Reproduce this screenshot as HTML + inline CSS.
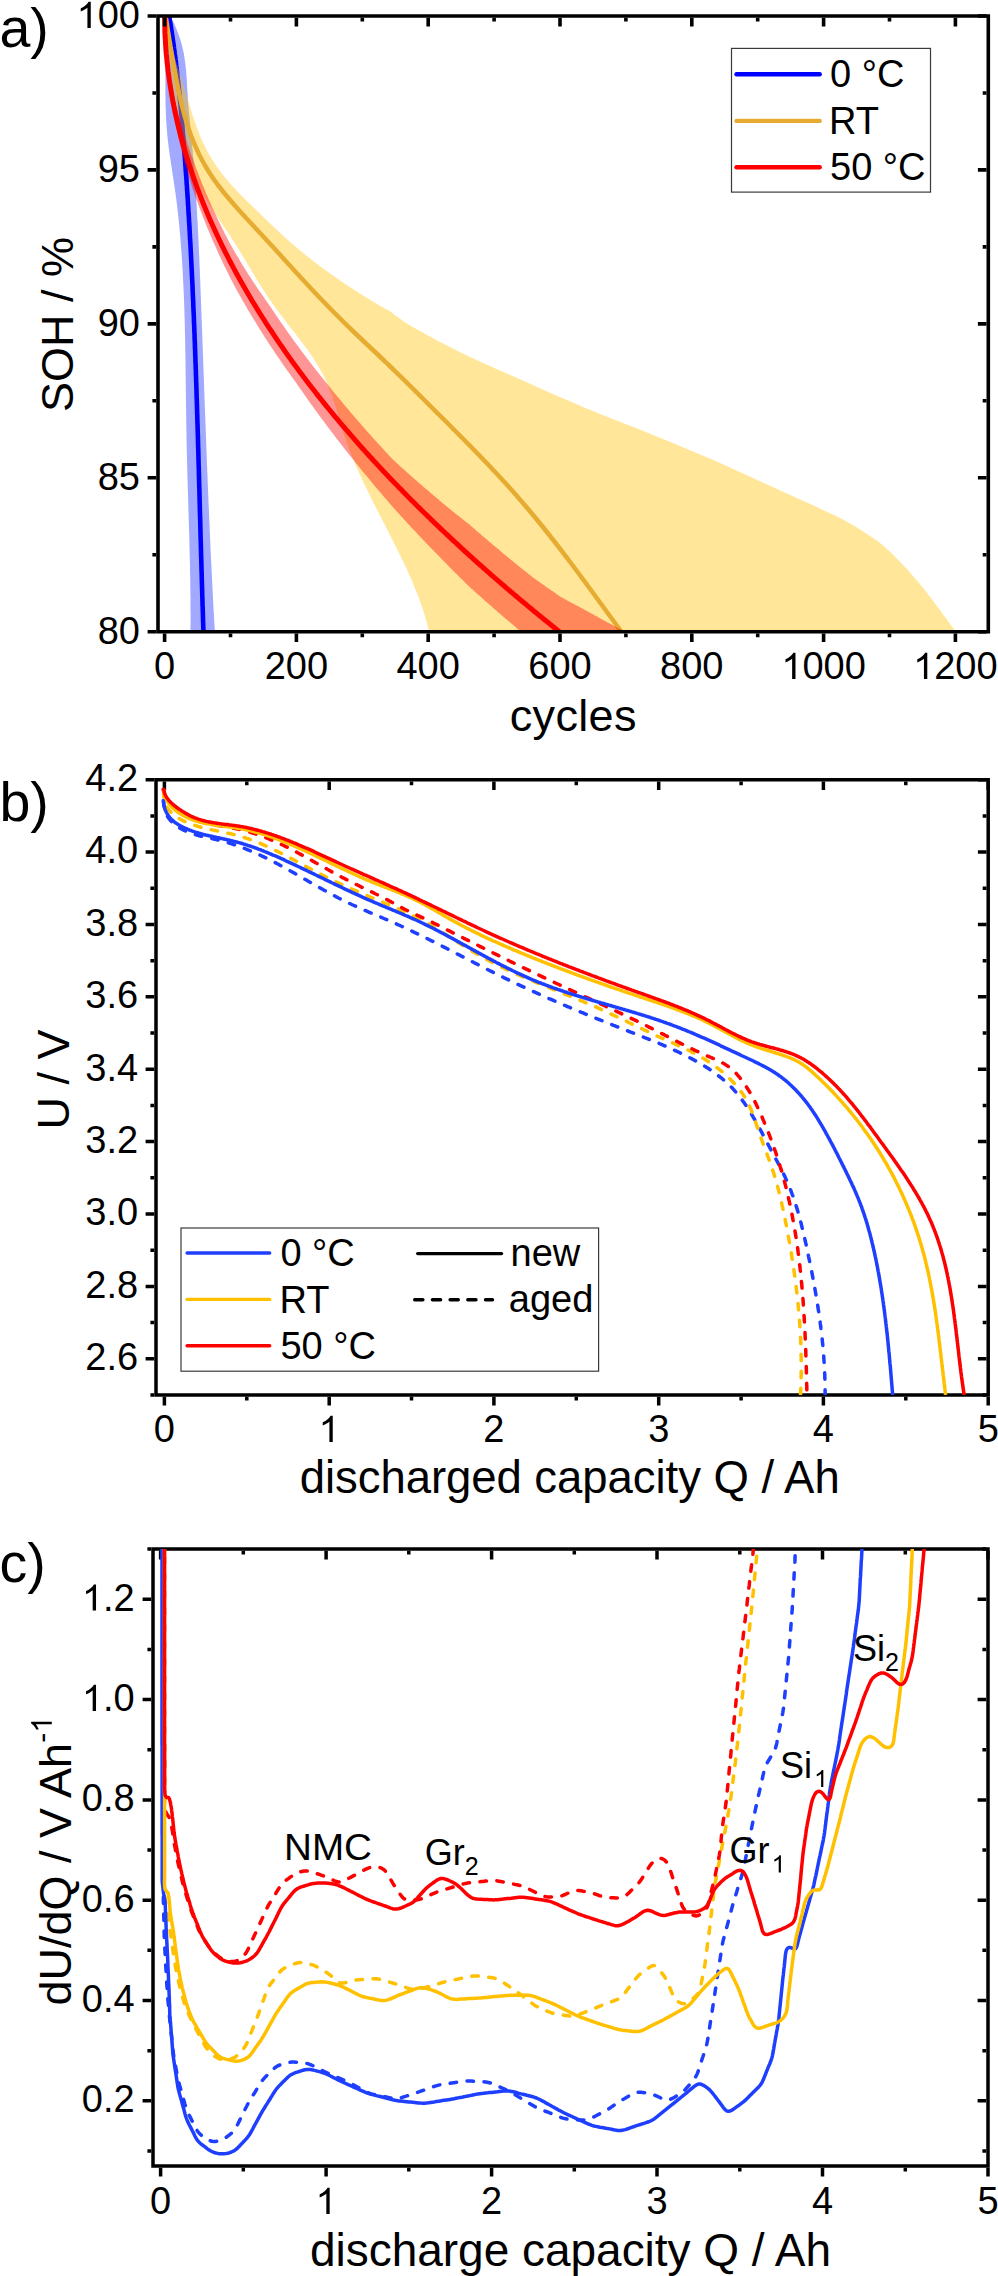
<!DOCTYPE html>
<html><head><meta charset="utf-8"><style>
html,body{margin:0;padding:0;background:#fff;}
svg{display:block;}
text{font-family:"Liberation Sans",sans-serif;fill:#000;}
</style></head><body>
<svg width="998" height="2276" viewBox="0 0 998 2276">
<rect width="998" height="2276" fill="#fff"/>
<defs><clipPath id="ca"><rect x="158.0" y="16.0" width="830.3" height="615.7"/></clipPath><clipPath id="cb"><rect x="156" y="779.7" width="832.2" height="615.3"/></clipPath><clipPath id="cc"><rect x="153" y="1549" width="835" height="617"/></clipPath></defs>
<g clip-path="url(#ca)">
<path d="M163.8,14 L163.9,16 L164.1,18 L164.2,20 L164.3,22 L164.5,24 L164.6,26 L164.7,28 L164.8,30 L164.9,32 L164.9,34 L165,36 L165.1,38 L165.1,40 L165.2,42 L165.2,44 L165.2,46 L165.3,48 L165.3,50 L165.3,52 L165.3,54 L165.3,56 L165.4,58 L165.4,60 L165.4,62 L165.4,64 L165.4,66 L165.4,68 L165.4,70 L165.4,72 L165.4,74 L165.4,76 L165.4,78 L165.4,80 L165.4,82 L165.4,84 L165.4,86 L165.4,88 L165.4,90 L165.4,92 L165.4,94 L165.4,96 L165.5,98 L165.5,100 L165.5,102 L165.6,104 L165.6,106 L165.7,108 L165.8,110 L165.8,112 L165.9,114 L166,116 L166.1,118 L166.2,120 L166.3,122 L166.4,124 L166.6,126 L166.7,128 L166.9,130 L167,132 L167.2,134 L167.4,136 L167.6,138 L167.8,140 L168.1,142 L168.3,144 L168.5,146 L168.8,148 L169.1,150 L169.3,152 L169.6,154 L169.9,156 L170.2,158 L170.5,160 L170.8,162 L171.1,164 L171.4,166 L171.7,168 L172,170 L172.3,172 L172.6,174 L172.9,176 L173.2,178 L173.5,180 L173.8,182 L174.1,184 L174.4,186 L174.7,188 L175,190 L175.3,192 L175.6,194 L175.8,196 L176.1,198 L176.4,200 L176.6,202 L176.9,204 L177.1,206 L177.3,208 L177.6,210 L177.8,212 L178,214 L178.2,216 L178.5,218 L178.7,220 L178.9,222 L179.1,224 L179.3,226 L179.5,228 L179.6,230 L179.8,232 L180,234 L180.2,236 L180.4,238 L180.5,240 L180.7,242 L180.8,244 L181,246 L181.2,248 L181.3,250 L181.4,252 L181.6,254 L181.7,256 L181.9,258 L182,260 L182.1,262 L182.2,264 L182.4,266 L182.5,268 L182.6,270 L182.7,272 L182.8,274 L182.9,276 L183,278 L183.1,280 L183.2,282 L183.3,284 L183.4,286 L183.5,288 L183.6,290 L183.7,292 L183.8,294 L183.9,296 L183.9,298 L184,300 L184.1,302 L184.2,304 L184.2,306 L184.3,308 L184.4,310 L184.4,312 L184.5,314 L184.5,316 L184.6,318 L184.7,320 L184.7,322 L184.8,324 L184.8,326 L184.9,328 L184.9,330 L184.9,332 L185,334 L185,336 L185.1,338 L185.1,340 L185.2,342 L185.2,344 L185.2,346 L185.3,348 L185.3,350 L185.3,352 L185.4,354 L185.4,356 L185.4,358 L185.5,360 L185.5,362 L185.5,364 L185.5,366 L185.6,368 L185.6,370 L185.6,372 L185.6,374 L185.7,376 L185.7,378 L185.7,380 L185.7,382 L185.8,384 L185.8,386 L185.8,388 L185.8,390 L185.9,392 L185.9,394 L185.9,396 L185.9,398 L186,400 L186,402 L186,404 L186,406 L186.1,408 L186.1,410 L186.1,412 L186.1,414 L186.2,416 L186.2,418 L186.2,420 L186.3,422 L186.3,424 L186.3,426 L186.4,428 L186.4,430 L186.4,432 L186.5,434 L186.5,436 L186.5,438 L186.6,440 L186.6,442 L186.6,444 L186.7,446 L186.7,448 L186.8,450 L186.8,452 L186.9,454 L186.9,456 L187,458 L187,460 L187.1,462 L187.1,464 L187.2,466 L187.2,468 L187.3,470 L187.3,472 L187.4,474 L187.4,476 L187.5,478 L187.6,480 L187.6,482 L187.7,484 L187.7,486 L187.8,488 L187.8,490 L187.9,492 L188,494 L188,496 L188.1,498 L188.1,500 L188.2,502 L188.3,504 L188.3,506 L188.4,508 L188.4,510 L188.5,512 L188.6,514 L188.6,516 L188.7,518 L188.7,520 L188.8,522 L188.9,524 L188.9,526 L189,528 L189,530 L189.1,532 L189.2,534 L189.2,536 L189.3,538 L189.3,540 L189.4,542 L189.4,544 L189.5,546 L189.5,548 L189.6,550 L189.6,552 L189.7,554 L189.7,556 L189.8,558 L189.8,560 L189.9,562 L189.9,564 L190,566 L190,568 L190,570 L190.1,572 L190.1,574 L190.2,576 L190.2,578 L190.2,580 L190.3,582 L190.3,584 L190.3,586 L190.3,588 L190.4,590 L190.4,592 L190.4,594 L190.4,596 L190.5,598 L190.5,600 L190.5,602 L190.5,604 L190.5,606 L190.5,608 L190.5,610 L190.5,612 L190.6,614 L190.6,616 L190.6,618 L190.6,620 L190.6,622 L190.5,624 L190.5,626 L190.5,628 L190.5,630 L190.5,632 L190.5,634 L190.5,636 L215.1,636 L215,634 L214.9,632 L214.8,630 L214.6,628 L214.5,626 L214.4,624 L214.3,622 L214.2,620 L214.1,618 L214,616 L213.9,614 L213.7,612 L213.6,610 L213.5,608 L213.4,606 L213.3,604 L213.2,602 L213.1,600 L213,598 L212.9,596 L212.8,594 L212.7,592 L212.6,590 L212.5,588 L212.4,586 L212.3,584 L212.2,582 L212.1,580 L212,578 L211.9,576 L211.8,574 L211.7,572 L211.6,570 L211.5,568 L211.4,566 L211.3,564 L211.2,562 L211.1,560 L211,558 L210.9,556 L210.8,554 L210.7,552 L210.6,550 L210.5,548 L210.4,546 L210.4,544 L210.3,542 L210.2,540 L210.1,538 L210,536 L209.9,534 L209.8,532 L209.7,530 L209.6,528 L209.6,526 L209.5,524 L209.4,522 L209.3,520 L209.2,518 L209.1,516 L209,514 L209,512 L208.9,510 L208.8,508 L208.7,506 L208.6,504 L208.5,502 L208.4,500 L208.4,498 L208.3,496 L208.2,494 L208.1,492 L208,490 L208,488 L207.9,486 L207.8,484 L207.7,482 L207.6,480 L207.6,478 L207.5,476 L207.4,474 L207.3,472 L207.2,470 L207.2,468 L207.1,466 L207,464 L206.9,462 L206.8,460 L206.8,458 L206.7,456 L206.6,454 L206.5,452 L206.5,450 L206.4,448 L206.3,446 L206.2,444 L206.2,442 L206.1,440 L206,438 L205.9,436 L205.9,434 L205.8,432 L205.7,430 L205.6,428 L205.6,426 L205.5,424 L205.4,422 L205.3,420 L205.3,418 L205.2,416 L205.1,414 L205,412 L205,410 L204.9,408 L204.8,406 L204.8,404 L204.7,402 L204.6,400 L204.5,398 L204.5,396 L204.4,394 L204.3,392 L204.2,390 L204.2,388 L204.1,386 L204,384 L204,382 L203.9,380 L203.8,378 L203.7,376 L203.7,374 L203.6,372 L203.5,370 L203.4,368 L203.4,366 L203.3,364 L203.2,362 L203.2,360 L203.1,358 L203,356 L202.9,354 L202.9,352 L202.8,350 L202.7,348 L202.6,346 L202.6,344 L202.5,342 L202.4,340 L202.4,338 L202.3,336 L202.2,334 L202.1,332 L202.1,330 L202,328 L201.9,326 L201.8,324 L201.8,322 L201.7,320 L201.6,318 L201.5,316 L201.5,314 L201.4,312 L201.3,310 L201.2,308 L201.2,306 L201.1,304 L201,302 L200.9,300 L200.9,298 L200.8,296 L200.7,294 L200.6,292 L200.6,290 L200.5,288 L200.4,286 L200.3,284 L200.3,282 L200.2,280 L200.1,278 L200,276 L199.9,274 L199.9,272 L199.8,270 L199.7,268 L199.6,266 L199.5,264 L199.4,262 L199.4,260 L199.3,258 L199.2,256 L199.1,254 L199,252 L198.9,250 L198.8,248 L198.7,246 L198.6,244 L198.6,242 L198.5,240 L198.4,238 L198.3,236 L198.2,234 L198.1,232 L198,230 L197.9,228 L197.8,226 L197.7,224 L197.6,222 L197.4,220 L197.3,218 L197.2,216 L197.1,214 L197,212 L196.9,210 L196.8,208 L196.7,206 L196.5,204 L196.4,202 L196.3,200 L196.2,198 L196,196 L195.9,194 L195.8,192 L195.7,190 L195.5,188 L195.4,186 L195.2,184 L195.1,182 L195,180 L194.8,178 L194.7,176 L194.5,174 L194.4,172 L194.2,170 L194.1,168 L193.9,166 L193.8,164 L193.6,162 L193.4,160 L193.3,158 L193.1,156 L192.9,154 L192.8,152 L192.6,150 L192.4,148 L192.2,146 L192,144 L191.8,142 L191.7,140 L191.5,138 L191.3,136 L191.1,134 L190.9,132 L190.7,130 L190.5,128 L190.3,126 L190.1,124 L189.9,122 L189.7,120 L189.5,118 L189.3,116 L189.1,114 L188.9,112 L188.7,110 L188.6,108 L188.4,106 L188.2,104 L188.1,102 L187.9,100 L187.8,98 L187.7,96 L187.6,94 L187.5,92 L187.3,90 L187.2,88 L187.1,86 L187,84 L186.9,82 L186.8,80 L186.6,78 L186.5,76 L186.4,74 L186.2,72 L186,70 L185.8,68 L185.6,66 L185.4,64 L185.1,62 L184.8,60 L184.5,58 L184.2,56 L183.9,54 L183.5,52 L183,50 L182.6,48 L182.1,46 L181.6,44 L181,42 L180.4,40 L179.8,38 L179.1,36 L178.4,34 L177.6,32 L176.9,30 L176,28 L175.2,26 L174.3,24 L173.3,22 L172.3,20 L171.3,18 L170.2,16 L169.1,14 Z" fill="#0019FF" fill-opacity="0.37"/>
<path d="M168.8,14 L169.1,16 L169.5,18 L169.8,20 L170.1,22 L170.5,24 L170.8,26 L171.1,28 L171.4,30 L171.7,32 L172,34 L172.3,36 L172.6,38 L172.9,40 L173.2,42 L173.5,44 L173.8,46 L174,48 L174.3,50 L174.6,52 L174.8,54 L175.1,56 L175.4,58 L175.6,60 L175.9,62 L176.1,64 L176.3,66 L176.6,68 L176.8,70 L177.1,72 L177.3,74 L177.5,76 L177.7,78 L177.9,80 L178.2,82 L178.4,84 L178.6,86 L178.8,88 L179,90 L179.2,92 L179.4,94 L179.6,96 L179.8,98 L180,100 L180.2,102 L180.4,104 L180.6,106 L180.8,108 L180.9,110 L181.1,112 L181.3,114 L181.5,116 L181.6,118 L181.8,120 L182,122 L182.2,124 L182.3,126 L182.5,128 L182.7,130 L182.8,132 L183,134 L183.2,136 L183.3,138 L183.5,140 L183.6,142 L183.8,144 L184,146 L184.1,148 L184.3,150 L184.4,152 L184.6,154 L184.7,156 L184.9,158 L185,160 L185.2,162 L185.3,164 L185.5,166 L185.6,168 L185.7,170 L185.9,172 L186,174 L186.2,176 L186.3,178 L186.5,180 L186.6,182 L186.7,184 L186.9,186 L187,188 L187.1,190 L187.3,192 L187.4,194 L187.5,196 L187.7,198 L187.8,200 L187.9,202 L188,204 L188.2,206 L188.3,208 L188.4,210 L188.5,212 L188.6,214 L188.8,216 L188.9,218 L189,220 L189.1,222 L189.2,224 L189.4,226 L189.5,228 L189.6,230 L189.7,232 L189.8,234 L189.9,236 L190,238 L190.1,240 L190.3,242 L190.4,244 L190.5,246 L190.6,248 L190.7,250 L190.8,252 L190.9,254 L191,256 L191.1,258 L191.2,260 L191.3,262 L191.4,264 L191.5,266 L191.6,268 L191.7,270 L191.8,272 L191.9,274 L192,276 L192.1,278 L192.2,280 L192.3,282 L192.4,284 L192.5,286 L192.6,288 L192.6,290 L192.7,292 L192.8,294 L192.9,296 L193,298 L193.1,300 L193.2,302 L193.3,304 L193.3,306 L193.4,308 L193.5,310 L193.6,312 L193.7,314 L193.8,316 L193.9,318 L193.9,320 L194,322 L194.1,324 L194.2,326 L194.3,328 L194.3,330 L194.4,332 L194.5,334 L194.6,336 L194.6,338 L194.7,340 L194.8,342 L194.9,344 L194.9,346 L195,348 L195.1,350 L195.2,352 L195.2,354 L195.3,356 L195.4,358 L195.4,360 L195.5,362 L195.6,364 L195.7,366 L195.7,368 L195.8,370 L195.9,372 L195.9,374 L196,376 L196.1,378 L196.1,380 L196.2,382 L196.3,384 L196.3,386 L196.4,388 L196.5,390 L196.5,392 L196.6,394 L196.6,396 L196.7,398 L196.8,400 L196.8,402 L196.9,404 L197,406 L197,408 L197.1,410 L197.1,412 L197.2,414 L197.3,416 L197.3,418 L197.4,420 L197.4,422 L197.5,424 L197.6,426 L197.6,428 L197.7,430 L197.7,432 L197.8,434 L197.9,436 L197.9,438 L198,440 L198,442 L198.1,444 L198.1,446 L198.2,448 L198.3,450 L198.3,452 L198.4,454 L198.4,456 L198.5,458 L198.5,460 L198.6,462 L198.6,464 L198.7,466 L198.8,468 L198.8,470 L198.9,472 L198.9,474 L199,476 L199,478 L199.1,480 L199.1,482 L199.2,484 L199.2,486 L199.3,488 L199.4,490 L199.4,492 L199.5,494 L199.5,496 L199.6,498 L199.6,500 L199.7,502 L199.7,504 L199.8,506 L199.8,508 L199.9,510 L199.9,512 L200,514 L200.1,516 L200.1,518 L200.2,520 L200.2,522 L200.3,524 L200.3,526 L200.4,528 L200.4,530 L200.5,532 L200.5,534 L200.6,536 L200.6,538 L200.7,540 L200.8,542 L200.8,544 L200.9,546 L200.9,548 L201,550 L201,552 L201.1,554 L201.1,556 L201.2,558 L201.3,560 L201.3,562 L201.4,564 L201.4,566 L201.5,568 L201.5,570 L201.6,572 L201.7,574 L201.7,576 L201.8,578 L201.8,580 L201.9,582 L201.9,584 L202,586 L202.1,588 L202.1,590 L202.2,592 L202.2,594 L202.3,596 L202.4,598 L202.4,600 L202.5,602 L202.5,604 L202.6,606 L202.7,608 L202.7,610 L202.8,612 L202.9,614 L202.9,616 L203,618 L203,620 L203.1,622 L203.2,624 L203.2,626 L203.3,628 L203.4,630 L203.4,632 L203.5,634 L203.6,636" fill="none" stroke="#0000FF" stroke-width="4.6"/>
<path d="M165.7,14 L165.8,16 L166.1,18 L166.3,20 L166.6,22 L166.8,24 L167.2,26 L167.5,28 L167.9,30 L168.2,32 L168.7,34 L169.1,36 L169.5,38 L170,40 L170.5,42 L171,44 L171.5,46 L172,48 L172.6,50 L173.1,52 L173.7,54 L174.3,56 L174.9,58 L175.5,60 L176.1,62 L176.7,64 L177.3,66 L177.9,68 L178.5,70 L179.2,72 L179.8,74 L180.5,76 L181.1,78 L181.7,80 L182.4,82 L183,84 L183.6,86 L184.3,88 L184.9,90 L185.5,92 L186.1,94 L186.7,96 L187.4,98 L188,100 L188.6,102 L189.2,104 L189.8,106 L190.4,108 L191,110 L191.6,112 L192.2,114 L192.9,116 L193.5,118 L194.2,120 L194.9,122 L195.6,124 L196.3,126 L197,128 L197.7,130 L198.5,132 L199.3,134 L200.1,136 L201,138 L201.8,140 L202.7,142 L203.7,144 L204.6,146 L205.6,148 L206.7,150 L207.7,152 L208.8,154 L210,156 L211.2,158 L212.4,160 L213.7,162 L215,164 L216.3,166 L217.7,168 L219.2,170 L220.7,172 L222.2,174 L223.8,176 L225.4,178 L227.1,180 L228.8,182 L230.5,184 L232.3,186 L234.1,188 L236,190 L237.9,192 L239.8,194 L241.8,196 L243.8,198 L245.8,200 L247.9,202 L249.9,204 L252,206 L254.1,208 L256.1,210 L258.2,212 L260.3,214 L262.3,216 L264.4,218 L266.5,220 L268.5,222 L270.6,224 L272.7,226 L274.8,228 L277,230 L279.1,232 L281.3,234 L283.5,236 L285.7,238 L287.9,240 L290.2,242 L292.5,244 L294.8,246 L297.2,248 L299.5,250 L302,252 L304.4,254 L306.9,256 L309.4,258 L312,260 L314.6,262 L317.2,264 L319.8,266 L322.5,268 L325.2,270 L328,272 L330.8,274 L333.6,276 L336.5,278 L339.4,280 L342.3,282 L345.3,284 L348.3,286 L351.3,288 L354.4,290 L357.5,292 L360.7,294 L363.9,296 L367.2,298 L370.4,300 L373.8,302 L377.1,304 L380.5,306 L384,308 L387.4,310 L391,312 L392.6,313.2 L394.9,315 L397.6,317 L400.5,319.1 L403.4,321.2 L406,323 L408.3,324.5 L410.5,325.8 L412.7,327 L414.9,328.2 L417.3,329.5 L420,331 L422.9,332.6 L426,334.4 L429.2,336.2 L432.7,338.1 L436.2,340 L440,342 L444,344.1 L448.3,346.3 L452.8,348.5 L457.3,350.7 L461.7,352.9 L466,355 L469.9,356.9 L473.5,358.6 L477.1,360.2 L480.8,361.9 L485.1,363.8 L490,366 L496,368.7 L502.9,371.7 L510.2,375 L517.6,378.2 L524.5,381.3 L530.6,384 L535.5,386.2 L539.6,388.1 L543.3,389.7 L547,391.4 L551.1,393.3 L556.3,395.5 L562.6,398.2 L569.8,401.3 L577.5,404.6 L585.3,407.9 L592.9,411.1 L600,414 L606.4,416.6 L612.4,418.9 L618.3,421.1 L624.1,423.4 L630.1,425.7 L636.5,428.2 L643.4,431 L650.6,433.9 L658,436.9 L665.5,440 L672.9,443 L680,446 L686.9,448.9 L693.6,451.7 L700.2,454.5 L706.8,457.3 L713.4,460.1 L720,463 L726.6,465.9 L733.2,468.9 L739.8,471.9 L746.4,475 L752.9,478 L759.5,481 L766.1,484 L772.6,487 L779.2,490 L785.8,493 L792.4,496 L799,499 L805.8,502.1 L812.9,505.3 L820,508.6 L826.8,511.7 L833.3,514.8 L839,517.6 L843.9,520.1 L848.2,522.4 L852,524.6 L855.6,526.8 L859.2,529 L863,531.5 L866.9,534 L870.7,536.5 L874.5,539 L878.4,541.8 L882.5,545.1 L887,549 L891.8,553.5 L896.8,558.5 L902.1,563.9 L907.6,569.8 L913.2,576.2 L919,583 L925.5,591.1 L932.8,600.6 L940.2,610.6 L947.3,620.1 L953.2,628.3 L957.5,634 L430,636 L429.6,634 L429.1,632 L428.7,630 L428.2,628 L427.7,626 L427.2,624 L426.7,622 L426.1,620 L425.5,618 L424.9,616 L424.3,614 L423.7,612 L423.1,610 L422.4,608 L421.7,606 L421,604 L420.3,602 L419.6,600 L418.8,598 L418.1,596 L417.3,594 L416.5,592 L415.7,590 L414.9,588 L414.1,586 L413.3,584 L412.4,582 L411.6,580 L410.7,578 L409.8,576 L408.9,574 L408,572 L407.1,570 L406.2,568 L405.2,566 L404.3,564 L403.4,562 L402.4,560 L401.4,558 L400.5,556 L399.5,554 L398.5,552 L397.5,550 L396.5,548 L395.5,546 L394.5,544 L393.5,542 L392.5,540 L391.5,538 L390.5,536 L389.5,534 L388.5,532 L387.4,530 L386.4,528 L385.4,526 L384.4,524 L383.3,522 L382.3,520 L381.3,518 L380.3,516 L379.2,514 L378.2,512 L377.2,510 L376.2,508 L375.2,506 L374.1,504 L373.1,502 L372.1,500 L371.1,498 L370.1,496 L369.1,494 L368.2,492 L367.2,490 L366.2,488 L365.3,486 L364.3,484 L363.3,482 L362.4,480 L361.5,478 L360.5,476 L359.6,474 L358.7,472 L357.8,470 L356.9,468 L356.1,466 L355.2,464 L354.3,462 L353.5,460 L352.7,458 L351.8,456 L351,454 L350.2,452 L349.5,450 L348.7,448 L347.9,446 L347.2,444 L346.5,442 L345.8,440 L345.1,438 L344.4,436 L343.8,434 L343.1,432 L342.5,430 L341.9,428 L341.3,426 L340.7,424 L340.1,422 L339.5,420 L338.9,418 L338.3,416 L337.7,414 L337.1,412 L336.5,410 L335.9,408 L335.3,406 L334.7,404 L334.1,402 L333.4,400 L332.7,398 L332,396 L331.3,394 L330.6,392 L329.8,390 L329.1,388 L328.2,386 L327.4,384 L326.5,382 L325.6,380 L324.7,378 L323.7,376 L322.7,374 L321.6,372 L320.5,370 L319.4,368 L318.2,366 L317,364 L315.7,362 L314.4,360 L313.1,358 L311.8,356 L310.4,354 L309,352 L307.6,350 L306.1,348 L304.6,346 L303.2,344 L301.7,342 L300.1,340 L298.6,338 L297.1,336 L295.5,334 L294,332 L292.4,330 L290.9,328 L289.3,326 L287.8,324 L286.2,322 L284.7,320 L283.2,318 L281.6,316 L280.1,314 L278.6,312 L277.1,310 L275.7,308 L274.2,306 L272.8,304 L271.4,302 L270,300 L268.6,298 L267.3,296 L266,294 L264.7,292 L263.4,290 L262.1,288 L260.8,286 L259.6,284 L258.3,282 L257.1,280 L255.9,278 L254.7,276 L253.5,274 L252.3,272 L251.1,270 L249.9,268 L248.7,266 L247.5,264 L246.3,262 L245.1,260 L243.9,258 L242.7,256 L241.5,254 L240.3,252 L239.1,250 L237.8,248 L236.6,246 L235.3,244 L234.1,242 L232.8,240 L231.5,238 L230.2,236 L228.9,234 L227.5,232 L226.2,230 L224.8,228 L223.5,226 L222.1,224 L220.8,222 L219.4,220 L218.1,218 L216.8,216 L215.4,214 L214.1,212 L212.8,210 L211.5,208 L210.2,206 L209,204 L207.7,202 L206.5,200 L205.3,198 L204.1,196 L203,194 L201.9,192 L200.8,190 L199.7,188 L198.7,186 L197.7,184 L196.7,182 L195.7,180 L194.8,178 L193.9,176 L193,174 L192.1,172 L191.3,170 L190.5,168 L189.7,166 L189,164 L188.2,162 L187.5,160 L186.8,158 L186.1,156 L185.5,154 L184.8,152 L184.2,150 L183.6,148 L183,146 L182.5,144 L181.9,142 L181.4,140 L180.9,138 L180.4,136 L179.9,134 L179.5,132 L179,130 L178.6,128 L178.2,126 L177.8,124 L177.4,122 L177,120 L176.7,118 L176.3,116 L176,114 L175.7,112 L175.3,110 L175,108 L174.7,106 L174.4,104 L174.2,102 L173.9,100 L173.6,98 L173.4,96 L173.1,94 L172.9,92 L172.7,90 L172.4,88 L172.2,86 L172,84 L171.8,82 L171.6,80 L171.4,78 L171.2,76 L171,74 L170.8,72 L170.6,70 L170.4,68 L170.2,66 L170,64 L169.8,62 L169.6,60 L169.4,58 L169.2,56 L169,54 L168.8,52 L168.6,50 L168.4,48 L168.2,46 L168,44 L167.8,42 L167.6,40 L167.4,38 L167.1,36 L166.9,34 L166.7,32 L166.4,30 L166.2,28 L165.9,26 L165.6,24 L165.3,22 L165,20 L164.7,18 L164.4,16 L164.1,14 Z" fill="#FFC000" fill-opacity="0.4"/>
<path d="M165.4,14 L165.7,16 L166,18 L166.3,20 L166.6,22 L166.9,24 L167.2,26 L167.5,28 L167.8,30 L168.1,32 L168.4,34 L168.8,36 L169.1,38 L169.4,40 L169.7,42 L170.1,44 L170.4,46 L170.7,48 L171.1,50 L171.4,52 L171.8,54 L172.1,56 L172.5,58 L172.8,60 L173.1,62 L173.5,64 L173.8,66 L174.2,68 L174.6,70 L174.9,72 L175.3,74 L175.6,76 L176,78 L176.4,80 L176.8,82 L177.2,84 L177.6,86 L178,88 L178.4,90 L178.8,92 L179.2,94 L179.7,96 L180.1,98 L180.6,100 L181.1,102 L181.5,104 L182,106 L182.5,108 L183.1,110 L183.6,112 L184.1,114 L184.7,116 L185.3,118 L185.9,120 L186.5,122 L187.1,124 L187.8,126 L188.4,128 L189.1,130 L189.8,132 L190.5,134 L191.2,136 L192,138 L192.8,140 L193.6,142 L194.4,144 L195.3,146 L196.2,148 L197.1,150 L198,152 L198.9,154 L199.9,156 L201,158 L202,160 L203.1,162 L204.2,164 L205.3,166 L206.5,168 L207.7,170 L209,172 L210.2,174 L211.6,176 L212.9,178 L214.3,180 L215.8,182 L217.2,184 L218.7,186 L220.3,188 L221.8,190 L223.4,192 L225,194 L226.7,196 L228.4,198 L230.1,200 L231.8,202 L233.5,204 L235.3,206 L237,208 L238.8,210 L240.6,212 L242.4,214 L244.3,216 L246.1,218 L248,220 L249.8,222 L251.7,224 L253.5,226 L255.4,228 L257.2,230 L259.1,232 L261,234 L262.8,236 L264.7,238 L266.5,240 L268.4,242 L270.2,244 L272.1,246 L273.9,248 L275.7,250 L277.5,252 L279.4,254 L281.2,256 L283,258 L284.8,260 L286.6,262 L288.4,264 L290.3,266 L292.1,268 L293.9,270 L295.7,272 L297.6,274 L299.4,276 L301.2,278 L303.1,280 L305,282 L306.8,284 L308.7,286 L310.5,288 L312.4,290 L314.3,292 L316.2,294 L318.1,296 L320,298 L321.9,300 L323.9,302 L325.8,304 L327.7,306 L329.7,308 L331.6,310 L333.6,312 L335.6,314 L337.6,316 L339.6,318 L341.6,320 L343.6,322 L345.6,324 L347.7,326 L349.7,328 L351.8,330 L353.9,332 L356,334 L358.1,336 L360.2,338 L362.3,340 L364.4,342 L366.5,344 L368.7,346 L370.8,348 L372.9,350 L375.1,352 L377.2,354 L379.3,356 L381.4,358 L383.5,360 L385.6,362 L387.6,364 L389.7,366 L391.8,368 L393.9,370 L395.9,372 L398,374 L400,376 L402.1,378 L404.1,380 L406.1,382 L408.2,384 L410.2,386 L412.2,388 L414.2,390 L416.3,392 L418.3,394 L420.3,396 L422.3,398 L424.3,400 L426.3,402 L428.3,404 L430.3,406 L432.3,408 L434.3,410 L436.3,412 L438.3,414 L440.3,416 L442.4,418 L444.4,420 L446.4,422 L448.4,424 L450.4,426 L452.3,428 L454.3,430 L456.3,432 L458.3,434 L460.3,436 L462.3,438 L464.3,440 L466.2,442 L468.2,444 L470.2,446 L472.1,448 L474.1,450 L476,452 L478,454 L479.9,456 L481.8,458 L483.7,460 L485.7,462 L487.6,464 L489.5,466 L491.4,468 L493.2,470 L495.1,472 L497,474 L498.8,476 L500.7,478 L502.5,480 L504.4,482 L506.2,484 L508,486 L509.8,488 L511.6,490 L513.4,492 L515.1,494 L516.9,496 L518.6,498 L520.4,500 L522.1,502 L523.8,504 L525.5,506 L527.2,508 L528.9,510 L530.6,512 L532.2,514 L533.9,516 L535.6,518 L537.2,520 L538.8,522 L540.5,524 L542.1,526 L543.7,528 L545.3,530 L546.9,532 L548.5,534 L550.1,536 L551.6,538 L553.2,540 L554.8,542 L556.3,544 L557.9,546 L559.4,548 L561,550 L562.5,552 L564,554 L565.5,556 L567.1,558 L568.6,560 L570.1,562 L571.6,564 L573.1,566 L574.6,568 L576.1,570 L577.6,572 L579.1,574 L580.5,576 L582,578 L583.5,580 L585,582 L586.5,584 L587.9,586 L589.4,588 L590.9,590 L592.3,592 L593.8,594 L595.3,596 L596.7,598 L598.2,600 L599.6,602 L601.1,604 L602.6,606 L604,608 L605.5,610 L606.9,612 L608.4,614 L609.9,616 L611.3,618 L612.8,620 L614.3,622 L615.7,624 L617.2,626 L618.7,628 L620.1,630 L621.6,632 L623.1,634" fill="none" stroke="#E6AC32" stroke-width="4.5"/>
<path d="M164.6,14.5 L164.9,30.4 L165.3,37 L165.6,42 L165.9,46.2 L166.2,49.8 L166.6,53.1 L166.9,56.1 L167.2,58.8 L167.6,61.4 L167.9,63.8 L168.2,66 L168.6,68.2 L168.9,70.3 L169.2,72.2 L169.5,74.1 L169.9,75.9 L170.2,77.7 L170.5,79.3 L170.9,81 L171.2,82.6 L171.5,84.3 L171.8,86 L172.2,87.6 L172.5,89.2 L172.8,90.8 L173.2,92.3 L173.5,93.8 L173.8,95.3 L174.2,96.8 L174.5,98.2 L174.8,99.6 L175.1,101 L175.5,102.3 L175.8,103.6 L176.1,104.9 L176.5,106.2 L176.8,107.5 L177.1,108.7 L177.5,109.9 L177.8,111.1 L178.1,112.4 L179.3,117.1 L180.6,121.6 L181.8,125.8 L183,130 L184.2,134 L185.4,137.8 L186.7,141.6 L187.9,145.2 L189.1,148.8 L190.3,152.2 L191.5,155.6 L192.8,158.8 L194,162 L195.2,165.4 L196.4,168.7 L197.7,172 L198.9,175.2 L200.1,178.4 L201.3,181.5 L202.5,184.5 L203.8,187.5 L205,190.5 L206.2,193.4 L207.4,196.3 L208.6,199.1 L209.9,201.9 L211.1,204.6 L212.3,207.4 L213.5,210 L214.8,212.7 L216,215.3 L217.2,217.9 L218.4,220.5 L219.6,223 L220.9,225.5 L222.1,228 L223.3,230.5 L224.5,232.9 L225.7,235.3 L227,237.7 L228.2,240 L229.4,242.4 L230.6,244.7 L231.9,246.8 L233.1,249 L234.3,251.1 L235.5,253.2 L236.7,255.3 L238,257.3 L239.2,259.4 L240.4,261.4 L241.6,263.4 L242.8,265.4 L244.1,267.4 L245.3,269.4 L246.5,271.3 L247.7,273.2 L248.9,275.2 L250.2,277.1 L251.4,278.9 L252.6,280.8 L253.8,282.7 L255.1,284.5 L256.3,286.4 L257.5,288.2 L258.7,290 L259.9,291.8 L261.2,293.6 L262.4,295.3 L263.6,297.1 L264.8,298.8 L266,300.6 L267.3,302.3 L268.5,304 L269.7,305.7 L270.9,307.5 L272.2,309.4 L273.4,311.2 L274.6,313 L275.8,314.8 L277,316.6 L278.3,318.4 L279.5,320.2 L280.7,322 L281.9,323.8 L283.1,325.5 L284.4,327.3 L285.6,329 L286.8,330.8 L288,332.5 L289.3,334.2 L290.5,335.9 L291.7,337.6 L292.9,339.3 L294.1,341 L295.4,342.7 L296.6,344.3 L297.8,346 L299,347.6 L300.2,349.3 L301.5,350.9 L302.7,352.5 L303.9,354.2 L305.1,355.8 L306.4,357.4 L307.6,359 L308.8,360.6 L310,362.2 L311.2,363.8 L312.5,365.4 L313.7,366.9 L314.9,368.5 L316.1,370.1 L317.3,371.6 L318.6,373.2 L319.8,374.7 L321,376.2 L322.2,377.8 L323.5,379.3 L324.7,380.8 L325.9,382.3 L327.1,383.8 L328.3,385.3 L329.6,386.8 L330.8,388.3 L332,389.9 L333.2,391.4 L334.4,392.9 L335.7,394.4 L336.9,395.9 L338.1,397.3 L339.3,398.8 L340.6,400.3 L341.8,401.8 L343,403.3 L344.2,404.7 L345.4,406.2 L346.7,407.6 L347.9,409.1 L349.1,410.5 L350.3,412 L351.5,413.4 L352.8,414.8 L354,416.3 L355.2,417.7 L356.4,419.1 L357.7,420.5 L358.9,421.9 L360.1,423.3 L361.3,424.7 L362.5,426.1 L363.8,427.5 L365,428.9 L366.2,430.3 L367.4,431.7 L368.6,433.1 L369.9,434.4 L371.1,435.8 L372.3,437.2 L373.5,438.5 L374.8,439.9 L376,441.2 L377.2,442.6 L378.4,443.9 L379.6,445.3 L380.9,446.6 L382.1,448 L383.3,449.3 L384.5,450.6 L385.7,452 L387,453.3 L388.2,454.6 L389.4,455.9 L390.6,457.2 L391.9,458.5 L393.1,459.7 L394.3,460.8 L395.5,461.9 L396.7,463 L398,464.2 L399.2,465.3 L400.4,466.4 L401.6,467.5 L402.8,468.6 L404.1,469.7 L405.3,470.8 L406.5,471.9 L407.7,473 L409,474.1 L410.2,475.2 L411.4,476.2 L412.6,477.3 L413.8,478.4 L415.1,479.5 L416.3,480.5 L417.5,481.6 L418.7,482.7 L419.9,483.7 L421.2,484.8 L422.4,485.8 L423.6,486.9 L424.8,488 L426,489 L427.3,490 L428.5,491.1 L429.7,492.1 L430.9,493.2 L432.2,494.2 L433.4,495.2 L434.6,496.3 L435.8,497.3 L437,498.3 L438.3,499.3 L439.5,500.4 L440.7,501.4 L441.9,502.4 L443.1,503.4 L444.4,504.4 L445.6,505.4 L446.8,506.4 L448,507.4 L449.3,508.4 L450.5,509.4 L451.7,510.4 L452.9,511.4 L454.1,512.4 L455.4,513.4 L456.6,514.4 L457.8,515.4 L459,516.3 L460.2,517.3 L461.5,518.3 L462.7,519.3 L463.9,520.2 L465.1,521.2 L466.4,522.2 L467.6,523.1 L468.8,524.1 L470,525.1 L471.2,526.2 L472.5,527.2 L473.7,528.3 L474.9,529.3 L476.1,530.4 L477.3,531.5 L478.6,532.5 L479.8,533.6 L481,534.6 L482.2,535.7 L483.5,536.7 L484.7,537.8 L485.9,538.8 L487.1,539.8 L488.3,540.9 L489.6,541.9 L490.8,542.9 L492,544 L493.2,545 L494.4,546 L495.7,547.1 L496.9,548.1 L498.1,549.1 L499.3,550.1 L500.6,551.2 L501.8,552.2 L503,553.2 L504.2,554.2 L505.4,555.2 L506.7,556.2 L507.9,557.2 L509.1,558.2 L510.3,559.2 L511.5,560.2 L512.8,561.2 L514,562.2 L515.2,563.2 L516.4,564.2 L517.7,565.2 L518.9,566.2 L520.1,567.2 L521.3,568.2 L522.5,569.2 L523.8,570.2 L525,571.1 L526.2,572.1 L527.4,573.1 L528.6,574.1 L529.9,575.1 L531.1,576 L532.3,576.9 L533.5,577.8 L534.8,578.7 L536,579.5 L537.2,580.4 L538.4,581.3 L539.6,582.2 L540.9,583 L542.1,583.9 L543.3,584.8 L544.5,585.6 L545.7,586.5 L547,587.4 L548.2,588.2 L549.4,589.1 L550.6,589.9 L551.9,590.8 L553.1,591.6 L554.3,592.5 L555.5,593.3 L556.7,594.2 L558,595 L559.2,595.9 L560.4,596.7 L561.6,597.3 L562.8,598 L564.1,598.7 L565.3,599.4 L566.5,600 L567.7,600.7 L569,601.4 L570.2,602 L571.4,602.7 L572.6,603.3 L573.8,604 L575.1,604.7 L576.3,605.3 L577.5,606 L578.7,606.6 L579.9,607.3 L581.2,607.9 L582.4,608.6 L583.6,609.2 L584.8,609.9 L586.1,610.5 L587.3,611.2 L588.5,611.9 L589.7,612.6 L590.9,613.2 L592.2,613.9 L593.4,614.6 L594.6,615.3 L595.8,616 L597,616.6 L598.3,617.3 L599.5,618 L600.7,618.7 L601.9,619.3 L603.1,620 L604.4,620.7 L605.6,621.3 L606.8,622 L608,622.7 L609.3,623.3 L610.5,624 L611.7,624.6 L612.9,625.3 L614.1,626 L615.4,626.6 L616.6,627.3 L617.8,627.9 L619,628.6 L620.2,629.2 L621.5,629.8 L622.7,630.5 L623.9,631.1 L625.1,631.7 L626.4,632.3 L627.6,632.9 L628.8,633.5 L630,634.1 L631.2,634.7 L632.5,635.3 L633.7,636 L634.9,636.6 L636.1,637.2 L637.3,637.8 L638.6,638.4 L639.8,639 L641,639.6 L529.9,639.1 L528.6,638.1 L527.4,637 L526.2,636 L525,635 L523.8,634 L522.5,633 L521.3,631.9 L520.1,630.9 L518.9,629.9 L517.7,628.9 L516.4,627.8 L515.2,626.8 L514,625.8 L512.8,624.7 L511.5,623.7 L510.3,622.6 L509.1,621.6 L507.9,620.6 L506.7,619.5 L505.4,618.5 L504.2,617.4 L503,616.4 L501.8,615.3 L500.6,614.3 L499.3,613.2 L498.1,612.2 L496.9,611.1 L495.7,610 L494.4,609 L493.2,607.9 L492,606.8 L490.8,605.8 L489.6,604.7 L488.3,603.6 L487.1,602.5 L485.9,601.5 L484.7,600.4 L483.5,599.3 L482.2,598.2 L481,597.1 L479.8,596.1 L478.6,595 L477.3,593.9 L476.1,592.8 L474.9,591.7 L473.7,590.6 L472.5,589.5 L471.2,588.4 L470,587.3 L468.8,586.1 L467.6,584.9 L466.4,583.7 L465.1,582.5 L463.9,581.3 L462.7,580.1 L461.5,578.9 L460.2,577.7 L459,576.5 L457.8,575.3 L456.6,574.1 L455.4,572.9 L454.1,571.6 L452.9,570.4 L451.7,569.2 L450.5,568 L449.3,566.7 L448,565.5 L446.8,564.3 L445.6,563 L444.4,561.8 L443.1,560.6 L441.9,559.3 L440.7,558.1 L439.5,556.8 L438.3,555.6 L437,554.3 L435.8,553.1 L434.6,551.8 L433.4,550.5 L432.2,549.3 L430.9,548 L429.7,546.8 L428.5,545.5 L427.3,544.2 L426,542.9 L424.8,541.6 L423.6,540.4 L422.4,539.1 L421.2,537.8 L419.9,536.5 L418.7,535.2 L417.5,533.9 L416.3,532.6 L415.1,531.3 L413.8,530 L412.6,528.7 L411.4,527.4 L410.2,526.1 L409,524.8 L407.7,523.4 L406.5,522.1 L405.3,520.8 L404.1,519.5 L402.8,518.1 L401.6,516.8 L400.4,515.5 L399.2,514.1 L398,512.8 L396.7,511.4 L395.5,510.1 L394.3,508.7 L393.1,507.3 L391.9,505.9 L390.6,504.5 L389.4,503.1 L388.2,501.7 L387,500.3 L385.7,498.8 L384.5,497.4 L383.3,496 L382.1,494.6 L380.9,493.1 L379.6,491.7 L378.4,490.2 L377.2,488.8 L376,487.4 L374.8,485.9 L373.5,484.4 L372.3,483 L371.1,481.5 L369.9,480.1 L368.6,478.6 L367.4,477.1 L366.2,475.6 L365,474.2 L363.8,472.7 L362.5,471.2 L361.3,469.7 L360.1,468.2 L358.9,466.7 L357.7,465.2 L356.4,463.7 L355.2,462.2 L354,460.6 L352.8,459.1 L351.5,457.6 L350.3,456 L349.1,454.5 L347.9,453 L346.7,451.4 L345.4,449.9 L344.2,448.3 L343,446.7 L341.8,445.2 L340.6,443.6 L339.3,442 L338.1,440.5 L336.9,438.9 L335.7,437.3 L334.4,435.7 L333.2,434.1 L332,432.5 L330.8,430.9 L329.6,429.3 L328.3,427.6 L327.1,426 L325.9,424.4 L324.7,422.8 L323.5,421.1 L322.2,419.5 L321,417.8 L319.8,416.2 L318.6,414.5 L317.3,412.8 L316.1,411.1 L314.9,409.5 L313.7,407.8 L312.5,406.1 L311.2,404.4 L310,402.7 L308.8,401 L307.6,399.2 L306.4,397.5 L305.1,395.8 L303.9,394 L302.7,392.3 L301.5,390.5 L300.2,388.8 L299,387 L297.8,385.2 L296.6,383.4 L295.4,381.7 L294.1,380.1 L292.9,378.4 L291.7,376.7 L290.5,375 L289.3,373.3 L288,371.6 L286.8,369.9 L285.6,368.1 L284.4,366.4 L283.1,364.6 L281.9,362.9 L280.7,361.1 L279.5,359.3 L278.3,357.5 L277,355.7 L275.8,353.9 L274.6,352.1 L273.4,350.3 L272.2,348.5 L270.9,346.6 L269.7,344.8 L268.5,342.9 L267.3,341 L266,339.1 L264.8,337.2 L263.6,335.3 L262.4,333.4 L261.2,331.5 L259.9,329.5 L258.7,327.6 L257.5,325.6 L256.3,323.6 L255.1,321.6 L253.8,319.6 L252.6,317.6 L251.4,315.6 L250.2,313.5 L248.9,311.5 L247.7,309.4 L246.5,307.3 L245.3,305.2 L244.1,303.1 L242.8,300.9 L241.6,298.8 L240.4,296.6 L239.2,294.4 L238,292.2 L236.7,290 L235.5,287.7 L234.3,285.4 L233.1,283.2 L231.9,280.9 L230.6,278.5 L229.4,276.1 L228.2,273.7 L227,271.2 L225.7,268.7 L224.5,266.2 L223.3,263.7 L222.1,261.1 L220.9,258.5 L219.6,255.9 L218.4,253.2 L217.2,250.6 L216,247.8 L214.8,245.1 L213.5,242.3 L212.3,239.5 L211.1,236.7 L209.9,233.8 L208.6,230.9 L207.4,228 L206.2,225 L205,222 L203.8,218.9 L202.5,215.8 L201.3,212.6 L200.1,209.4 L198.9,206.1 L197.7,202.8 L196.4,199.4 L195.2,196 L194,192.5 L192.8,188.9 L191.5,185.2 L190.3,181.5 L189.1,177.7 L187.9,173.8 L186.7,169.7 L185.4,165.6 L184.2,161.3 L183,156.7 L181.8,151.9 L180.6,147 L179.3,141.9 L178.1,136.6 L177.8,135.2 L177.5,133.7 L177.1,132.2 L176.8,130.6 L176.5,129.1 L176.1,127.6 L175.8,126 L175.5,124.4 L175.1,122.7 L174.8,121.1 L174.5,119.4 L174.2,117.7 L173.8,116 L173.5,114.3 L173.2,112.5 L172.8,110.7 L172.5,108.8 L172.2,106.9 L171.8,105 L171.5,103 L171.2,101 L170.9,98.7 L170.5,96.3 L170.2,93.8 L169.9,91.3 L169.5,88.7 L169.2,86.1 L168.9,83.3 L168.6,80.5 L168.2,77.6 L167.9,74.5 L167.6,71.4 L167.2,68 L166.9,64.5 L166.6,60.8 L166.2,56.7 L165.9,52.3 L165.6,47.4 L165.3,41.6 L164.9,34.3 L164.6,17.5 Z" fill="#FF0000" fill-opacity="0.41"/>
<path d="M164.6,16 L164.9,32.4 L165.3,39.3 L165.6,44.7 L165.9,49.3 L166.2,53.3 L166.6,56.9 L166.9,60.3 L167.2,63.4 L167.6,66.4 L167.9,69.2 L168.2,71.8 L168.6,74.4 L168.9,76.8 L169.2,79.1 L169.5,81.4 L169.9,83.6 L170.2,85.7 L170.5,87.8 L170.9,89.8 L171.2,91.8 L171.5,93.7 L171.8,95.6 L172.2,97.4 L172.5,99.2 L172.8,101 L173.2,102.7 L173.5,104.4 L173.8,106 L174.2,107.7 L174.5,109.3 L174.8,110.9 L175.1,112.4 L175.5,113.9 L175.8,115.4 L176.1,116.9 L176.5,118.4 L176.8,119.8 L177.1,121.3 L177.5,122.7 L177.8,124.1 L178.1,125.4 L179.4,130.7 L180.7,135.8 L182,140.6 L183.3,145.3 L184.6,149.8 L185.9,154.2 L187.2,158.4 L188.5,162.6 L189.8,166.6 L191.1,170.5 L192.4,174.3 L193.7,178.1 L195,181.8 L196.3,185.3 L197.6,188.9 L198.9,192.3 L200.2,195.7 L201.5,199 L202.8,202.3 L204.1,205.5 L205.4,208.7 L206.7,211.8 L208,214.9 L209.3,217.9 L210.6,220.9 L211.9,223.8 L213.2,226.7 L214.5,229.6 L215.8,232.4 L217.1,235.2 L218.4,238 L219.7,240.7 L221,243.4 L222.3,246.1 L223.6,248.7 L224.9,251.3 L226.2,253.9 L227.5,256.4 L228.8,259 L230.1,261.5 L231.4,264 L232.7,266.4 L234,268.9 L235.3,271.3 L236.6,273.7 L237.9,276 L239.2,278.4 L240.5,280.7 L241.8,283 L243.1,285.3 L244.4,287.6 L245.7,289.8 L247,292.1 L248.3,294.3 L249.6,296.5 L250.9,298.7 L252.2,300.9 L253.5,303 L254.8,305.1 L256.1,307.3 L257.4,309.4 L258.7,311.5 L260,313.6 L261.3,315.6 L262.6,317.7 L263.9,319.7 L265.2,321.8 L266.5,323.8 L267.8,325.8 L269.1,327.8 L270.4,329.7 L271.7,331.7 L273,333.7 L274.3,335.6 L275.6,337.5 L276.9,339.5 L278.2,341.4 L279.5,343.3 L280.8,345.2 L282.1,347 L283.4,348.9 L284.6,350.8 L285.9,352.6 L287.2,354.5 L288.5,356.3 L289.8,358.1 L291.1,359.9 L292.4,361.7 L293.7,363.5 L295,365.3 L296.3,367.1 L297.6,368.8 L298.9,370.6 L300.2,372.4 L301.5,374.1 L302.8,375.8 L304.1,377.6 L305.4,379.3 L306.7,381 L308,382.7 L309.3,384.4 L310.6,386.1 L311.9,387.8 L313.2,389.4 L314.5,391.1 L315.8,392.8 L317.1,394.4 L318.4,396.1 L319.7,397.7 L321,399.3 L322.3,401 L323.6,402.6 L324.9,404.2 L326.2,405.8 L327.5,407.4 L328.8,409 L330.1,410.6 L331.4,412.2 L332.7,413.7 L334,415.3 L335.3,416.9 L336.6,418.4 L337.9,420 L339.2,421.5 L340.5,423.1 L341.8,424.6 L343.1,426.1 L344.4,427.7 L345.7,429.2 L347,430.7 L348.3,432.2 L349.6,433.7 L350.9,435.2 L352.2,436.7 L353.5,438.2 L354.8,439.7 L356.1,441.2 L357.4,442.6 L358.7,444.1 L360,445.6 L361.3,447 L362.6,448.5 L363.9,449.9 L365.2,451.4 L366.5,452.8 L367.8,454.3 L369.1,455.7 L370.4,457.1 L371.7,458.5 L373,460 L374.3,461.4 L375.6,462.8 L376.9,464.2 L378.2,465.6 L379.5,467 L380.8,468.4 L382.1,469.8 L383.4,471.2 L384.7,472.5 L386,473.9 L387.3,475.3 L388.6,476.7 L389.9,478 L391.2,479.4 L392.5,480.7 L393.8,482.1 L395.1,483.4 L396.4,484.8 L397.7,486.1 L399,487.5 L400.3,488.8 L401.6,490.1 L402.9,491.5 L404.2,492.8 L405.5,494.1 L406.8,495.4 L408.1,496.8 L409.4,498.1 L410.7,499.4 L412,500.7 L413.3,502 L414.6,503.3 L415.9,504.6 L417.2,505.9 L418.5,507.2 L419.8,508.4 L421.1,509.7 L422.4,511 L423.7,512.3 L425,513.5 L426.3,514.8 L427.6,516.1 L428.9,517.3 L430.2,518.6 L431.5,519.9 L432.8,521.1 L434.1,522.4 L435.4,523.6 L436.7,524.9 L438,526.1 L439.3,527.3 L440.6,528.6 L441.9,529.8 L443.2,531 L444.5,532.3 L445.8,533.5 L447.1,534.7 L448.4,535.9 L449.7,537.2 L451,538.4 L452.3,539.6 L453.6,540.8 L454.9,542 L456.2,543.2 L457.5,544.4 L458.8,545.6 L460.1,546.8 L461.3,548 L462.6,549.2 L463.9,550.4 L465.2,551.6 L466.5,552.7 L467.8,553.9 L469.1,555.1 L470.4,556.3 L471.7,557.4 L473,558.6 L474.3,559.8 L475.6,560.9 L476.9,562.1 L478.2,563.3 L479.5,564.4 L480.8,565.6 L482.1,566.7 L483.4,567.9 L484.7,569 L486,570.2 L487.3,571.3 L488.6,572.5 L489.9,573.6 L491.2,574.8 L492.5,575.9 L493.8,577 L495.1,578.2 L496.4,579.3 L497.7,580.4 L499,581.5 L500.3,582.7 L501.6,583.8 L502.9,584.9 L504.2,586 L505.5,587.1 L506.8,588.3 L508.1,589.4 L509.4,590.5 L510.7,591.6 L512,592.7 L513.3,593.8 L514.6,594.9 L515.9,596 L517.2,597.1 L518.5,598.2 L519.8,599.3 L521.1,600.4 L522.4,601.5 L523.7,602.5 L525,603.6 L526.3,604.7 L527.6,605.8 L528.9,606.9 L530.2,607.9 L531.5,609 L532.8,610.1 L534.1,611.2 L535.4,612.2 L536.7,613.3 L538,614.4 L539.3,615.4 L540.6,616.5 L541.9,617.6 L543.2,618.6 L544.5,619.7 L545.8,620.7 L547.1,621.8 L548.4,622.8 L549.7,623.9 L551,624.9 L552.3,626 L553.6,627 L554.9,628.1 L556.2,629.1 L557.5,630.2 L558.8,631.2 L560.1,632.2 L561.4,633.3 L562.7,634.3 L564,635.3 L565.3,636.4 L566.6,637.4" fill="none" stroke="#FF0000" stroke-width="5"/>
</g>
<path d="M158,16 H988.3 V631.7 H158 Z" fill="none" stroke="#000" stroke-width="3.6" stroke-linejoin="miter" stroke-linecap="square"/>
<path d="M164.6,633.5 v8.6 M164.6,17.8 v8.6 M296.4,633.5 v8.6 M296.4,17.8 v8.6 M428.2,633.5 v8.6 M428.2,17.8 v8.6 M560,633.5 v8.6 M560,17.8 v8.6 M691.8,633.5 v8.6 M691.8,17.8 v8.6 M823.6,633.5 v8.6 M823.6,17.8 v8.6 M955.4,633.5 v8.6 M955.4,17.8 v8.6 M230.5,633.5 v3.8 M230.5,17.8 v3.8 M362.3,633.5 v3.8 M362.3,17.8 v3.8 M494.1,633.5 v3.8 M494.1,17.8 v3.8 M625.9,633.5 v3.8 M625.9,17.8 v3.8 M757.7,633.5 v3.8 M757.7,17.8 v3.8 M889.5,633.5 v3.8 M889.5,17.8 v3.8 M156.2,631.7 h-8.6 M986.5,631.7 h-8.6 M156.2,477.8 h-8.6 M986.5,477.8 h-8.6 M156.2,323.9 h-8.6 M986.5,323.9 h-8.6 M156.2,169.9 h-8.6 M986.5,169.9 h-8.6 M156.2,16 h-8.6 M986.5,16 h-8.6 M156.2,554.7 h-3.8 M986.5,554.7 h-3.8 M156.2,400.8 h-3.8 M986.5,400.8 h-3.8 M156.2,246.9 h-3.8 M986.5,246.9 h-3.8 M156.2,93 h-3.8 M986.5,93 h-3.8" fill="none" stroke="#000" stroke-width="3.6" stroke-linecap="butt"/>
<text x="164.6" y="679" font-size="38" text-anchor="middle" >0</text>
<text x="296.4" y="679" font-size="38" text-anchor="middle" >200</text>
<text x="428.2" y="679" font-size="38" text-anchor="middle" >400</text>
<text x="560" y="679" font-size="38" text-anchor="middle" >600</text>
<text x="691.8" y="679" font-size="38" text-anchor="middle" >800</text>
<text x="781.3" y="679" font-size="38" > 000</text>
<path d="M763,0 L583,0 L583,1098 C540,1059 483,1019 413,980 C343,941 280,911 224,891 L224,1058 C325,1103 413,1158 488,1222 C563,1286 616,1349 647,1409 L763,1409 Z" transform="translate(781.33,679.00) scale(0.01855,-0.01855)" fill="#000"/>
<text x="913.1" y="679" font-size="38" > 200</text>
<path d="M763,0 L583,0 L583,1098 C540,1059 483,1019 413,980 C343,941 280,911 224,891 L224,1058 C325,1103 413,1158 488,1222 C563,1286 616,1349 647,1409 L763,1409 Z" transform="translate(913.13,679.00) scale(0.01855,-0.01855)" fill="#000"/>
<text x="140" y="643.7" font-size="38" text-anchor="end" >80</text>
<text x="140" y="489.8" font-size="38" text-anchor="end" >85</text>
<text x="140" y="335.9" font-size="38" text-anchor="end" >90</text>
<text x="140" y="181.9" font-size="38" text-anchor="end" >95</text>
<text x="76.6" y="28" font-size="38" > 00</text>
<path d="M763,0 L583,0 L583,1098 C540,1059 483,1019 413,980 C343,941 280,911 224,891 L224,1058 C325,1103 413,1158 488,1222 C563,1286 616,1349 647,1409 L763,1409 Z" transform="translate(76.60,28.00) scale(0.01855,-0.01855)" fill="#000"/>
<text x="573.1" y="730.9" font-size="45" text-anchor="middle" textLength="126.8" lengthAdjust="spacing">cycles</text>
<text transform="translate(72.7,324.4) rotate(-90)" x="0" y="0" font-size="45" text-anchor="middle">SOH / %</text>
<text x="-0.5" y="46.5" font-size="55.5" text-anchor="start" >a)</text>
<rect x="731.5" y="48.4" width="199" height="143.7" fill="#fff" stroke="#3a3a3a" stroke-width="1.2"/>
<path d="M736.5,74.2 H819.7" stroke="#0000FF" stroke-width="4.4" stroke-linecap="round"/>
<path d="M736.5,120.9 H819.7" stroke="#E6AC32" stroke-width="4.4" stroke-linecap="round"/>
<path d="M736.5,167.2 H819.7" stroke="#FF0000" stroke-width="4.4" stroke-linecap="round"/>
<text x="830" y="86.7" font-size="38" text-anchor="start" >0 °C</text>
<text x="829" y="133.7" font-size="38" text-anchor="start" >RT</text>
<text x="830" y="180" font-size="38" text-anchor="start" >50 °C</text>
<path d="M156,779.7 H988.2 V1395 H156 Z" fill="none" stroke="#000" stroke-width="3.5" stroke-linejoin="miter" stroke-linecap="square"/>
<path d="M164.4,1396.8 v8.6 M164.4,781.5 v8.6 M329.2,1396.8 v8.6 M329.2,781.5 v8.6 M493.9,1396.8 v8.6 M493.9,781.5 v8.6 M658.7,1396.8 v8.6 M658.7,781.5 v8.6 M823.4,1396.8 v8.6 M823.4,781.5 v8.6 M988.2,1396.8 v8.6 M988.2,781.5 v8.6 M246.8,1396.8 v3.8 M246.8,781.5 v3.8 M411.5,1396.8 v3.8 M411.5,781.5 v3.8 M576.3,1396.8 v3.8 M576.3,781.5 v3.8 M741.1,1396.8 v3.8 M741.1,781.5 v3.8 M905.8,1396.8 v3.8 M905.8,781.5 v3.8 M154.2,1358.7 h-8.6 M986.5,1358.7 h-8.6 M154.2,1286.4 h-8.6 M986.5,1286.4 h-8.6 M154.2,1214 h-8.6 M986.5,1214 h-8.6 M154.2,1141.6 h-8.6 M986.5,1141.6 h-8.6 M154.2,1069.2 h-8.6 M986.5,1069.2 h-8.6 M154.2,996.8 h-8.6 M986.5,996.8 h-8.6 M154.2,924.5 h-8.6 M986.5,924.5 h-8.6 M154.2,852.1 h-8.6 M986.5,852.1 h-8.6 M154.2,779.7 h-8.6 M986.5,779.7 h-8.6 M154.2,1394.9 h-3.8 M986.5,1394.9 h-3.8 M154.2,1322.5 h-3.8 M986.5,1322.5 h-3.8 M154.2,1250.2 h-3.8 M986.5,1250.2 h-3.8 M154.2,1177.8 h-3.8 M986.5,1177.8 h-3.8 M154.2,1105.4 h-3.8 M986.5,1105.4 h-3.8 M154.2,1033 h-3.8 M986.5,1033 h-3.8 M154.2,960.7 h-3.8 M986.5,960.7 h-3.8 M154.2,888.3 h-3.8 M986.5,888.3 h-3.8 M154.2,815.9 h-3.8 M986.5,815.9 h-3.8" fill="none" stroke="#000" stroke-width="3.5" stroke-linecap="butt"/>
<g clip-path="url(#cb)" fill="none" stroke-width="3.5" stroke-linejoin="round">
<path d="M163.9,800.1 L163.8,801.6 L163.8,803 L163.9,804.3 L164,805.6 L164.2,806.9 L164.4,808.2 L164.7,809.4 L165,810.6 L165.4,811.8 L165.8,812.9 L166.2,814 L166.8,815.1 L167.3,816.1 L167.9,817.1 L168.6,818 L169.3,819 L170,819.9 L170.7,820.8 L171.5,821.6 L172.3,822.4 L173.2,823.2 L174.1,824 L175,824.8 L175.9,825.5 L176.9,826.2 L177.9,826.8 L178.9,827.5 L179.9,828.1 L181,828.7 L182,829.3 L183.1,829.8 L184.2,830.4 L185.3,830.9 L186.4,831.4 L187.6,831.9 L188.7,832.3 L189.9,832.8 L191,833.2 L192.2,833.6 L193.3,834 L194.5,834.3 L195.6,834.7 L196.8,835 L197.9,835.4 L199.1,835.7 L200.2,836 L201.4,836.3 L202.5,836.5 L203.6,836.8 L204.8,837.1 L205.9,837.3 L207.1,837.6 L208.2,837.8 L209.3,838.1 L210.5,838.3 L211.6,838.6 L212.7,838.8 L213.9,839.1 L215,839.4 L216.1,839.6 L217.2,839.9 L218.4,840.1 L219.5,840.4 L220.6,840.7 L221.7,841 L222.9,841.3 L224,841.6 L225.1,841.9 L226.2,842.2 L227.3,842.6 L228.5,842.9 L229.6,843.2 L230.7,843.6 L231.8,843.9 L232.9,844.3 L234,844.7 L235.1,845 L236.2,845.4 L237.4,845.8 L238.5,846.2 L239.6,846.6 L240.7,847 L241.8,847.4 L242.9,847.8 L244,848.3 L245.1,848.7 L246.2,849.1 L247.3,849.6 L248.4,850 L249.5,850.5 L250.6,850.9 L251.7,851.4 L252.8,851.8 L253.9,852.3 L255,852.8 L256.1,853.3 L257.2,853.8 L258.3,854.3 L259.4,854.8 L260.5,855.3 L261.5,855.8 L262.6,856.3 L263.7,856.8 L264.8,857.4 L265.9,857.9 L267,858.4 L268.1,859 L269.2,859.5 L270.3,860.1 L271.3,860.6 L272.4,861.2 L273.5,861.8 L274.6,862.3 L275.7,862.9 L276.8,863.5 L277.9,864 L278.9,864.6 L280,865.2 L281.1,865.8 L282.2,866.4 L283.3,867 L284.4,867.6 L285.4,868.2 L286.5,868.8 L287.6,869.4 L288.7,870 L289.7,870.6 L290.8,871.2 L291.9,871.8 L293,872.4 L294.1,873 L295.1,873.6 L296.2,874.2 L297.3,874.9 L298.4,875.5 L299.4,876.1 L300.5,876.7 L301.6,877.3 L302.7,877.9 L303.7,878.6 L304.8,879.2 L305.9,879.8 L307,880.4 L308,881 L309.1,881.7 L310.2,882.3 L311.2,882.9 L312.3,883.5 L313.4,884.1 L314.5,884.7 L315.5,885.3 L316.6,886 L317.7,886.6 L318.7,887.2 L319.8,887.8 L320.9,888.4 L322,889 L323,889.6 L324.1,890.2 L325.2,890.8 L326.2,891.4 L327.3,892 L328.4,892.5 L329.4,893.1 L330.5,893.7 L331.6,894.3 L332.6,894.9 L333.7,895.4 L334.8,896 L335.8,896.6 L336.9,897.1 L338,897.7 L339,898.2 L340.1,898.8 L341.2,899.3 L342.2,899.9 L343.3,900.4 L344.4,900.9 L345.4,901.4 L346.5,902 L347.6,902.5 L348.6,903 L349.7,903.5 L350.8,904 L351.8,904.5 L352.9,905 L354,905.5 L355,906 L356.1,906.4 L357.2,906.9 L358.2,907.4 L359.3,907.9 L360.4,908.4 L361.4,908.8 L362.5,909.3 L363.6,909.8 L364.6,910.2 L365.7,910.7 L366.8,911.2 L367.8,911.6 L368.9,912.1 L370,912.5 L371,913 L372.1,913.4 L373.2,913.9 L374.2,914.4 L375.3,914.8 L376.4,915.3 L377.4,915.7 L378.5,916.2 L379.6,916.6 L380.6,917.1 L381.7,917.5 L382.8,918 L383.9,918.5 L384.9,918.9 L386,919.4 L387.1,919.8 L388.1,920.3 L389.2,920.8 L390.3,921.2 L391.3,921.7 L392.4,922.2 L393.5,922.6 L394.6,923.1 L395.6,923.6 L396.7,924.1 L397.8,924.6 L398.8,925 L399.9,925.5 L401,926 L402.1,926.5 L403.1,927 L404.2,927.5 L405.3,928 L406.3,928.5 L407.4,929 L408.5,929.5 L409.6,930 L410.6,930.5 L411.7,931 L412.8,931.6 L413.9,932.1 L414.9,932.6 L416,933.1 L417.1,933.6 L418.2,934.2 L419.2,934.7 L420.3,935.2 L421.4,935.7 L422.5,936.3 L423.6,936.8 L424.6,937.3 L425.7,937.9 L426.8,938.4 L427.9,938.9 L428.9,939.5 L430,940 L431.1,940.6 L432.2,941.1 L433.3,941.6 L434.3,942.2 L435.4,942.7 L436.5,943.3 L437.6,943.8 L438.7,944.4 L439.7,944.9 L440.8,945.5 L441.9,946 L443,946.6 L444.1,947.1 L445.1,947.7 L446.2,948.2 L447.3,948.8 L448.4,949.4 L449.5,949.9 L450.5,950.5 L451.6,951 L452.7,951.6 L453.8,952.1 L454.9,952.7 L456,953.3 L457,953.8 L458.1,954.4 L459.2,954.9 L460.3,955.5 L461.4,956.1 L462.5,956.6 L463.5,957.2 L464.6,957.7 L465.7,958.3 L466.8,958.9 L467.9,959.4 L469,960 L470,960.5 L471.1,961.1 L472.2,961.7 L473.3,962.2 L474.4,962.8 L475.5,963.3 L476.6,963.9 L477.6,964.4 L478.7,965 L479.8,965.6 L480.9,966.1 L482,966.7 L483.1,967.2 L484.2,967.8 L485.2,968.3 L486.3,968.9 L487.4,969.4 L488.5,970 L489.6,970.5 L490.7,971.1 L491.8,971.6 L492.8,972.2 L493.9,972.7 L495,973.3 L496.1,973.8 L497.2,974.3 L498.3,974.9 L499.4,975.4 L500.5,976 L501.5,976.5 L502.6,977 L503.7,977.6 L504.8,978.1 L505.9,978.6 L507,979.2 L508.1,979.7 L509.2,980.2 L510.2,980.7 L511.3,981.3 L512.4,981.8 L513.5,982.3 L514.6,982.8 L515.7,983.3 L516.8,983.9 L517.9,984.4 L519,984.9 L520,985.4 L521.1,985.9 L522.2,986.4 L523.3,986.9 L524.4,987.4 L525.5,987.9 L526.6,988.4 L527.7,988.9 L528.8,989.4 L529.9,989.9 L530.9,990.4 L532,990.9 L533.1,991.4 L534.2,991.9 L535.3,992.4 L536.4,992.9 L537.5,993.4 L538.6,993.9 L539.7,994.4 L540.8,994.9 L541.9,995.4 L543,995.9 L544,996.3 L545.1,996.8 L546.2,997.3 L547.3,997.8 L548.4,998.3 L549.5,998.8 L550.6,999.2 L551.7,999.7 L552.8,1000.2 L553.9,1000.7 L555,1001.1 L556.1,1001.6 L557.2,1002.1 L558.3,1002.6 L559.4,1003 L560.5,1003.5 L561.6,1004 L562.7,1004.4 L563.7,1004.9 L564.8,1005.4 L565.9,1005.8 L567,1006.3 L568.1,1006.8 L569.2,1007.2 L570.3,1007.7 L571.4,1008.2 L572.5,1008.6 L573.6,1009.1 L574.7,1009.5 L575.8,1010 L576.9,1010.5 L578,1010.9 L579.1,1011.4 L580.2,1011.8 L581.3,1012.3 L582.4,1012.7 L583.5,1013.2 L584.6,1013.7 L585.7,1014.1 L586.8,1014.6 L587.9,1015 L589,1015.5 L590.1,1015.9 L591.2,1016.4 L592.4,1016.8 L593.5,1017.3 L594.6,1017.7 L595.7,1018.2 L596.8,1018.6 L597.9,1019.1 L599,1019.5 L600.1,1019.9 L601.2,1020.4 L602.3,1020.8 L603.4,1021.3 L604.5,1021.7 L605.6,1022.2 L606.7,1022.6 L607.8,1023.1 L609,1023.5 L610.1,1023.9 L611.2,1024.4 L612.3,1024.8 L613.4,1025.3 L614.5,1025.7 L615.6,1026.2 L616.7,1026.6 L617.8,1027 L619,1027.5 L620.1,1027.9 L621.2,1028.4 L622.3,1028.8 L623.4,1029.2 L624.5,1029.7 L625.6,1030.1 L626.8,1030.6 L627.9,1031 L629,1031.4 L630.1,1031.9 L631.2,1032.3 L632.3,1032.7 L633.5,1033.2 L634.6,1033.6 L635.7,1034.1 L636.8,1034.5 L637.9,1034.9 L639.1,1035.4 L640.2,1035.8 L641.3,1036.3 L642.4,1036.7 L643.5,1037.1 L644.7,1037.6 L645.8,1038 L646.9,1038.5 L648,1038.9 L649.1,1039.4 L650.2,1039.8 L651.4,1040.3 L652.5,1040.7 L653.6,1041.2 L654.7,1041.7 L655.8,1042.1 L656.9,1042.6 L658.1,1043 L659.2,1043.5 L660.3,1044 L661.4,1044.4 L662.5,1044.9 L663.6,1045.4 L664.7,1045.9 L665.8,1046.3 L666.9,1046.8 L668.1,1047.3 L669.2,1047.8 L670.3,1048.3 L671.4,1048.8 L672.5,1049.3 L673.6,1049.8 L674.7,1050.3 L675.8,1050.8 L676.9,1051.3 L678,1051.8 L679,1052.3 L680.1,1052.9 L681.2,1053.4 L682.3,1053.9 L683.4,1054.5 L684.5,1055 L685.6,1055.5 L686.7,1056.1 L687.7,1056.6 L688.8,1057.2 L689.9,1057.8 L691,1058.3 L692,1058.9 L693.1,1059.5 L694.2,1060.1 L695.2,1060.7 L696.3,1061.2 L697.4,1061.8 L698.4,1062.4 L699.5,1063.1 L700.5,1063.7 L701.6,1064.3 L702.6,1064.9 L703.6,1065.5 L704.7,1066.2 L705.7,1066.8 L706.7,1067.5 L707.7,1068.1 L708.8,1068.8 L709.8,1069.5 L710.8,1070.1 L711.8,1070.8 L712.8,1071.5 L713.7,1072.2 L714.7,1072.9 L715.7,1073.6 L716.7,1074.3 L717.6,1075.1 L718.6,1075.8 L719.5,1076.5 L720.5,1077.3 L721.4,1078 L722.3,1078.8 L723.2,1079.6 L724.1,1080.3 L725,1081.1 L725.9,1081.9 L726.8,1082.7 L727.7,1083.5 L728.5,1084.3 L729.4,1085.2 L730.2,1086 L731,1086.8 L731.9,1087.7 L732.7,1088.6 L733.5,1089.4 L734.3,1090.3 L735,1091.2 L735.8,1092.1 L736.6,1093 L737.3,1093.9 L738.1,1094.8 L738.8,1095.7 L739.6,1096.6 L740.3,1097.6 L741,1098.5 L741.7,1099.4 L742.4,1100.4 L743.1,1101.4 L743.8,1102.3 L744.5,1103.3 L745.2,1104.3 L745.8,1105.3 L746.5,1106.2 L747.1,1107.2 L747.8,1108.2 L748.4,1109.2 L749.1,1110.2 L749.7,1111.2 L750.3,1112.3 L751,1113.3 L751.6,1114.3 L752.2,1115.3 L752.8,1116.4 L753.4,1117.4 L754,1118.4 L754.6,1119.5 L755.2,1120.5 L755.8,1121.6 L756.4,1122.6 L757,1123.7 L757.6,1124.7 L758.2,1125.8 L758.7,1126.8 L759.3,1127.9 L759.9,1128.9 L760.5,1130 L761,1131.1 L761.6,1132.1 L762.2,1133.2 L762.7,1134.3 L763.3,1135.3 L763.9,1136.4 L764.4,1137.5 L765,1138.6 L765.5,1139.6 L766.1,1140.7 L766.7,1141.8 L767.2,1142.8 L767.8,1143.9 L768.4,1145 L768.9,1146 L769.5,1147.1 L770.1,1148.2 L770.6,1149.2 L771.2,1150.3 L771.8,1151.4 L772.4,1152.4 L772.9,1153.5 L773.5,1154.6 L774.1,1155.6 L774.6,1156.7 L775.2,1157.7 L775.8,1158.8 L776.3,1159.9 L776.9,1160.9 L777.5,1162 L778,1163 L778.6,1164.1 L779.2,1165.2 L779.7,1166.2 L780.3,1167.3 L780.8,1168.4 L781.4,1169.4 L781.9,1170.5 L782.4,1171.6 L783,1172.6 L783.5,1173.7 L784,1174.8 L784.5,1175.9 L785,1176.9 L785.6,1178 L786,1179.1 L786.5,1180.2 L787,1181.3 L787.5,1182.4 L788,1183.5 L788.4,1184.6 L788.9,1185.7 L789.4,1186.8 L789.8,1187.9 L790.2,1189 L790.7,1190.1 L791.1,1191.2 L791.5,1192.4 L791.9,1193.5 L792.3,1194.6 L792.8,1195.7 L793.2,1196.9 L793.5,1198 L793.9,1199.1 L794.3,1200.3 L794.7,1201.4 L795.1,1202.5 L795.4,1203.7 L795.8,1204.8 L796.2,1206 L796.5,1207.1 L796.9,1208.3 L797.2,1209.4 L797.6,1210.6 L797.9,1211.7 L798.2,1212.9 L798.6,1214 L798.9,1215.2 L799.2,1216.4 L799.5,1217.5 L799.8,1218.7 L800.1,1219.8 L800.5,1221 L800.8,1222.2 L801.1,1223.3 L801.4,1224.5 L801.6,1225.7 L801.9,1226.9 L802.2,1228 L802.5,1229.2 L802.8,1230.4 L803.1,1231.5 L803.4,1232.7 L803.6,1233.9 L803.9,1235.1 L804.2,1236.2 L804.4,1237.4 L804.7,1238.6 L805,1239.8 L805.2,1241 L805.5,1242.1 L805.8,1243.3 L806,1244.5 L806.3,1245.7 L806.5,1246.9 L806.8,1248 L807,1249.2 L807.3,1250.4 L807.6,1251.6 L807.8,1252.8 L808.1,1253.9 L808.3,1255.1 L808.5,1256.3 L808.8,1257.5 L809,1258.7 L809.3,1259.8 L809.5,1261 L809.8,1262.2 L810,1263.4 L810.3,1264.6 L810.5,1265.7 L810.7,1266.9 L811,1268.1 L811.2,1269.3 L811.4,1270.5 L811.7,1271.6 L811.9,1272.8 L812.1,1274 L812.4,1275.2 L812.6,1276.4 L812.8,1277.5 L813,1278.7 L813.3,1279.9 L813.5,1281.1 L813.7,1282.3 L813.9,1283.4 L814.1,1284.6 L814.3,1285.8 L814.6,1287 L814.8,1288.2 L815,1289.4 L815.2,1290.5 L815.4,1291.7 L815.6,1292.9 L815.8,1294.1 L816,1295.3 L816.2,1296.5 L816.4,1297.6 L816.6,1298.8 L816.8,1300 L817,1301.2 L817.2,1302.4 L817.4,1303.6 L817.6,1304.7 L817.8,1305.9 L817.9,1307.1 L818.1,1308.3 L818.3,1309.5 L818.5,1310.7 L818.7,1311.8 L818.8,1313 L819,1314.2 L819.2,1315.4 L819.4,1316.6 L819.5,1317.8 L819.7,1319 L819.8,1320.1 L820,1321.3 L820.2,1322.5 L820.3,1323.7 L820.5,1324.9 L820.6,1326.1 L820.8,1327.3 L820.9,1328.5 L821.1,1329.6 L821.2,1330.8 L821.4,1332 L821.5,1333.2 L821.6,1334.4 L821.8,1335.6 L821.9,1336.8 L822,1338 L822.2,1339.2 L822.3,1340.4 L822.4,1341.6 L822.5,1342.7 L822.6,1343.9 L822.8,1345.1 L822.9,1346.3 L823,1347.5 L823.1,1348.7 L823.2,1349.9 L823.3,1351.1 L823.4,1352.3 L823.5,1353.5 L823.6,1354.7 L823.7,1355.9 L823.8,1357.1 L823.8,1358.3 L823.9,1359.5 L824,1360.7 L824.1,1361.9 L824.2,1363.1 L824.2,1364.3 L824.3,1365.5 L824.4,1366.7 L824.4,1367.9 L824.5,1369.1 L824.6,1370.3 L824.6,1371.5 L824.7,1372.7 L824.7,1373.9 L824.8,1375.1 L824.8,1376.3 L824.8,1377.5 L824.9,1378.7 L824.9,1379.9 L824.9,1381.1 L825,1382.3 L825,1383.5 L825,1384.7 L825,1385.9 L825,1387.1 L825.1,1388.3 L825.1,1389.6 L825.1,1390.8 L825.1,1392 L825.1,1393.2 L825.1,1394.4 L825.1,1395.6 L825.1,1396.8 L825,1398" stroke="#1F3FFF" stroke-dasharray="6.5 10.5" stroke-linecap="round"/>
<path d="M164.1,790.7 L163.9,792.2 L163.8,793.5 L163.8,794.9 L163.8,796.2 L163.9,797.5 L164,798.7 L164.2,800 L164.5,801.1 L164.8,802.3 L165.2,803.4 L165.6,804.5 L166.1,805.5 L166.6,806.5 L167.2,807.5 L167.8,808.5 L168.5,809.4 L169.2,810.3 L169.9,811.2 L170.7,812 L171.5,812.8 L172.4,813.6 L173.2,814.4 L174.2,815.1 L175.1,815.9 L176.1,816.5 L177,817.2 L178.1,817.9 L179.1,818.5 L180.1,819.1 L181.2,819.7 L182.3,820.3 L183.4,820.8 L184.5,821.3 L185.6,821.8 L186.7,822.3 L187.8,822.8 L189,823.3 L190.1,823.7 L191.2,824.1 L192.4,824.5 L193.5,824.9 L194.7,825.3 L195.8,825.7 L197,826 L198.1,826.4 L199.3,826.7 L200.4,827.1 L201.6,827.4 L202.7,827.7 L203.9,828 L205.1,828.3 L206.2,828.6 L207.4,828.8 L208.6,829.1 L209.7,829.4 L210.9,829.6 L212.1,829.9 L213.2,830.1 L214.4,830.4 L215.6,830.6 L216.8,830.9 L217.9,831.1 L219.1,831.3 L220.3,831.6 L221.4,831.8 L222.6,832.1 L223.8,832.3 L224.9,832.6 L226.1,832.8 L227.3,833.1 L228.4,833.3 L229.6,833.6 L230.8,833.8 L231.9,834.1 L233.1,834.4 L234.3,834.7 L235.4,835 L236.6,835.3 L237.7,835.6 L238.9,835.9 L240,836.2 L241.2,836.5 L242.3,836.9 L243.4,837.2 L244.6,837.6 L245.7,838 L246.8,838.4 L248,838.7 L249.1,839.1 L250.2,839.5 L251.4,839.9 L252.5,840.4 L253.6,840.8 L254.7,841.2 L255.8,841.7 L257,842.1 L258.1,842.6 L259.2,843 L260.3,843.5 L261.4,843.9 L262.5,844.4 L263.6,844.9 L264.7,845.4 L265.8,845.9 L266.9,846.4 L268,846.9 L269.1,847.4 L270.2,847.9 L271.3,848.4 L272.4,849 L273.5,849.5 L274.6,850 L275.7,850.5 L276.8,851.1 L277.9,851.6 L278.9,852.2 L280,852.7 L281.1,853.3 L282.2,853.8 L283.3,854.4 L284.4,854.9 L285.4,855.5 L286.5,856.1 L287.6,856.6 L288.7,857.2 L289.8,857.8 L290.8,858.3 L291.9,858.9 L293,859.5 L294,860 L295.1,860.6 L296.2,861.2 L297.3,861.8 L298.3,862.3 L299.4,862.9 L300.5,863.5 L301.5,864.1 L302.6,864.6 L303.7,865.2 L304.7,865.8 L305.8,866.4 L306.9,866.9 L307.9,867.5 L309,868.1 L310.1,868.6 L311.1,869.2 L312.2,869.8 L313.3,870.3 L314.3,870.9 L315.4,871.5 L316.5,872 L317.5,872.6 L318.6,873.1 L319.7,873.7 L320.7,874.2 L321.8,874.7 L322.9,875.3 L323.9,875.8 L325,876.4 L326,876.9 L327.1,877.4 L328.2,877.9 L329.2,878.5 L330.3,879 L331.4,879.5 L332.4,880 L333.5,880.5 L334.6,881 L335.7,881.6 L336.7,882.1 L337.8,882.6 L338.9,883.1 L339.9,883.6 L341,884.1 L342.1,884.6 L343.2,885.1 L344.2,885.6 L345.3,886.1 L346.4,886.6 L347.5,887.1 L348.5,887.5 L349.6,888 L350.7,888.5 L351.8,889 L352.8,889.5 L353.9,890 L355,890.4 L356.1,890.9 L357.2,891.4 L358.3,891.9 L359.4,892.3 L360.4,892.8 L361.5,893.3 L362.6,893.8 L363.7,894.2 L364.8,894.7 L365.9,895.2 L367,895.6 L368.1,896.1 L369.2,896.6 L370.3,897 L371.4,897.5 L372.5,898 L373.6,898.4 L374.7,898.9 L375.8,899.3 L376.9,899.8 L378.1,900.3 L379.2,900.7 L380.3,901.2 L381.4,901.7 L382.5,902.1 L383.6,902.6 L384.7,903 L385.8,903.5 L386.9,904 L388,904.5 L389.2,904.9 L390.3,905.4 L391.4,905.9 L392.5,906.3 L393.6,906.8 L394.7,907.3 L395.8,907.8 L396.9,908.3 L398,908.8 L399.1,909.3 L400.2,909.7 L401.3,910.2 L402.4,910.7 L403.5,911.2 L404.6,911.7 L405.7,912.3 L406.8,912.8 L407.9,913.3 L409,913.8 L410.1,914.3 L411.2,914.9 L412.3,915.4 L413.4,915.9 L414.4,916.5 L415.5,917 L416.6,917.6 L417.7,918.1 L418.7,918.7 L419.8,919.2 L420.9,919.8 L421.9,920.4 L423,921 L424,921.5 L425.1,922.1 L426.2,922.7 L427.2,923.3 L428.3,923.9 L429.3,924.5 L430.3,925.1 L431.4,925.7 L432.4,926.4 L433.5,927 L434.5,927.6 L435.5,928.2 L436.6,928.9 L437.6,929.5 L438.6,930.1 L439.7,930.8 L440.7,931.4 L441.7,932 L442.7,932.7 L443.8,933.3 L444.8,934 L445.8,934.6 L446.8,935.2 L447.8,935.9 L448.9,936.5 L449.9,937.2 L450.9,937.8 L451.9,938.5 L452.9,939.1 L454,939.8 L455,940.4 L456,941.1 L457,941.7 L458,942.4 L459,943 L460.1,943.7 L461.1,944.3 L462.1,944.9 L463.1,945.6 L464.1,946.2 L465.2,946.9 L466.2,947.5 L467.2,948.1 L468.2,948.8 L469.2,949.4 L470.3,950 L471.3,950.6 L472.3,951.2 L473.3,951.9 L474.4,952.5 L475.4,953.1 L476.4,953.7 L477.5,954.3 L478.5,954.9 L479.5,955.5 L480.6,956.1 L481.6,956.7 L482.7,957.2 L483.7,957.8 L484.8,958.4 L485.8,959 L486.9,959.5 L487.9,960.1 L489,960.7 L490,961.2 L491.1,961.8 L492.1,962.3 L493.2,962.9 L494.2,963.4 L495.3,963.9 L496.4,964.5 L497.4,965 L498.5,965.5 L499.6,966.1 L500.6,966.6 L501.7,967.1 L502.8,967.6 L503.8,968.1 L504.9,968.6 L506,969.2 L507.1,969.7 L508.1,970.2 L509.2,970.7 L510.3,971.2 L511.4,971.7 L512.5,972.2 L513.5,972.6 L514.6,973.1 L515.7,973.6 L516.8,974.1 L517.9,974.6 L519,975.1 L520.1,975.6 L521.2,976 L522.3,976.5 L523.3,977 L524.4,977.5 L525.5,977.9 L526.6,978.4 L527.7,978.9 L528.8,979.3 L529.9,979.8 L531,980.3 L532.1,980.7 L533.2,981.2 L534.3,981.6 L535.4,982.1 L536.5,982.6 L537.6,983 L538.7,983.5 L539.8,983.9 L540.9,984.4 L542.1,984.8 L543.2,985.3 L544.3,985.7 L545.4,986.2 L546.5,986.6 L547.6,987.1 L548.7,987.5 L549.8,988 L550.9,988.4 L552,988.9 L553.1,989.3 L554.3,989.8 L555.4,990.2 L556.5,990.7 L557.6,991.1 L558.7,991.6 L559.8,992 L560.9,992.5 L562.1,992.9 L563.2,993.4 L564.3,993.9 L565.4,994.3 L566.5,994.8 L567.6,995.2 L568.8,995.7 L569.9,996.1 L571,996.6 L572.1,997 L573.2,997.5 L574.3,998 L575.5,998.4 L576.6,998.9 L577.7,999.3 L578.8,999.8 L579.9,1000.3 L581,1000.7 L582.2,1001.2 L583.3,1001.7 L584.4,1002.1 L585.5,1002.6 L586.6,1003.1 L587.7,1003.6 L588.9,1004 L590,1004.5 L591.1,1005 L592.2,1005.5 L593.3,1006 L594.4,1006.5 L595.6,1006.9 L596.7,1007.4 L597.8,1007.9 L598.9,1008.4 L600,1008.9 L601.1,1009.4 L602.2,1009.9 L603.4,1010.4 L604.5,1011 L605.6,1011.5 L606.7,1012 L607.8,1012.5 L608.9,1013 L610,1013.5 L611.1,1014 L612.2,1014.6 L613.3,1015.1 L614.5,1015.6 L615.6,1016.1 L616.7,1016.7 L617.8,1017.2 L618.9,1017.7 L620,1018.2 L621.1,1018.8 L622.2,1019.3 L623.3,1019.8 L624.4,1020.4 L625.5,1020.9 L626.6,1021.4 L627.7,1021.9 L628.8,1022.5 L629.9,1023 L631,1023.5 L632.1,1024.1 L633.2,1024.6 L634.3,1025.1 L635.4,1025.7 L636.5,1026.2 L637.6,1026.7 L638.7,1027.2 L639.8,1027.8 L640.9,1028.3 L642,1028.8 L643,1029.3 L644.1,1029.9 L645.2,1030.4 L646.3,1030.9 L647.4,1031.4 L648.5,1031.9 L649.6,1032.4 L650.7,1032.9 L651.7,1033.5 L652.8,1034 L653.9,1034.5 L655,1035 L656.1,1035.5 L657.1,1036 L658.2,1036.5 L659.3,1037 L660.4,1037.4 L661.4,1037.9 L662.5,1038.4 L663.6,1038.9 L664.7,1039.4 L665.7,1039.9 L666.8,1040.3 L667.9,1040.8 L668.9,1041.3 L670,1041.8 L671.1,1042.2 L672.1,1042.7 L673.2,1043.2 L674.2,1043.6 L675.3,1044.1 L676.4,1044.6 L677.4,1045.1 L678.5,1045.6 L679.5,1046 L680.6,1046.5 L681.6,1047 L682.7,1047.5 L683.7,1048 L684.8,1048.5 L685.8,1049 L686.9,1049.5 L687.9,1050 L688.9,1050.5 L690,1051 L691,1051.6 L692.1,1052.1 L693.1,1052.6 L694.1,1053.2 L695.2,1053.7 L696.2,1054.3 L697.2,1054.8 L698.3,1055.4 L699.3,1056 L700.3,1056.6 L701.3,1057.2 L702.3,1057.8 L703.4,1058.4 L704.4,1059 L705.4,1059.6 L706.4,1060.3 L707.4,1060.9 L708.4,1061.6 L709.5,1062.2 L710.5,1062.9 L711.5,1063.6 L712.5,1064.3 L713.5,1065 L714.5,1065.7 L715.5,1066.5 L716.5,1067.2 L717.4,1068 L718.4,1068.7 L719.4,1069.5 L720.4,1070.3 L721.3,1071.1 L722.3,1071.9 L723.3,1072.7 L724.2,1073.5 L725.1,1074.4 L726.1,1075.2 L727,1076 L727.9,1076.9 L728.8,1077.8 L729.7,1078.6 L730.6,1079.5 L731.5,1080.4 L732.3,1081.3 L733.2,1082.2 L734,1083.1 L734.9,1084 L735.7,1085 L736.5,1085.9 L737.3,1086.8 L738,1087.8 L738.8,1088.7 L739.6,1089.7 L740.3,1090.7 L741,1091.6 L741.7,1092.6 L742.4,1093.6 L743.1,1094.6 L743.8,1095.6 L744.4,1096.6 L745,1097.6 L745.6,1098.6 L746.2,1099.7 L746.8,1100.7 L747.4,1101.7 L747.9,1102.7 L748.4,1103.8 L748.9,1104.8 L749.4,1105.9 L749.9,1106.9 L750.4,1108 L750.8,1109.1 L751.3,1110.1 L751.7,1111.2 L752.1,1112.3 L752.6,1113.4 L753,1114.5 L753.4,1115.5 L753.8,1116.6 L754.1,1117.7 L754.5,1118.8 L754.9,1119.9 L755.3,1121 L755.7,1122.1 L756,1123.2 L756.4,1124.4 L756.8,1125.5 L757.1,1126.6 L757.5,1127.7 L757.9,1128.8 L758.2,1129.9 L758.6,1131.1 L759,1132.2 L759.4,1133.3 L759.8,1134.4 L760.1,1135.6 L760.5,1136.7 L760.9,1137.8 L761.4,1139 L761.8,1140.1 L762.2,1141.2 L762.6,1142.4 L763,1143.5 L763.4,1144.6 L763.9,1145.8 L764.3,1146.9 L764.7,1148.1 L765.1,1149.2 L765.6,1150.3 L766,1151.5 L766.4,1152.6 L766.9,1153.8 L767.3,1154.9 L767.7,1156.1 L768.1,1157.2 L768.6,1158.4 L769,1159.5 L769.4,1160.7 L769.8,1161.8 L770.2,1163 L770.6,1164.1 L771,1165.3 L771.4,1166.4 L771.8,1167.6 L772.2,1168.7 L772.6,1169.9 L773,1171.1 L773.4,1172.2 L773.7,1173.4 L774.1,1174.5 L774.5,1175.7 L774.8,1176.9 L775.2,1178 L775.5,1179.2 L775.9,1180.4 L776.2,1181.5 L776.5,1182.7 L776.8,1183.9 L777.2,1185 L777.5,1186.2 L777.8,1187.4 L778.1,1188.5 L778.4,1189.7 L778.7,1190.9 L779,1192 L779.3,1193.2 L779.6,1194.4 L779.9,1195.5 L780.1,1196.7 L780.4,1197.9 L780.7,1199.1 L781,1200.2 L781.2,1201.4 L781.5,1202.6 L781.8,1203.7 L782,1204.9 L782.3,1206.1 L782.6,1207.3 L782.8,1208.4 L783.1,1209.6 L783.3,1210.8 L783.6,1212 L783.8,1213.2 L784,1214.3 L784.3,1215.5 L784.5,1216.7 L784.8,1217.9 L785,1219 L785.2,1220.2 L785.5,1221.4 L785.7,1222.6 L785.9,1223.7 L786.2,1224.9 L786.4,1226.1 L786.6,1227.3 L786.9,1228.5 L787.1,1229.6 L787.3,1230.8 L787.5,1232 L787.7,1233.2 L788,1234.4 L788.2,1235.5 L788.4,1236.7 L788.6,1237.9 L788.8,1239.1 L789,1240.3 L789.3,1241.4 L789.5,1242.6 L789.7,1243.8 L789.9,1245 L790.1,1246.2 L790.3,1247.3 L790.5,1248.5 L790.7,1249.7 L790.9,1250.9 L791.1,1252.1 L791.3,1253.2 L791.5,1254.4 L791.7,1255.6 L791.9,1256.8 L792,1258 L792.2,1259.2 L792.4,1260.3 L792.6,1261.5 L792.8,1262.7 L793,1263.9 L793.1,1265.1 L793.3,1266.3 L793.5,1267.4 L793.7,1268.6 L793.9,1269.8 L794,1271 L794.2,1272.2 L794.4,1273.4 L794.5,1274.6 L794.7,1275.7 L794.9,1276.9 L795,1278.1 L795.2,1279.3 L795.3,1280.5 L795.5,1281.7 L795.6,1282.9 L795.8,1284.1 L795.9,1285.2 L796.1,1286.4 L796.2,1287.6 L796.4,1288.8 L796.5,1290 L796.7,1291.2 L796.8,1292.4 L796.9,1293.6 L797.1,1294.7 L797.2,1295.9 L797.3,1297.1 L797.5,1298.3 L797.6,1299.5 L797.7,1300.7 L797.8,1301.9 L798,1303.1 L798.1,1304.3 L798.2,1305.5 L798.3,1306.7 L798.4,1307.8 L798.5,1309 L798.6,1310.2 L798.7,1311.4 L798.8,1312.6 L798.9,1313.8 L799,1315 L799.1,1316.2 L799.2,1317.4 L799.3,1318.6 L799.4,1319.8 L799.5,1321 L799.6,1322.2 L799.7,1323.4 L799.8,1324.6 L799.9,1325.8 L799.9,1327 L800,1328.2 L800.1,1329.3 L800.2,1330.5 L800.2,1331.7 L800.3,1332.9 L800.4,1334.1 L800.4,1335.3 L800.5,1336.5 L800.5,1337.7 L800.6,1338.9 L800.7,1340.1 L800.7,1341.3 L800.8,1342.5 L800.8,1343.7 L800.8,1344.9 L800.9,1346.1 L800.9,1347.3 L801,1348.5 L801,1349.7 L801,1350.9 L801.1,1352.1 L801.1,1353.3 L801.1,1354.5 L801.1,1355.7 L801.2,1357 L801.2,1358.2 L801.2,1359.4 L801.2,1360.6 L801.2,1361.8 L801.2,1363 L801.2,1364.2 L801.2,1365.4 L801.2,1366.6 L801.2,1367.8 L801.2,1369 L801.2,1370.2 L801.2,1371.4 L801.2,1372.6 L801.2,1373.8 L801.2,1375 L801.1,1376.2 L801.1,1377.5 L801.1,1378.7 L801.1,1379.9 L801,1381.1 L801,1382.3 L801,1383.5 L800.9,1384.7 L800.9,1385.9 L800.8,1387.1 L800.8,1388.3 L800.7,1389.6 L800.7,1390.8 L800.6,1392 L800.6,1393.2 L800.5,1394.4 L800.5,1395.6 L800.4,1396.8 L800.3,1398" stroke="#FFC000" stroke-dasharray="6.5 10.5" stroke-linecap="round"/>
<path d="M163.1,789.4 L163.4,790.5 L163.7,791.6 L164.1,792.6 L164.5,793.7 L165,794.7 L165.4,795.7 L166,796.7 L166.5,797.7 L167.1,798.7 L167.7,799.6 L168.3,800.6 L169,801.5 L169.7,802.4 L170.5,803.3 L171.2,804.2 L172,805 L172.8,805.9 L173.7,806.7 L174.5,807.5 L175.4,808.3 L176.3,809.1 L177.3,809.9 L178.2,810.6 L179.2,811.4 L180.2,812.1 L181.2,812.8 L182.2,813.4 L183.2,814.1 L184.2,814.7 L185.3,815.3 L186.3,815.9 L187.4,816.5 L188.5,817 L189.6,817.6 L190.7,818.1 L191.8,818.5 L192.9,819 L194,819.5 L195.1,819.9 L196.3,820.3 L197.4,820.7 L198.5,821.1 L199.7,821.4 L200.8,821.8 L202,822.1 L203.1,822.4 L204.3,822.7 L205.5,823 L206.6,823.3 L207.8,823.6 L209,823.8 L210.2,824.1 L211.3,824.3 L212.5,824.5 L213.7,824.8 L214.9,825 L216.1,825.2 L217.3,825.4 L218.5,825.6 L219.7,825.8 L220.9,826 L222.1,826.2 L223.2,826.4 L224.4,826.6 L225.6,826.8 L226.8,827 L228,827.2 L229.2,827.4 L230.4,827.6 L231.6,827.9 L232.8,828.1 L234,828.3 L235.1,828.5 L236.3,828.8 L237.5,829 L238.7,829.3 L239.9,829.5 L241,829.8 L242.2,830.1 L243.4,830.4 L244.5,830.7 L245.7,831 L246.8,831.3 L248,831.6 L249.1,831.9 L250.3,832.3 L251.4,832.6 L252.6,833 L253.7,833.3 L254.8,833.7 L256,834.1 L257.1,834.5 L258.2,834.8 L259.4,835.2 L260.5,835.6 L261.6,836.1 L262.7,836.5 L263.9,836.9 L265,837.3 L266.1,837.8 L267.2,838.2 L268.3,838.7 L269.4,839.1 L270.5,839.6 L271.6,840.1 L272.7,840.5 L273.8,841 L274.9,841.5 L276,842 L277.1,842.5 L278.2,843 L279.3,843.5 L280.4,844 L281.5,844.5 L282.6,845 L283.7,845.5 L284.7,846.1 L285.8,846.6 L286.9,847.1 L288,847.7 L289.1,848.2 L290.1,848.8 L291.2,849.3 L292.3,849.9 L293.3,850.4 L294.4,851 L295.5,851.6 L296.6,852.1 L297.6,852.7 L298.7,853.3 L299.8,853.9 L300.8,854.4 L301.9,855 L302.9,855.6 L304,856.2 L305.1,856.8 L306.1,857.4 L307.2,858 L308.2,858.5 L309.3,859.1 L310.4,859.7 L311.4,860.3 L312.5,860.9 L313.5,861.5 L314.6,862.1 L315.6,862.7 L316.7,863.3 L317.7,863.9 L318.8,864.5 L319.8,865.1 L320.9,865.7 L321.9,866.3 L323,866.9 L324.1,867.5 L325.1,868.1 L326.2,868.6 L327.2,869.2 L328.3,869.8 L329.3,870.4 L330.4,871 L331.4,871.6 L332.5,872.2 L333.5,872.7 L334.6,873.3 L335.6,873.9 L336.7,874.4 L337.7,875 L338.8,875.6 L339.8,876.1 L340.9,876.7 L341.9,877.3 L343,877.8 L344,878.3 L345.1,878.9 L346.1,879.4 L347.2,880 L348.2,880.5 L349.3,881 L350.4,881.6 L351.4,882.1 L352.5,882.6 L353.5,883.1 L354.6,883.7 L355.6,884.2 L356.7,884.7 L357.8,885.2 L358.8,885.7 L359.9,886.2 L360.9,886.8 L362,887.3 L363.1,887.8 L364.1,888.3 L365.2,888.8 L366.2,889.3 L367.3,889.8 L368.4,890.3 L369.4,890.9 L370.5,891.4 L371.6,891.9 L372.6,892.4 L373.7,892.9 L374.8,893.5 L375.8,894 L376.9,894.5 L377.9,895 L379,895.6 L380.1,896.1 L381.1,896.6 L382.2,897.2 L383.3,897.7 L384.3,898.3 L385.4,898.8 L386.5,899.4 L387.5,899.9 L388.6,900.5 L389.7,901.1 L390.8,901.6 L391.8,902.2 L392.9,902.8 L394,903.4 L395,904 L396.1,904.6 L397.2,905.2 L398.2,905.8 L399.3,906.3 L400.4,906.9 L401.4,907.5 L402.5,908.1 L403.6,908.6 L404.7,909.2 L405.7,909.7 L406.8,910.3 L407.9,910.8 L409,911.3 L410,911.8 L411.1,912.4 L412.2,912.9 L413.2,913.4 L414.3,913.9 L415.4,914.4 L416.5,914.9 L417.5,915.4 L418.6,915.9 L419.7,916.4 L420.8,916.9 L421.8,917.4 L422.9,917.9 L424,918.4 L425.1,918.9 L426.1,919.4 L427.2,919.9 L428.3,920.4 L429.4,921 L430.4,921.5 L431.5,922 L432.6,922.5 L433.7,923.1 L434.7,923.6 L435.8,924.1 L436.9,924.7 L438,925.2 L439,925.7 L440.1,926.3 L441.2,926.8 L442.3,927.4 L443.3,927.9 L444.4,928.5 L445.5,929 L446.6,929.5 L447.6,930.1 L448.7,930.6 L449.8,931.2 L450.9,931.7 L451.9,932.3 L453,932.8 L454.1,933.4 L455.2,933.9 L456.2,934.5 L457.3,935 L458.4,935.6 L459.5,936.1 L460.5,936.6 L461.6,937.2 L462.7,937.7 L463.8,938.3 L464.9,938.8 L465.9,939.4 L467,939.9 L468.1,940.4 L469.2,941 L470.2,941.5 L471.3,942.1 L472.4,942.6 L473.5,943.1 L474.5,943.7 L475.6,944.2 L476.7,944.8 L477.8,945.3 L478.8,945.8 L479.9,946.4 L481,946.9 L482.1,947.4 L483.2,948 L484.2,948.5 L485.3,949.1 L486.4,949.6 L487.5,950.1 L488.5,950.7 L489.6,951.2 L490.7,951.7 L491.8,952.3 L492.9,952.8 L493.9,953.3 L495,953.8 L496.1,954.4 L497.2,954.9 L498.2,955.4 L499.3,956 L500.4,956.5 L501.5,957 L502.6,957.6 L503.6,958.1 L504.7,958.6 L505.8,959.1 L506.9,959.7 L508,960.2 L509,960.7 L510.1,961.3 L511.2,961.8 L512.3,962.3 L513.3,962.8 L514.4,963.4 L515.5,963.9 L516.6,964.4 L517.7,964.9 L518.7,965.4 L519.8,966 L520.9,966.5 L522,967 L523.1,967.5 L524.1,968.1 L525.2,968.6 L526.3,969.1 L527.4,969.6 L528.5,970.1 L529.6,970.7 L530.6,971.2 L531.7,971.7 L532.8,972.2 L533.9,972.7 L535,973.2 L536,973.8 L537.1,974.3 L538.2,974.8 L539.3,975.3 L540.4,975.8 L541.5,976.3 L542.5,976.9 L543.6,977.4 L544.7,977.9 L545.8,978.4 L546.9,978.9 L548,979.4 L549,979.9 L550.1,980.5 L551.2,981 L552.3,981.5 L553.4,982 L554.5,982.5 L555.5,983 L556.6,983.5 L557.7,984 L558.8,984.5 L559.9,985 L561,985.6 L562.1,986.1 L563.1,986.6 L564.2,987.1 L565.3,987.6 L566.4,988.1 L567.5,988.6 L568.6,989.1 L569.7,989.6 L570.8,990.1 L571.8,990.6 L572.9,991.1 L574,991.6 L575.1,992.1 L576.2,992.6 L577.3,993.1 L578.4,993.7 L579.5,994.2 L580.6,994.7 L581.6,995.2 L582.7,995.7 L583.8,996.2 L584.9,996.7 L586,997.2 L587.1,997.7 L588.2,998.2 L589.3,998.7 L590.4,999.2 L591.5,999.7 L592.5,1000.2 L593.6,1000.7 L594.7,1001.2 L595.8,1001.7 L596.9,1002.2 L598,1002.7 L599.1,1003.2 L600.2,1003.7 L601.3,1004.2 L602.3,1004.7 L603.4,1005.2 L604.5,1005.7 L605.6,1006.2 L606.7,1006.8 L607.8,1007.3 L608.9,1007.8 L610,1008.3 L611.1,1008.8 L612.1,1009.3 L613.2,1009.8 L614.3,1010.3 L615.4,1010.8 L616.5,1011.3 L617.6,1011.9 L618.7,1012.4 L619.8,1012.9 L620.9,1013.4 L621.9,1013.9 L623,1014.4 L624.1,1014.9 L625.2,1015.5 L626.3,1016 L627.4,1016.5 L628.5,1017 L629.5,1017.5 L630.6,1018 L631.7,1018.6 L632.8,1019.1 L633.9,1019.6 L635,1020.1 L636,1020.7 L637.1,1021.2 L638.2,1021.7 L639.3,1022.2 L640.4,1022.8 L641.5,1023.3 L642.5,1023.8 L643.6,1024.4 L644.7,1024.9 L645.8,1025.4 L646.9,1026 L647.9,1026.5 L649,1027.1 L650.1,1027.6 L651.2,1028.1 L652.2,1028.7 L653.3,1029.2 L654.4,1029.8 L655.5,1030.3 L656.6,1030.9 L657.6,1031.4 L658.7,1032 L659.8,1032.5 L660.9,1033.1 L661.9,1033.6 L663,1034.2 L664.1,1034.7 L665.1,1035.3 L666.2,1035.8 L667.3,1036.4 L668.4,1037 L669.4,1037.5 L670.5,1038.1 L671.6,1038.6 L672.7,1039.2 L673.8,1039.7 L674.8,1040.3 L675.9,1040.9 L677,1041.4 L678.1,1042 L679.2,1042.5 L680.3,1043.1 L681.3,1043.6 L682.4,1044.2 L683.5,1044.7 L684.6,1045.3 L685.7,1045.8 L686.8,1046.3 L687.9,1046.9 L689,1047.4 L690.1,1047.9 L691.2,1048.5 L692.3,1049 L693.4,1049.5 L694.5,1050.1 L695.6,1050.6 L696.8,1051.1 L697.9,1051.6 L699,1052.1 L700.1,1052.6 L701.2,1053.1 L702.3,1053.6 L703.4,1054.1 L704.5,1054.6 L705.6,1055.1 L706.6,1055.6 L707.7,1056.1 L708.8,1056.5 L709.9,1057 L710.9,1057.5 L712,1057.9 L713,1058.4 L714.1,1058.9 L715.1,1059.3 L716.2,1059.8 L717.2,1060.2 L718.2,1060.7 L719.2,1061.2 L720.2,1061.7 L721.2,1062.2 L722.2,1062.7 L723.2,1063.3 L724.2,1063.8 L725.1,1064.4 L726.1,1065 L727,1065.6 L728,1066.3 L728.9,1066.9 L729.8,1067.6 L730.7,1068.3 L731.6,1069.1 L732.5,1069.9 L733.4,1070.7 L734.3,1071.5 L735.1,1072.4 L736,1073.3 L736.8,1074.2 L737.6,1075.1 L738.5,1076.1 L739.3,1077 L740.1,1078 L740.8,1079 L741.6,1080 L742.4,1081 L743.1,1082 L743.8,1083 L744.6,1084.1 L745.3,1085.1 L746,1086.1 L746.6,1087.2 L747.3,1088.2 L748,1089.3 L748.6,1090.3 L749.3,1091.4 L749.9,1092.5 L750.5,1093.5 L751.1,1094.6 L751.7,1095.7 L752.3,1096.7 L752.9,1097.8 L753.4,1098.9 L754,1100 L754.5,1101 L755.1,1102.1 L755.6,1103.2 L756.2,1104.3 L756.7,1105.4 L757.2,1106.5 L757.7,1107.6 L758.2,1108.7 L758.7,1109.7 L759.2,1110.8 L759.7,1111.9 L760.2,1113 L760.7,1114.1 L761.2,1115.2 L761.7,1116.3 L762.2,1117.4 L762.7,1118.6 L763.1,1119.7 L763.6,1120.8 L764.1,1121.9 L764.5,1123 L765,1124.1 L765.5,1125.2 L765.9,1126.3 L766.4,1127.4 L766.8,1128.5 L767.3,1129.7 L767.7,1130.8 L768.2,1131.9 L768.6,1133 L769,1134.1 L769.5,1135.2 L769.9,1136.4 L770.3,1137.5 L770.7,1138.6 L771.2,1139.7 L771.6,1140.9 L772,1142 L772.4,1143.1 L772.8,1144.2 L773.2,1145.4 L773.6,1146.5 L774,1147.6 L774.4,1148.8 L774.8,1149.9 L775.2,1151 L775.6,1152.2 L776,1153.3 L776.3,1154.4 L776.7,1155.6 L777.1,1156.7 L777.5,1157.8 L777.8,1159 L778.2,1160.1 L778.6,1161.3 L778.9,1162.4 L779.3,1163.5 L779.6,1164.7 L780,1165.8 L780.3,1167 L780.7,1168.1 L781,1169.3 L781.4,1170.4 L781.7,1171.6 L782,1172.7 L782.3,1173.9 L782.7,1175 L783,1176.2 L783.3,1177.3 L783.6,1178.5 L783.9,1179.6 L784.3,1180.8 L784.6,1182 L784.9,1183.1 L785.2,1184.3 L785.5,1185.4 L785.8,1186.6 L786.1,1187.8 L786.3,1188.9 L786.6,1190.1 L786.9,1191.3 L787.2,1192.4 L787.5,1193.6 L787.8,1194.8 L788,1195.9 L788.3,1197.1 L788.6,1198.3 L788.8,1199.4 L789.1,1200.6 L789.4,1201.8 L789.6,1202.9 L789.9,1204.1 L790.1,1205.3 L790.4,1206.5 L790.6,1207.6 L790.9,1208.8 L791.1,1210 L791.3,1211.2 L791.6,1212.3 L791.8,1213.5 L792,1214.7 L792.3,1215.9 L792.5,1217 L792.7,1218.2 L792.9,1219.4 L793.2,1220.6 L793.4,1221.8 L793.6,1223 L793.8,1224.1 L794,1225.3 L794.2,1226.5 L794.4,1227.7 L794.6,1228.9 L794.8,1230.1 L795,1231.2 L795.2,1232.4 L795.4,1233.6 L795.6,1234.8 L795.8,1236 L796,1237.2 L796.2,1238.4 L796.4,1239.6 L796.5,1240.8 L796.7,1242 L796.9,1243.1 L797.1,1244.3 L797.2,1245.5 L797.4,1246.7 L797.6,1247.9 L797.7,1249.1 L797.9,1250.3 L798.1,1251.5 L798.2,1252.7 L798.4,1253.9 L798.5,1255.1 L798.7,1256.3 L798.8,1257.5 L799,1258.7 L799.1,1259.9 L799.3,1261.1 L799.4,1262.3 L799.5,1263.5 L799.7,1264.7 L799.8,1265.9 L800,1267.1 L800.1,1268.3 L800.2,1269.5 L800.4,1270.7 L800.5,1271.9 L800.6,1273.1 L800.7,1274.3 L800.9,1275.5 L801,1276.7 L801.1,1277.9 L801.2,1279.1 L801.3,1280.3 L801.4,1281.5 L801.6,1282.7 L801.7,1283.9 L801.8,1285.1 L801.9,1286.3 L802,1287.5 L802.1,1288.7 L802.2,1289.9 L802.3,1291.1 L802.4,1292.3 L802.5,1293.5 L802.6,1294.7 L802.7,1295.9 L802.8,1297.1 L802.9,1298.3 L803,1299.5 L803.1,1300.7 L803.2,1301.9 L803.2,1303.1 L803.3,1304.3 L803.4,1305.5 L803.5,1306.7 L803.6,1307.9 L803.7,1309.1 L803.7,1310.4 L803.8,1311.6 L803.9,1312.8 L804,1314 L804,1315.2 L804.1,1316.4 L804.2,1317.6 L804.3,1318.8 L804.3,1320 L804.4,1321.2 L804.5,1322.4 L804.5,1323.6 L804.6,1324.8 L804.6,1326 L804.7,1327.2 L804.8,1328.4 L804.8,1329.6 L804.9,1330.8 L805,1332 L805,1333.2 L805.1,1334.5 L805.1,1335.7 L805.2,1336.9 L805.2,1338.1 L805.3,1339.3 L805.3,1340.5 L805.4,1341.7 L805.4,1342.9 L805.5,1344.1 L805.5,1345.3 L805.6,1346.5 L805.6,1347.7 L805.7,1348.9 L805.7,1350.1 L805.8,1351.3 L805.8,1352.5 L805.8,1353.7 L805.9,1354.9 L805.9,1356.1 L806,1357.3 L806,1358.5 L806,1359.7 L806.1,1360.9 L806.1,1362.1 L806.2,1363.3 L806.2,1364.5 L806.2,1365.7 L806.3,1366.9 L806.3,1368.1 L806.3,1369.3 L806.4,1370.5 L806.4,1371.7 L806.4,1372.9 L806.5,1374.1 L806.5,1375.3 L806.5,1376.5 L806.6,1377.7 L806.6,1378.9 L806.6,1380.1 L806.6,1381.3 L806.7,1382.4 L806.7,1383.6 L806.7,1384.8 L806.8,1386 L806.8,1387.2 L806.8,1388.4 L806.8,1389.6 L806.9,1390.8 L806.9,1392 L806.9,1393.2 L806.9,1394.4 L807,1395.6 L807,1396.7 L807,1397.9" stroke="#FF0000" stroke-dasharray="6.5 10.5" stroke-linecap="round"/>
<path d="M163.3,799.4 L163.3,800.8 L163.4,802.2 L163.6,803.5 L163.8,804.8 L164.1,806 L164.4,807.3 L164.7,808.4 L165.1,809.6 L165.6,810.7 L166.1,811.8 L166.6,812.8 L167.2,813.8 L167.8,814.8 L168.5,815.8 L169.2,816.7 L169.9,817.6 L170.6,818.4 L171.4,819.2 L172.3,820 L173.1,820.8 L174,821.6 L174.9,822.3 L175.8,823 L176.8,823.6 L177.8,824.3 L178.8,824.9 L179.8,825.5 L180.8,826.1 L181.9,826.7 L183,827.2 L184,827.7 L185.1,828.2 L186.3,828.7 L187.4,829.2 L188.5,829.6 L189.6,830.1 L190.8,830.5 L191.9,830.9 L193.1,831.3 L194.2,831.7 L195.4,832.1 L196.5,832.4 L197.7,832.8 L198.8,833.1 L200,833.4 L201.1,833.8 L202.2,834.1 L203.4,834.4 L204.5,834.7 L205.7,835 L206.8,835.2 L208,835.5 L209.1,835.8 L210.3,836 L211.4,836.3 L212.5,836.6 L213.7,836.8 L214.8,837.1 L216,837.3 L217.1,837.6 L218.2,837.8 L219.4,838 L220.5,838.3 L221.7,838.5 L222.8,838.8 L223.9,839 L225.1,839.3 L226.2,839.5 L227.4,839.8 L228.5,840 L229.6,840.3 L230.8,840.6 L231.9,840.8 L233,841.1 L234.2,841.4 L235.3,841.7 L236.4,842 L237.6,842.3 L238.7,842.6 L239.8,842.9 L241,843.2 L242.1,843.5 L243.2,843.9 L244.4,844.2 L245.5,844.6 L246.6,844.9 L247.8,845.3 L248.9,845.7 L250,846 L251.1,846.4 L252.3,846.8 L253.4,847.2 L254.5,847.6 L255.6,848 L256.8,848.4 L257.9,848.9 L259,849.3 L260.2,849.7 L261.3,850.2 L262.4,850.6 L263.5,851 L264.6,851.5 L265.8,852 L266.9,852.4 L268,852.9 L269.1,853.3 L270.3,853.8 L271.4,854.3 L272.5,854.8 L273.6,855.3 L274.7,855.7 L275.9,856.2 L277,856.7 L278.1,857.2 L279.2,857.7 L280.3,858.2 L281.5,858.7 L282.6,859.2 L283.7,859.7 L284.8,860.2 L285.9,860.8 L287,861.3 L288.2,861.8 L289.3,862.3 L290.4,862.8 L291.5,863.3 L292.6,863.9 L293.7,864.4 L294.8,864.9 L295.9,865.4 L297.1,866 L298.2,866.5 L299.3,867 L300.4,867.5 L301.5,868.1 L302.6,868.6 L303.7,869.1 L304.8,869.7 L305.9,870.2 L307,870.7 L308.2,871.3 L309.3,871.8 L310.4,872.3 L311.5,872.9 L312.6,873.4 L313.7,873.9 L314.8,874.5 L315.9,875 L317,875.5 L318.1,876.1 L319.2,876.6 L320.3,877.1 L321.4,877.7 L322.5,878.2 L323.6,878.7 L324.7,879.3 L325.8,879.8 L326.9,880.3 L328,880.9 L329.1,881.4 L330.2,881.9 L331.3,882.5 L332.4,883 L333.5,883.5 L334.6,884.1 L335.7,884.6 L336.8,885.1 L337.9,885.6 L339,886.2 L340.1,886.7 L341.2,887.2 L342.3,887.7 L343.4,888.3 L344.5,888.8 L345.6,889.3 L346.7,889.8 L347.8,890.3 L348.9,890.8 L350,891.3 L351.1,891.9 L352.1,892.4 L353.2,892.9 L354.3,893.4 L355.4,893.9 L356.5,894.4 L357.6,894.9 L358.7,895.4 L359.8,895.9 L360.9,896.4 L362,896.9 L363,897.3 L364.1,897.8 L365.2,898.3 L366.3,898.8 L367.4,899.3 L368.5,899.8 L369.6,900.2 L370.6,900.7 L371.7,901.2 L372.8,901.6 L373.9,902.1 L375,902.6 L376.1,903 L377.2,903.5 L378.2,903.9 L379.3,904.4 L380.4,904.9 L381.5,905.3 L382.6,905.8 L383.6,906.2 L384.7,906.7 L385.8,907.1 L386.9,907.6 L388,908 L389,908.5 L390.1,908.9 L391.2,909.4 L392.3,909.8 L393.4,910.3 L394.4,910.7 L395.5,911.2 L396.6,911.6 L397.7,912.1 L398.7,912.5 L399.8,913 L400.9,913.4 L402,913.9 L403,914.4 L404.1,914.8 L405.2,915.3 L406.3,915.7 L407.3,916.2 L408.4,916.7 L409.5,917.2 L410.5,917.6 L411.6,918.1 L412.7,918.6 L413.8,919.1 L414.8,919.5 L415.9,920 L417,920.5 L418,921 L419.1,921.5 L420.2,922 L421.2,922.5 L422.3,923 L423.4,923.5 L424.4,924.1 L425.5,924.6 L426.6,925.1 L427.6,925.6 L428.7,926.1 L429.8,926.7 L430.8,927.2 L431.9,927.7 L433,928.3 L434,928.8 L435.1,929.4 L436.2,929.9 L437.2,930.5 L438.3,931 L439.4,931.6 L440.4,932.1 L441.5,932.7 L442.5,933.2 L443.6,933.8 L444.7,934.4 L445.7,934.9 L446.8,935.5 L447.9,936.1 L448.9,936.6 L450,937.2 L451,937.8 L452.1,938.4 L453.2,938.9 L454.2,939.5 L455.3,940.1 L456.4,940.7 L457.4,941.3 L458.5,941.8 L459.6,942.4 L460.6,943 L461.7,943.6 L462.8,944.2 L463.8,944.8 L464.9,945.3 L466,945.9 L467,946.5 L468.1,947.1 L469.2,947.7 L470.2,948.3 L471.3,948.9 L472.4,949.5 L473.4,950 L474.5,950.6 L475.6,951.2 L476.6,951.8 L477.7,952.4 L478.8,953 L479.8,953.6 L480.9,954.1 L482,954.7 L483,955.3 L484.1,955.9 L485.2,956.5 L486.3,957 L487.3,957.6 L488.4,958.2 L489.5,958.8 L490.6,959.4 L491.6,959.9 L492.7,960.5 L493.8,961.1 L494.9,961.6 L495.9,962.2 L497,962.8 L498.1,963.3 L499.2,963.9 L500.3,964.5 L501.3,965 L502.4,965.6 L503.5,966.1 L504.6,966.7 L505.7,967.2 L506.8,967.8 L507.9,968.3 L508.9,968.9 L510,969.4 L511.1,969.9 L512.2,970.5 L513.3,971 L514.4,971.5 L515.5,972.1 L516.6,972.6 L517.7,973.1 L518.8,973.6 L519.9,974.1 L521,974.6 L522.1,975.1 L523.2,975.6 L524.3,976.1 L525.4,976.6 L526.5,977.1 L527.6,977.6 L528.7,978.1 L529.8,978.6 L530.9,979.1 L532,979.5 L533.1,980 L534.2,980.5 L535.3,980.9 L536.4,981.4 L537.5,981.8 L538.7,982.3 L539.8,982.7 L540.9,983.1 L542,983.6 L543.1,984 L544.2,984.4 L545.4,984.9 L546.5,985.3 L547.6,985.7 L548.7,986.1 L549.9,986.5 L551,987 L552.1,987.4 L553.2,987.8 L554.4,988.2 L555.5,988.6 L556.6,989 L557.7,989.4 L558.9,989.8 L560,990.1 L561.1,990.5 L562.3,990.9 L563.4,991.3 L564.5,991.7 L565.7,992 L566.8,992.4 L567.9,992.8 L569.1,993.2 L570.2,993.5 L571.3,993.9 L572.5,994.2 L573.6,994.6 L574.8,995 L575.9,995.3 L577,995.7 L578.2,996 L579.3,996.4 L580.5,996.7 L581.6,997.1 L582.7,997.4 L583.9,997.8 L585,998.1 L586.2,998.5 L587.3,998.8 L588.5,999.2 L589.6,999.5 L590.7,999.8 L591.9,1000.2 L593,1000.5 L594.2,1000.8 L595.3,1001.2 L596.5,1001.5 L597.6,1001.9 L598.8,1002.2 L599.9,1002.5 L601.1,1002.9 L602.2,1003.2 L603.4,1003.5 L604.5,1003.8 L605.6,1004.2 L606.8,1004.5 L607.9,1004.8 L609.1,1005.2 L610.2,1005.5 L611.4,1005.8 L612.5,1006.2 L613.7,1006.5 L614.8,1006.8 L616,1007.2 L617.1,1007.5 L618.3,1007.8 L619.4,1008.2 L620.6,1008.5 L621.7,1008.8 L622.9,1009.2 L624,1009.5 L625.1,1009.8 L626.3,1010.2 L627.4,1010.5 L628.6,1010.8 L629.7,1011.2 L630.9,1011.5 L632,1011.9 L633.2,1012.2 L634.3,1012.5 L635.5,1012.9 L636.6,1013.2 L637.7,1013.6 L638.9,1013.9 L640,1014.3 L641.2,1014.6 L642.3,1015 L643.5,1015.3 L644.6,1015.7 L645.7,1016.1 L646.9,1016.4 L648,1016.8 L649.2,1017.1 L650.3,1017.5 L651.4,1017.9 L652.6,1018.2 L653.7,1018.6 L654.9,1019 L656,1019.4 L657.1,1019.7 L658.3,1020.1 L659.4,1020.5 L660.5,1020.9 L661.7,1021.3 L662.8,1021.7 L663.9,1022.1 L665.1,1022.5 L666.2,1022.9 L667.3,1023.3 L668.5,1023.7 L669.6,1024.1 L670.7,1024.5 L671.8,1024.9 L673,1025.3 L674.1,1025.8 L675.2,1026.2 L676.4,1026.6 L677.5,1027.1 L678.6,1027.5 L679.7,1027.9 L680.8,1028.4 L682,1028.8 L683.1,1029.3 L684.2,1029.7 L685.3,1030.2 L686.4,1030.6 L687.5,1031.1 L688.7,1031.5 L689.8,1032 L690.9,1032.5 L692,1032.9 L693.1,1033.4 L694.2,1033.9 L695.3,1034.4 L696.5,1034.8 L697.6,1035.3 L698.7,1035.8 L699.8,1036.3 L700.9,1036.8 L702,1037.3 L703.1,1037.7 L704.2,1038.2 L705.3,1038.7 L706.4,1039.2 L707.5,1039.7 L708.6,1040.2 L709.7,1040.7 L710.8,1041.2 L711.9,1041.7 L713,1042.2 L714.1,1042.7 L715.2,1043.2 L716.3,1043.7 L717.4,1044.2 L718.5,1044.7 L719.6,1045.2 L720.7,1045.8 L721.8,1046.3 L722.9,1046.8 L724,1047.3 L725.1,1047.8 L726.2,1048.3 L727.3,1048.8 L728.4,1049.3 L729.5,1049.8 L730.6,1050.4 L731.6,1050.9 L732.7,1051.4 L733.8,1051.9 L734.9,1052.4 L736,1052.9 L737.1,1053.4 L738.2,1053.9 L739.3,1054.4 L740.4,1055 L741.4,1055.5 L742.5,1056 L743.6,1056.5 L744.7,1057 L745.8,1057.5 L746.9,1058 L747.9,1058.5 L749,1059 L750.1,1059.5 L751.2,1060 L752.3,1060.5 L753.4,1061 L754.4,1061.6 L755.5,1062.1 L756.6,1062.6 L757.6,1063.1 L758.7,1063.6 L759.8,1064.2 L760.8,1064.7 L761.9,1065.3 L763,1065.8 L764,1066.4 L765.1,1066.9 L766.1,1067.5 L767.1,1068.1 L768.2,1068.6 L769.2,1069.2 L770.3,1069.8 L771.3,1070.4 L772.3,1071.1 L773.3,1071.7 L774.3,1072.3 L775.3,1073 L776.3,1073.6 L777.3,1074.3 L778.3,1075 L779.3,1075.7 L780.3,1076.4 L781.3,1077.1 L782.2,1077.9 L783.2,1078.6 L784.1,1079.4 L785.1,1080.1 L786,1080.9 L787,1081.7 L787.9,1082.5 L788.8,1083.3 L789.7,1084.2 L790.6,1085 L791.5,1085.8 L792.4,1086.7 L793.3,1087.5 L794.1,1088.4 L795,1089.2 L795.9,1090.1 L796.7,1091 L797.5,1091.9 L798.4,1092.8 L799.2,1093.7 L800,1094.6 L800.8,1095.5 L801.6,1096.4 L802.3,1097.3 L803.1,1098.2 L803.8,1099.1 L804.6,1100.1 L805.3,1101 L806.1,1101.9 L806.8,1102.9 L807.5,1103.8 L808.2,1104.7 L808.9,1105.7 L809.6,1106.6 L810.3,1107.6 L810.9,1108.5 L811.6,1109.5 L812.3,1110.4 L812.9,1111.4 L813.6,1112.4 L814.2,1113.3 L814.8,1114.3 L815.5,1115.3 L816.1,1116.2 L816.7,1117.2 L817.3,1118.2 L817.9,1119.2 L818.5,1120.2 L819.1,1121.2 L819.7,1122.2 L820.3,1123.2 L820.9,1124.2 L821.5,1125.2 L822.1,1126.2 L822.7,1127.2 L823.3,1128.2 L823.8,1129.2 L824.4,1130.2 L825,1131.2 L825.6,1132.2 L826.1,1133.3 L826.7,1134.3 L827.3,1135.3 L827.8,1136.3 L828.4,1137.4 L829,1138.4 L829.5,1139.5 L830.1,1140.5 L830.6,1141.5 L831.2,1142.6 L831.8,1143.6 L832.3,1144.7 L832.9,1145.7 L833.4,1146.8 L834,1147.8 L834.5,1148.9 L835.1,1150 L835.6,1151 L836.2,1152.1 L836.7,1153.2 L837.3,1154.2 L837.8,1155.3 L838.3,1156.4 L838.9,1157.5 L839.4,1158.5 L840,1159.6 L840.5,1160.7 L841.1,1161.8 L841.6,1162.9 L842.1,1163.9 L842.7,1165 L843.2,1166.1 L843.8,1167.2 L844.3,1168.3 L844.9,1169.4 L845.4,1170.5 L845.9,1171.6 L846.5,1172.7 L847,1173.8 L847.6,1174.9 L848.1,1176 L848.6,1177.1 L849.2,1178.3 L849.7,1179.4 L850.2,1180.5 L850.8,1181.6 L851.3,1182.7 L851.8,1183.8 L852.3,1185 L852.8,1186.1 L853.4,1187.2 L853.9,1188.3 L854.4,1189.4 L854.9,1190.6 L855.4,1191.7 L855.9,1192.8 L856.4,1194 L856.8,1195.1 L857.3,1196.2 L857.8,1197.4 L858.3,1198.5 L858.7,1199.6 L859.2,1200.8 L859.6,1201.9 L860.1,1203.1 L860.5,1204.2 L860.9,1205.3 L861.4,1206.5 L861.8,1207.6 L862.2,1208.8 L862.6,1209.9 L863,1211.1 L863.4,1212.2 L863.8,1213.4 L864.2,1214.5 L864.5,1215.7 L864.9,1216.8 L865.3,1218 L865.7,1219.1 L866,1220.3 L866.4,1221.4 L866.7,1222.6 L867.1,1223.8 L867.4,1224.9 L867.7,1226.1 L868.1,1227.2 L868.4,1228.4 L868.7,1229.6 L869,1230.7 L869.4,1231.9 L869.7,1233 L870,1234.2 L870.3,1235.4 L870.6,1236.5 L870.9,1237.7 L871.2,1238.9 L871.5,1240 L871.8,1241.2 L872,1242.4 L872.3,1243.5 L872.6,1244.7 L872.9,1245.9 L873.1,1247 L873.4,1248.2 L873.7,1249.4 L873.9,1250.5 L874.2,1251.7 L874.5,1252.9 L874.7,1254 L875,1255.2 L875.2,1256.4 L875.5,1257.5 L875.7,1258.7 L876,1259.9 L876.2,1261 L876.4,1262.2 L876.7,1263.4 L876.9,1264.6 L877.1,1265.7 L877.4,1266.9 L877.6,1268.1 L877.8,1269.2 L878,1270.4 L878.2,1271.6 L878.5,1272.8 L878.7,1273.9 L878.9,1275.1 L879.1,1276.3 L879.3,1277.4 L879.5,1278.6 L879.7,1279.8 L879.9,1281 L880.1,1282.1 L880.3,1283.3 L880.5,1284.5 L880.7,1285.7 L880.9,1286.8 L881.1,1288 L881.3,1289.2 L881.4,1290.4 L881.6,1291.5 L881.8,1292.7 L882,1293.9 L882.2,1295.1 L882.3,1296.3 L882.5,1297.4 L882.7,1298.6 L882.9,1299.8 L883,1301 L883.2,1302.2 L883.4,1303.3 L883.5,1304.5 L883.7,1305.7 L883.8,1306.9 L884,1308.1 L884.2,1309.2 L884.3,1310.4 L884.5,1311.6 L884.6,1312.8 L884.8,1314 L884.9,1315.2 L885.1,1316.3 L885.2,1317.5 L885.4,1318.7 L885.5,1319.9 L885.6,1321.1 L885.8,1322.3 L885.9,1323.5 L886.1,1324.6 L886.2,1325.8 L886.3,1327 L886.5,1328.2 L886.6,1329.4 L886.7,1330.6 L886.9,1331.8 L887,1333 L887.1,1334.1 L887.3,1335.3 L887.4,1336.5 L887.5,1337.7 L887.6,1338.9 L887.8,1340.1 L887.9,1341.3 L888,1342.5 L888.1,1343.7 L888.2,1344.9 L888.4,1346.1 L888.5,1347.3 L888.6,1348.5 L888.7,1349.7 L888.8,1350.9 L888.9,1352 L889.1,1353.2 L889.2,1354.4 L889.3,1355.6 L889.4,1356.8 L889.5,1358 L889.6,1359.2 L889.7,1360.4 L889.8,1361.6 L889.9,1362.8 L890,1364 L890.2,1365.2 L890.3,1366.4 L890.4,1367.6 L890.5,1368.8 L890.6,1370 L890.7,1371.3 L890.8,1372.5 L890.9,1373.7 L891,1374.9 L891.1,1376.1 L891.2,1377.3 L891.3,1378.5 L891.4,1379.7 L891.5,1380.9 L891.6,1382.1 L891.7,1383.3 L891.8,1384.5 L891.9,1385.7 L892,1386.9 L892.1,1388.2 L892.2,1389.4 L892.3,1390.6 L892.4,1391.8 L892.5,1393 L892.6,1394.2 L892.7,1395.4 L892.8,1396.6 L892.9,1397.9 L893,1399.1" stroke="#1F3FFF"/>
<path d="M163.8,790.2 L163.9,791.3 L164,792.5 L164.2,793.6 L164.5,794.7 L164.8,795.8 L165.2,796.8 L165.6,797.9 L166,798.9 L166.6,799.9 L167.1,800.9 L167.7,801.9 L168.4,802.8 L169,803.7 L169.8,804.7 L170.5,805.6 L171.3,806.4 L172.1,807.3 L173,808.1 L173.9,808.9 L174.8,809.7 L175.7,810.5 L176.7,811.2 L177.7,812 L178.7,812.7 L179.7,813.4 L180.8,814 L181.8,814.7 L182.9,815.3 L184,815.9 L185.1,816.5 L186.2,817 L187.3,817.6 L188.4,818.1 L189.5,818.6 L190.7,819 L191.8,819.5 L193,819.9 L194.1,820.3 L195.2,820.7 L196.4,821 L197.5,821.4 L198.7,821.7 L199.9,822.1 L201,822.4 L202.2,822.6 L203.4,822.9 L204.5,823.2 L205.7,823.4 L206.9,823.7 L208,823.9 L209.2,824.1 L210.4,824.3 L211.6,824.5 L212.8,824.7 L214,824.9 L215.2,825.1 L216.3,825.3 L217.5,825.4 L218.7,825.6 L219.9,825.7 L221.1,825.9 L222.3,826 L223.5,826.2 L224.7,826.4 L225.9,826.5 L227.1,826.7 L228.2,826.8 L229.4,827 L230.6,827.1 L231.8,827.3 L233,827.4 L234.2,827.6 L235.4,827.8 L236.5,828 L237.7,828.2 L238.9,828.4 L240.1,828.6 L241.3,828.8 L242.4,829 L243.6,829.2 L244.8,829.5 L245.9,829.7 L247.1,830 L248.3,830.2 L249.4,830.5 L250.6,830.8 L251.8,831.1 L252.9,831.4 L254.1,831.7 L255.2,832 L256.4,832.3 L257.5,832.6 L258.7,832.9 L259.8,833.2 L261,833.6 L262.1,833.9 L263.2,834.3 L264.4,834.6 L265.5,835 L266.7,835.4 L267.8,835.7 L268.9,836.1 L270.1,836.5 L271.2,836.9 L272.3,837.3 L273.5,837.7 L274.6,838.1 L275.7,838.5 L276.8,838.9 L278,839.3 L279.1,839.8 L280.2,840.2 L281.3,840.6 L282.5,841.1 L283.6,841.5 L284.7,842 L285.8,842.4 L286.9,842.9 L288,843.3 L289.1,843.8 L290.3,844.3 L291.4,844.7 L292.5,845.2 L293.6,845.7 L294.7,846.2 L295.8,846.6 L296.9,847.1 L298,847.6 L299.1,848.1 L300.2,848.6 L301.3,849.1 L302.4,849.6 L303.5,850.1 L304.6,850.6 L305.7,851.1 L306.8,851.6 L307.9,852.1 L309,852.6 L310.1,853.2 L311.2,853.7 L312.3,854.2 L313.4,854.7 L314.5,855.2 L315.6,855.8 L316.7,856.3 L317.8,856.8 L318.9,857.3 L320,857.9 L321,858.4 L322.1,858.9 L323.2,859.4 L324.3,860 L325.4,860.5 L326.5,861 L327.6,861.5 L328.7,862.1 L329.8,862.6 L330.8,863.1 L331.9,863.7 L333,864.2 L334.1,864.7 L335.2,865.2 L336.3,865.8 L337.4,866.3 L338.5,866.8 L339.5,867.3 L340.6,867.9 L341.7,868.4 L342.8,868.9 L343.9,869.4 L345,869.9 L346.1,870.5 L347.1,871 L348.2,871.5 L349.3,872 L350.4,872.5 L351.5,873 L352.6,873.5 L353.7,874 L354.8,874.5 L355.8,875 L356.9,875.5 L358,876 L359.1,876.5 L360.2,877 L361.3,877.5 L362.4,877.9 L363.5,878.4 L364.5,878.9 L365.6,879.3 L366.7,879.8 L367.8,880.3 L368.9,880.7 L370,881.2 L371.1,881.6 L372.2,882.1 L373.3,882.5 L374.4,883 L375.5,883.4 L376.6,883.8 L377.7,884.3 L378.7,884.7 L379.8,885.1 L380.9,885.6 L382,886 L383.1,886.4 L384.2,886.8 L385.3,887.3 L386.4,887.7 L387.5,888.1 L388.6,888.5 L389.7,889 L390.8,889.4 L391.9,889.8 L393,890.3 L394.1,890.7 L395.2,891.1 L396.3,891.6 L397.4,892 L398.5,892.4 L399.5,892.9 L400.6,893.3 L401.7,893.8 L402.8,894.2 L403.9,894.7 L405,895.2 L406.1,895.6 L407.2,896.1 L408.3,896.6 L409.4,897.1 L410.5,897.6 L411.5,898 L412.6,898.5 L413.7,899.1 L414.8,899.6 L415.9,900.1 L417,900.6 L418.1,901.1 L419.1,901.7 L420.2,902.2 L421.3,902.8 L422.4,903.4 L423.5,903.9 L424.5,904.5 L425.6,905.1 L426.7,905.7 L427.8,906.3 L428.8,906.9 L429.9,907.5 L431,908.1 L432.1,908.7 L433.1,909.3 L434.2,909.9 L435.3,910.5 L436.4,911.1 L437.4,911.7 L438.5,912.4 L439.6,913 L440.6,913.6 L441.7,914.2 L442.8,914.8 L443.8,915.5 L444.9,916.1 L446,916.7 L447.1,917.3 L448.1,917.9 L449.2,918.6 L450.3,919.2 L451.3,919.8 L452.4,920.4 L453.5,921 L454.5,921.6 L455.6,922.2 L456.7,922.7 L457.7,923.3 L458.8,923.9 L459.9,924.5 L460.9,925 L462,925.6 L463.1,926.2 L464.1,926.7 L465.2,927.3 L466.3,927.9 L467.3,928.4 L468.4,928.9 L469.5,929.5 L470.5,930 L471.6,930.6 L472.7,931.1 L473.7,931.6 L474.8,932.2 L475.9,932.7 L476.9,933.2 L478,933.7 L479.1,934.2 L480.1,934.8 L481.2,935.3 L482.3,935.8 L483.4,936.3 L484.4,936.8 L485.5,937.3 L486.6,937.8 L487.6,938.3 L488.7,938.8 L489.8,939.3 L490.9,939.8 L491.9,940.3 L493,940.8 L494.1,941.2 L495.2,941.7 L496.3,942.2 L497.3,942.7 L498.4,943.2 L499.5,943.7 L500.6,944.1 L501.7,944.6 L502.8,945.1 L503.8,945.6 L504.9,946 L506,946.5 L507.1,947 L508.2,947.5 L509.3,947.9 L510.4,948.4 L511.5,948.9 L512.5,949.3 L513.6,949.8 L514.7,950.3 L515.8,950.7 L516.9,951.2 L518,951.6 L519.1,952.1 L520.2,952.6 L521.3,953 L522.4,953.5 L523.5,953.9 L524.6,954.4 L525.7,954.9 L526.8,955.3 L527.9,955.8 L529,956.2 L530.1,956.7 L531.2,957.1 L532.3,957.6 L533.4,958 L534.6,958.5 L535.7,958.9 L536.8,959.4 L537.9,959.8 L539,960.3 L540.1,960.7 L541.2,961.1 L542.3,961.6 L543.4,962 L544.6,962.5 L545.7,962.9 L546.8,963.3 L547.9,963.8 L549,964.2 L550.1,964.6 L551.2,965.1 L552.4,965.5 L553.5,965.9 L554.6,966.4 L555.7,966.8 L556.8,967.2 L558,967.7 L559.1,968.1 L560.2,968.5 L561.3,969 L562.4,969.4 L563.6,969.8 L564.7,970.2 L565.8,970.7 L566.9,971.1 L568.1,971.5 L569.2,971.9 L570.3,972.3 L571.4,972.8 L572.6,973.2 L573.7,973.6 L574.8,974 L575.9,974.4 L577.1,974.9 L578.2,975.3 L579.3,975.7 L580.4,976.1 L581.6,976.5 L582.7,976.9 L583.8,977.3 L585,977.7 L586.1,978.2 L587.2,978.6 L588.4,979 L589.5,979.4 L590.6,979.8 L591.7,980.2 L592.9,980.6 L594,981 L595.1,981.4 L596.3,981.8 L597.4,982.2 L598.5,982.6 L599.7,983 L600.8,983.4 L601.9,983.8 L603.1,984.2 L604.2,984.6 L605.3,985 L606.5,985.4 L607.6,985.8 L608.7,986.2 L609.9,986.6 L611,987 L612.1,987.4 L613.3,987.8 L614.4,988.2 L615.5,988.5 L616.7,988.9 L617.8,989.3 L618.9,989.7 L620.1,990.1 L621.2,990.5 L622.3,990.9 L623.5,991.3 L624.6,991.6 L625.7,992 L626.9,992.4 L628,992.8 L629.2,993.2 L630.3,993.6 L631.4,993.9 L632.6,994.3 L633.7,994.7 L634.8,995.1 L636,995.5 L637.1,995.8 L638.2,996.2 L639.4,996.6 L640.5,997 L641.6,997.4 L642.8,997.7 L643.9,998.1 L645,998.5 L646.1,998.9 L647.3,999.2 L648.4,999.6 L649.5,1000 L650.7,1000.4 L651.8,1000.7 L652.9,1001.1 L654.1,1001.5 L655.2,1001.9 L656.3,1002.2 L657.5,1002.6 L658.6,1003 L659.7,1003.4 L660.8,1003.8 L662,1004.2 L663.1,1004.6 L664.2,1004.9 L665.4,1005.3 L666.5,1005.7 L667.6,1006.1 L668.7,1006.5 L669.9,1006.9 L671,1007.3 L672.1,1007.7 L673.2,1008.1 L674.4,1008.5 L675.5,1009 L676.6,1009.4 L677.7,1009.8 L678.9,1010.2 L680,1010.6 L681.1,1011.1 L682.2,1011.5 L683.4,1011.9 L684.5,1012.4 L685.6,1012.8 L686.7,1013.3 L687.8,1013.7 L689,1014.2 L690.1,1014.6 L691.2,1015.1 L692.3,1015.6 L693.4,1016 L694.5,1016.5 L695.7,1017 L696.8,1017.5 L697.9,1018 L699,1018.5 L700.1,1019 L701.2,1019.5 L702.3,1020 L703.5,1020.5 L704.6,1021.1 L705.7,1021.6 L706.8,1022.1 L707.9,1022.7 L709,1023.2 L710.1,1023.8 L711.2,1024.4 L712.3,1024.9 L713.4,1025.5 L714.5,1026.1 L715.6,1026.7 L716.7,1027.3 L717.8,1027.9 L718.9,1028.5 L720,1029 L721.1,1029.6 L722.2,1030.2 L723.3,1030.8 L724.4,1031.4 L725.5,1032 L726.6,1032.6 L727.7,1033.2 L728.8,1033.8 L729.9,1034.4 L731,1035 L732.1,1035.6 L733.2,1036.2 L734.3,1036.8 L735.4,1037.3 L736.5,1037.9 L737.6,1038.5 L738.6,1039 L739.7,1039.6 L740.8,1040.1 L741.9,1040.6 L743,1041.2 L744.1,1041.7 L745.1,1042.2 L746.2,1042.7 L747.3,1043.2 L748.4,1043.6 L749.5,1044.1 L750.5,1044.5 L751.6,1045 L752.7,1045.4 L753.8,1045.8 L754.8,1046.2 L755.9,1046.6 L757,1047 L758,1047.3 L759.1,1047.7 L760.2,1048.1 L761.3,1048.4 L762.4,1048.8 L763.4,1049.1 L764.5,1049.5 L765.6,1049.8 L766.7,1050.1 L767.8,1050.5 L768.9,1050.8 L769.9,1051.1 L771,1051.5 L772.1,1051.8 L773.2,1052.1 L774.3,1052.5 L775.4,1052.8 L776.6,1053.2 L777.7,1053.5 L778.8,1053.9 L779.9,1054.2 L781,1054.6 L782.2,1055 L783.3,1055.4 L784.4,1055.8 L785.6,1056.2 L786.7,1056.6 L787.8,1057 L789,1057.5 L790.1,1057.9 L791.2,1058.4 L792.3,1058.9 L793.4,1059.4 L794.5,1059.9 L795.6,1060.4 L796.7,1061 L797.8,1061.5 L798.8,1062.1 L799.9,1062.7 L800.9,1063.4 L801.9,1064 L802.9,1064.7 L803.9,1065.4 L804.9,1066 L805.9,1066.8 L806.8,1067.5 L807.8,1068.2 L808.7,1069 L809.6,1069.8 L810.5,1070.5 L811.4,1071.3 L812.3,1072.1 L813.2,1072.9 L814.1,1073.7 L815,1074.6 L815.9,1075.4 L816.8,1076.2 L817.7,1077 L818.5,1077.8 L819.4,1078.7 L820.3,1079.5 L821.2,1080.3 L822,1081.2 L822.9,1082 L823.7,1082.9 L824.6,1083.7 L825.5,1084.6 L826.3,1085.4 L827.2,1086.3 L828,1087.1 L828.8,1088 L829.7,1088.8 L830.5,1089.7 L831.4,1090.6 L832.2,1091.4 L833,1092.3 L833.8,1093.2 L834.7,1094.1 L835.5,1094.9 L836.3,1095.8 L837.1,1096.7 L837.9,1097.6 L838.7,1098.5 L839.6,1099.4 L840.4,1100.3 L841.2,1101.2 L842,1102.1 L842.8,1103 L843.5,1103.9 L844.3,1104.8 L845.1,1105.7 L845.9,1106.6 L846.7,1107.5 L847.5,1108.4 L848.2,1109.3 L849,1110.3 L849.8,1111.2 L850.6,1112.1 L851.3,1113 L852.1,1114 L852.8,1114.9 L853.6,1115.8 L854.3,1116.8 L855.1,1117.7 L855.8,1118.7 L856.6,1119.6 L857.3,1120.6 L858,1121.5 L858.8,1122.5 L859.5,1123.4 L860.2,1124.4 L861,1125.3 L861.7,1126.3 L862.4,1127.3 L863.1,1128.2 L863.8,1129.2 L864.5,1130.2 L865.2,1131.2 L865.9,1132.1 L866.6,1133.1 L867.3,1134.1 L868,1135.1 L868.7,1136.1 L869.4,1137 L870.1,1138 L870.8,1139 L871.5,1140 L872.1,1141 L872.8,1142 L873.5,1143 L874.1,1144 L874.8,1145 L875.5,1146 L876.1,1147 L876.8,1148 L877.4,1149.1 L878.1,1150.1 L878.7,1151.1 L879.3,1152.1 L880,1153.1 L880.6,1154.1 L881.2,1155.2 L881.9,1156.2 L882.5,1157.2 L883.1,1158.3 L883.7,1159.3 L884.3,1160.3 L884.9,1161.4 L885.6,1162.4 L886.2,1163.4 L886.8,1164.5 L887.4,1165.5 L887.9,1166.6 L888.5,1167.6 L889.1,1168.7 L889.7,1169.7 L890.3,1170.8 L890.9,1171.8 L891.4,1172.9 L892,1174 L892.6,1175 L893.1,1176.1 L893.7,1177.1 L894.3,1178.2 L894.8,1179.3 L895.4,1180.3 L895.9,1181.4 L896.4,1182.5 L897,1183.6 L897.5,1184.6 L898.1,1185.7 L898.6,1186.8 L899.1,1187.9 L899.6,1189 L900.1,1190 L900.7,1191.1 L901.2,1192.2 L901.7,1193.3 L902.2,1194.4 L902.7,1195.5 L903.2,1196.6 L903.7,1197.7 L904.2,1198.8 L904.7,1199.9 L905.1,1201 L905.6,1202.1 L906.1,1203.2 L906.6,1204.3 L907,1205.4 L907.5,1206.5 L908,1207.6 L908.4,1208.7 L908.9,1209.8 L909.3,1210.9 L909.8,1212.1 L910.2,1213.2 L910.7,1214.3 L911.1,1215.4 L911.5,1216.5 L912,1217.6 L912.4,1218.8 L912.8,1219.9 L913.2,1221 L913.7,1222.1 L914.1,1223.3 L914.5,1224.4 L914.9,1225.5 L915.3,1226.7 L915.7,1227.8 L916.1,1228.9 L916.5,1230.1 L916.8,1231.2 L917.2,1232.3 L917.6,1233.5 L918,1234.6 L918.3,1235.8 L918.7,1236.9 L919.1,1238 L919.4,1239.2 L919.8,1240.3 L920.1,1241.5 L920.5,1242.6 L920.8,1243.8 L921.2,1244.9 L921.5,1246.1 L921.8,1247.2 L922.2,1248.4 L922.5,1249.5 L922.8,1250.7 L923.1,1251.8 L923.5,1253 L923.8,1254.2 L924.1,1255.3 L924.4,1256.5 L924.7,1257.6 L925,1258.8 L925.3,1260 L925.6,1261.1 L925.8,1262.3 L926.1,1263.5 L926.4,1264.6 L926.7,1265.8 L926.9,1267 L927.2,1268.1 L927.5,1269.3 L927.7,1270.5 L928,1271.6 L928.3,1272.8 L928.5,1274 L928.8,1275.1 L929,1276.3 L929.3,1277.5 L929.5,1278.7 L929.7,1279.8 L930,1281 L930.2,1282.2 L930.4,1283.4 L930.7,1284.6 L930.9,1285.7 L931.1,1286.9 L931.3,1288.1 L931.6,1289.3 L931.8,1290.5 L932,1291.6 L932.2,1292.8 L932.4,1294 L932.6,1295.2 L932.8,1296.4 L933,1297.6 L933.2,1298.7 L933.4,1299.9 L933.6,1301.1 L933.8,1302.3 L934,1303.5 L934.2,1304.7 L934.4,1305.9 L934.6,1307.1 L934.8,1308.2 L934.9,1309.4 L935.1,1310.6 L935.3,1311.8 L935.5,1313 L935.6,1314.2 L935.8,1315.4 L936,1316.6 L936.2,1317.8 L936.3,1319 L936.5,1320.2 L936.7,1321.3 L936.8,1322.5 L937,1323.7 L937.2,1324.9 L937.3,1326.1 L937.5,1327.3 L937.6,1328.5 L937.8,1329.7 L937.9,1330.9 L938.1,1332.1 L938.3,1333.3 L938.4,1334.5 L938.6,1335.7 L938.7,1336.9 L938.9,1338.1 L939,1339.3 L939.1,1340.5 L939.3,1341.7 L939.4,1342.9 L939.6,1344.1 L939.7,1345.3 L939.9,1346.5 L940,1347.7 L940.2,1348.8 L940.3,1350 L940.4,1351.2 L940.6,1352.4 L940.7,1353.6 L940.9,1354.8 L941,1356 L941.1,1357.2 L941.3,1358.4 L941.4,1359.6 L941.6,1360.8 L941.7,1362 L941.8,1363.2 L942,1364.4 L942.1,1365.6 L942.3,1366.8 L942.4,1368 L942.5,1369.2 L942.7,1370.4 L942.8,1371.6 L943,1372.8 L943.1,1374 L943.2,1375.2 L943.4,1376.4 L943.5,1377.6 L943.7,1378.7 L943.8,1379.9 L943.9,1381.1 L944.1,1382.3 L944.2,1383.5 L944.4,1384.7 L944.5,1385.9 L944.7,1387.1 L944.8,1388.3 L944.9,1389.5 L945.1,1390.7 L945.2,1391.9 L945.4,1393 L945.5,1394.2 L945.7,1395.4 L945.8,1396.6 L946,1397.8 L946.2,1399" stroke="#FFC000"/>
<path d="M163.7,788.4 L163.8,789.6 L164,790.7 L164.2,791.8 L164.5,792.8 L164.8,793.8 L165.2,794.8 L165.7,795.8 L166.2,796.7 L166.8,797.7 L167.4,798.5 L168.1,799.4 L168.8,800.3 L169.5,801.1 L170.3,801.9 L171.1,802.7 L172,803.5 L172.8,804.3 L173.7,805 L174.7,805.8 L175.6,806.5 L176.6,807.3 L177.5,808 L178.5,808.7 L179.5,809.4 L180.6,810.1 L181.6,810.8 L182.7,811.5 L183.7,812.1 L184.8,812.8 L185.9,813.4 L187,814 L188.1,814.6 L189.2,815.2 L190.3,815.8 L191.4,816.3 L192.6,816.8 L193.7,817.3 L194.8,817.8 L196,818.2 L197.1,818.7 L198.3,819.1 L199.4,819.4 L200.6,819.8 L201.7,820.2 L202.9,820.5 L204,820.8 L205.2,821.1 L206.4,821.4 L207.5,821.6 L208.7,821.9 L209.9,822.1 L211,822.3 L212.2,822.5 L213.4,822.7 L214.5,822.9 L215.7,823.1 L216.9,823.3 L218.1,823.5 L219.3,823.6 L220.4,823.8 L221.6,823.9 L222.8,824.1 L224,824.2 L225.2,824.4 L226.3,824.5 L227.5,824.6 L228.7,824.8 L229.9,824.9 L231.1,825.1 L232.2,825.2 L233.4,825.4 L234.6,825.5 L235.8,825.7 L236.9,825.9 L238.1,826 L239.3,826.2 L240.5,826.4 L241.6,826.6 L242.8,826.8 L244,827.1 L245.1,827.3 L246.3,827.5 L247.5,827.8 L248.6,828 L249.8,828.3 L250.9,828.5 L252.1,828.8 L253.3,829.1 L254.4,829.4 L255.6,829.7 L256.7,830 L257.9,830.3 L259,830.6 L260.2,830.9 L261.3,831.2 L262.5,831.6 L263.6,831.9 L264.8,832.2 L265.9,832.6 L267.1,832.9 L268.2,833.3 L269.4,833.7 L270.5,834 L271.6,834.4 L272.8,834.8 L273.9,835.2 L275.1,835.6 L276.2,836 L277.3,836.4 L278.5,836.8 L279.6,837.2 L280.7,837.6 L281.9,838.1 L283,838.5 L284.1,838.9 L285.3,839.3 L286.4,839.8 L287.5,840.2 L288.6,840.7 L289.8,841.1 L290.9,841.6 L292,842 L293.1,842.5 L294.3,843 L295.4,843.4 L296.5,843.9 L297.6,844.4 L298.7,844.8 L299.8,845.3 L301,845.8 L302.1,846.3 L303.2,846.8 L304.3,847.3 L305.4,847.8 L306.5,848.2 L307.6,848.7 L308.8,849.2 L309.9,849.7 L311,850.2 L312.1,850.7 L313.2,851.2 L314.3,851.7 L315.4,852.3 L316.5,852.8 L317.6,853.3 L318.7,853.8 L319.8,854.3 L320.9,854.8 L322,855.3 L323.1,855.8 L324.2,856.3 L325.3,856.8 L326.4,857.4 L327.5,857.9 L328.6,858.4 L329.7,858.9 L330.8,859.4 L331.9,859.9 L333,860.4 L334.1,860.9 L335.2,861.4 L336.3,862 L337.4,862.5 L338.5,863 L339.6,863.5 L340.7,864 L341.8,864.5 L342.9,865 L344,865.5 L345,866 L346.1,866.5 L347.2,867 L348.3,867.5 L349.4,868 L350.5,868.5 L351.6,869 L352.7,869.4 L353.8,869.9 L354.8,870.4 L355.9,870.9 L357,871.4 L358.1,871.9 L359.2,872.4 L360.3,872.8 L361.4,873.3 L362.4,873.8 L363.5,874.3 L364.6,874.8 L365.7,875.2 L366.8,875.7 L367.8,876.2 L368.9,876.7 L370,877.2 L371.1,877.6 L372.2,878.1 L373.3,878.6 L374.3,879.1 L375.4,879.6 L376.5,880 L377.6,880.5 L378.7,881 L379.7,881.5 L380.8,882 L381.9,882.4 L383,882.9 L384.1,883.4 L385.1,883.9 L386.2,884.4 L387.3,884.8 L388.4,885.3 L389.4,885.8 L390.5,886.3 L391.6,886.8 L392.7,887.3 L393.8,887.7 L394.8,888.2 L395.9,888.7 L397,889.2 L398.1,889.7 L399.1,890.2 L400.2,890.7 L401.3,891.2 L402.4,891.7 L403.4,892.2 L404.5,892.7 L405.6,893.2 L406.7,893.7 L407.8,894.2 L408.8,894.7 L409.9,895.2 L411,895.7 L412.1,896.2 L413.1,896.7 L414.2,897.2 L415.3,897.7 L416.4,898.2 L417.4,898.7 L418.5,899.2 L419.6,899.8 L420.7,900.3 L421.8,900.8 L422.8,901.3 L423.9,901.8 L425,902.3 L426.1,902.8 L427.1,903.4 L428.2,903.9 L429.3,904.4 L430.4,904.9 L431.5,905.4 L432.5,906 L433.6,906.5 L434.7,907 L435.8,907.5 L436.9,908 L437.9,908.6 L439,909.1 L440.1,909.6 L441.2,910.1 L442.3,910.7 L443.3,911.2 L444.4,911.7 L445.5,912.2 L446.6,912.8 L447.7,913.3 L448.7,913.8 L449.8,914.3 L450.9,914.9 L452,915.4 L453.1,915.9 L454.2,916.5 L455.3,917 L456.3,917.5 L457.4,918 L458.5,918.6 L459.6,919.1 L460.7,919.6 L461.8,920.1 L462.9,920.7 L463.9,921.2 L465,921.7 L466.1,922.2 L467.2,922.8 L468.3,923.3 L469.4,923.8 L470.5,924.3 L471.6,924.9 L472.7,925.4 L473.8,925.9 L474.9,926.4 L476,926.9 L477,927.5 L478.1,928 L479.2,928.5 L480.3,929 L481.4,929.5 L482.5,930 L483.6,930.5 L484.7,931 L485.8,931.6 L486.9,932.1 L488,932.6 L489.1,933.1 L490.2,933.6 L491.3,934.1 L492.4,934.6 L493.5,935.1 L494.6,935.6 L495.7,936.1 L496.8,936.6 L497.9,937.1 L499,937.6 L500.1,938.1 L501.2,938.5 L502.4,939 L503.5,939.5 L504.6,940 L505.7,940.5 L506.8,941 L507.9,941.5 L509,942 L510.1,942.5 L511.2,942.9 L512.3,943.4 L513.4,943.9 L514.5,944.4 L515.7,944.9 L516.8,945.3 L517.9,945.8 L519,946.3 L520.1,946.8 L521.2,947.2 L522.3,947.7 L523.4,948.2 L524.5,948.7 L525.7,949.1 L526.8,949.6 L527.9,950.1 L529,950.5 L530.1,951 L531.2,951.5 L532.3,951.9 L533.5,952.4 L534.6,952.9 L535.7,953.3 L536.8,953.8 L537.9,954.2 L539,954.7 L540.2,955.2 L541.3,955.6 L542.4,956.1 L543.5,956.5 L544.6,957 L545.7,957.4 L546.9,957.9 L548,958.3 L549.1,958.8 L550.2,959.2 L551.3,959.7 L552.4,960.1 L553.6,960.6 L554.7,961 L555.8,961.5 L556.9,961.9 L558,962.4 L559.2,962.8 L560.3,963.3 L561.4,963.7 L562.5,964.1 L563.6,964.6 L564.8,965 L565.9,965.5 L567,965.9 L568.1,966.3 L569.2,966.8 L570.4,967.2 L571.5,967.6 L572.6,968.1 L573.7,968.5 L574.8,968.9 L576,969.4 L577.1,969.8 L578.2,970.2 L579.3,970.7 L580.4,971.1 L581.6,971.5 L582.7,971.9 L583.8,972.4 L584.9,972.8 L586,973.2 L587.2,973.7 L588.3,974.1 L589.4,974.5 L590.5,974.9 L591.6,975.3 L592.8,975.8 L593.9,976.2 L595,976.6 L596.1,977 L597.2,977.4 L598.4,977.9 L599.5,978.3 L600.6,978.7 L601.7,979.1 L602.8,979.5 L603.9,979.9 L605.1,980.3 L606.2,980.8 L607.3,981.2 L608.4,981.6 L609.5,982 L610.7,982.4 L611.8,982.8 L612.9,983.2 L614,983.6 L615.1,984 L616.2,984.4 L617.4,984.8 L618.5,985.3 L619.6,985.7 L620.7,986.1 L621.8,986.5 L622.9,986.9 L624.1,987.3 L625.2,987.7 L626.3,988.1 L627.4,988.5 L628.5,988.9 L629.6,989.3 L630.7,989.7 L631.8,990.1 L633,990.5 L634.1,990.9 L635.2,991.3 L636.3,991.7 L637.4,992.1 L638.5,992.5 L639.6,992.8 L640.7,993.2 L641.9,993.6 L643,994 L644.1,994.4 L645.2,994.8 L646.3,995.2 L647.4,995.6 L648.5,996 L649.6,996.4 L650.7,996.8 L651.8,997.2 L652.9,997.6 L654,998 L655.2,998.4 L656.3,998.8 L657.4,999.2 L658.5,999.6 L659.6,1000 L660.7,1000.4 L661.8,1000.8 L662.9,1001.2 L664,1001.6 L665.1,1002 L666.2,1002.4 L667.3,1002.8 L668.4,1003.2 L669.5,1003.6 L670.6,1004.1 L671.7,1004.5 L672.8,1004.9 L674,1005.3 L675.1,1005.8 L676.2,1006.2 L677.3,1006.6 L678.4,1007.1 L679.5,1007.5 L680.6,1008 L681.7,1008.4 L682.8,1008.9 L683.9,1009.3 L685,1009.8 L686.1,1010.2 L687.2,1010.7 L688.3,1011.2 L689.4,1011.6 L690.5,1012.1 L691.6,1012.6 L692.7,1013.1 L693.9,1013.6 L695,1014.1 L696.1,1014.6 L697.2,1015.1 L698.3,1015.6 L699.4,1016.1 L700.5,1016.6 L701.6,1017.1 L702.7,1017.7 L703.8,1018.2 L704.9,1018.7 L706,1019.3 L707.1,1019.8 L708.3,1020.4 L709.4,1020.9 L710.5,1021.5 L711.6,1022.1 L712.7,1022.7 L713.8,1023.3 L714.9,1023.8 L716,1024.4 L717.1,1025 L718.3,1025.6 L719.4,1026.2 L720.5,1026.8 L721.6,1027.4 L722.7,1028 L723.8,1028.6 L724.9,1029.2 L726,1029.8 L727.2,1030.4 L728.3,1031 L729.4,1031.6 L730.5,1032.1 L731.6,1032.7 L732.8,1033.3 L733.9,1033.9 L735,1034.4 L736.1,1035 L737.2,1035.5 L738.3,1036.1 L739.5,1036.6 L740.6,1037.1 L741.7,1037.6 L742.8,1038.2 L744,1038.6 L745.1,1039.1 L746.2,1039.6 L747.3,1040.1 L748.5,1040.5 L749.6,1041 L750.7,1041.4 L751.8,1041.8 L753,1042.2 L754.1,1042.6 L755.2,1043 L756.4,1043.3 L757.5,1043.7 L758.6,1044 L759.8,1044.4 L760.9,1044.7 L762,1045 L763.1,1045.3 L764.3,1045.6 L765.4,1046 L766.5,1046.3 L767.7,1046.6 L768.8,1046.9 L769.9,1047.2 L771,1047.5 L772.1,1047.7 L773.3,1048 L774.4,1048.3 L775.5,1048.6 L776.6,1048.9 L777.7,1049.2 L778.8,1049.5 L779.9,1049.9 L781,1050.2 L782.2,1050.5 L783.3,1050.8 L784.4,1051.2 L785.4,1051.5 L786.5,1051.9 L787.6,1052.2 L788.7,1052.6 L789.8,1053 L790.9,1053.4 L792,1053.8 L793,1054.2 L794.1,1054.7 L795.2,1055.1 L796.2,1055.6 L797.3,1056.1 L798.4,1056.6 L799.4,1057.1 L800.5,1057.6 L801.5,1058.2 L802.5,1058.7 L803.6,1059.3 L804.6,1059.9 L805.6,1060.6 L806.6,1061.2 L807.7,1061.9 L808.7,1062.5 L809.7,1063.2 L810.7,1063.9 L811.7,1064.6 L812.6,1065.3 L813.6,1066 L814.6,1066.8 L815.6,1067.5 L816.5,1068.3 L817.5,1069 L818.4,1069.8 L819.4,1070.6 L820.3,1071.3 L821.3,1072.1 L822.2,1072.9 L823.1,1073.7 L824,1074.5 L824.9,1075.3 L825.8,1076.1 L826.7,1076.9 L827.6,1077.7 L828.5,1078.5 L829.4,1079.4 L830.3,1080.2 L831.1,1081 L832,1081.9 L832.9,1082.7 L833.7,1083.5 L834.6,1084.4 L835.4,1085.2 L836.3,1086.1 L837.1,1087 L837.9,1087.8 L838.7,1088.7 L839.6,1089.6 L840.4,1090.4 L841.2,1091.3 L842,1092.2 L842.8,1093.1 L843.6,1094 L844.4,1094.8 L845.2,1095.7 L846,1096.6 L846.8,1097.5 L847.5,1098.4 L848.3,1099.3 L849.1,1100.3 L849.9,1101.2 L850.6,1102.1 L851.4,1103 L852.2,1103.9 L852.9,1104.8 L853.7,1105.8 L854.4,1106.7 L855.2,1107.6 L855.9,1108.6 L856.7,1109.5 L857.4,1110.4 L858.2,1111.4 L858.9,1112.3 L859.6,1113.3 L860.4,1114.2 L861.1,1115.2 L861.8,1116.1 L862.6,1117 L863.3,1118 L864,1119 L864.7,1119.9 L865.5,1120.9 L866.2,1121.8 L866.9,1122.8 L867.6,1123.7 L868.3,1124.7 L869,1125.7 L869.8,1126.6 L870.5,1127.6 L871.2,1128.6 L871.9,1129.5 L872.6,1130.5 L873.3,1131.5 L874,1132.4 L874.7,1133.4 L875.4,1134.4 L876.2,1135.4 L876.9,1136.3 L877.6,1137.3 L878.3,1138.3 L879,1139.3 L879.7,1140.2 L880.4,1141.2 L881.1,1142.2 L881.8,1143.1 L882.6,1144.1 L883.3,1145.1 L884,1146.1 L884.7,1147 L885.4,1148 L886.1,1149 L886.8,1150 L887.5,1151 L888.2,1151.9 L889,1152.9 L889.7,1153.9 L890.4,1154.9 L891.1,1155.9 L891.8,1156.8 L892.5,1157.8 L893.2,1158.8 L893.9,1159.8 L894.6,1160.8 L895.3,1161.7 L896,1162.7 L896.7,1163.7 L897.4,1164.7 L898.1,1165.7 L898.8,1166.7 L899.5,1167.7 L900.1,1168.7 L900.8,1169.7 L901.5,1170.7 L902.2,1171.6 L902.9,1172.6 L903.6,1173.6 L904.2,1174.6 L904.9,1175.6 L905.6,1176.6 L906.2,1177.6 L906.9,1178.6 L907.6,1179.7 L908.2,1180.7 L908.9,1181.7 L909.5,1182.7 L910.2,1183.7 L910.8,1184.7 L911.5,1185.7 L912.1,1186.7 L912.8,1187.7 L913.4,1188.8 L914,1189.8 L914.6,1190.8 L915.3,1191.8 L915.9,1192.9 L916.5,1193.9 L917.1,1194.9 L917.7,1195.9 L918.3,1197 L918.9,1198 L919.5,1199 L920.1,1200.1 L920.7,1201.1 L921.2,1202.2 L921.8,1203.2 L922.4,1204.3 L923,1205.3 L923.5,1206.4 L924.1,1207.4 L924.6,1208.5 L925.2,1209.5 L925.7,1210.6 L926.2,1211.7 L926.8,1212.7 L927.3,1213.8 L927.8,1214.9 L928.3,1215.9 L928.8,1217 L929.3,1218.1 L929.8,1219.2 L930.3,1220.3 L930.8,1221.3 L931.3,1222.4 L931.7,1223.5 L932.2,1224.6 L932.7,1225.7 L933.1,1226.8 L933.5,1227.9 L934,1229 L934.4,1230.1 L934.8,1231.2 L935.3,1232.3 L935.7,1233.5 L936.1,1234.6 L936.5,1235.7 L936.9,1236.8 L937.3,1237.9 L937.7,1239.1 L938.1,1240.2 L938.4,1241.3 L938.8,1242.4 L939.2,1243.6 L939.5,1244.7 L939.9,1245.9 L940.3,1247 L940.6,1248.1 L940.9,1249.3 L941.3,1250.4 L941.6,1251.6 L941.9,1252.7 L942.3,1253.9 L942.6,1255 L942.9,1256.2 L943.2,1257.3 L943.5,1258.5 L943.8,1259.7 L944.1,1260.8 L944.4,1262 L944.7,1263.2 L945,1264.3 L945.3,1265.5 L945.5,1266.7 L945.8,1267.8 L946.1,1269 L946.3,1270.2 L946.6,1271.4 L946.9,1272.5 L947.1,1273.7 L947.4,1274.9 L947.6,1276.1 L947.9,1277.3 L948.1,1278.4 L948.3,1279.6 L948.6,1280.8 L948.8,1282 L949,1283.2 L949.2,1284.4 L949.5,1285.6 L949.7,1286.8 L949.9,1287.9 L950.1,1289.1 L950.3,1290.3 L950.5,1291.5 L950.7,1292.7 L950.9,1293.9 L951.1,1295.1 L951.3,1296.3 L951.5,1297.5 L951.7,1298.7 L951.9,1299.9 L952.1,1301.1 L952.2,1302.3 L952.4,1303.5 L952.6,1304.7 L952.8,1305.9 L953,1307.1 L953.1,1308.3 L953.3,1309.5 L953.5,1310.7 L953.6,1311.9 L953.8,1313.1 L954,1314.4 L954.1,1315.6 L954.3,1316.8 L954.4,1318 L954.6,1319.2 L954.8,1320.4 L954.9,1321.6 L955.1,1322.8 L955.2,1324 L955.4,1325.2 L955.5,1326.4 L955.7,1327.6 L955.8,1328.8 L956,1330 L956.1,1331.2 L956.2,1332.5 L956.4,1333.7 L956.5,1334.9 L956.7,1336.1 L956.8,1337.3 L957,1338.5 L957.1,1339.7 L957.2,1340.9 L957.4,1342.1 L957.5,1343.3 L957.7,1344.5 L957.8,1345.7 L957.9,1346.9 L958.1,1348.1 L958.2,1349.3 L958.4,1350.5 L958.5,1351.7 L958.6,1352.9 L958.8,1354.1 L958.9,1355.3 L959,1356.5 L959.2,1357.7 L959.3,1358.9 L959.5,1360.1 L959.6,1361.3 L959.8,1362.5 L959.9,1363.7 L960,1364.9 L960.2,1366 L960.3,1367.2 L960.5,1368.4 L960.6,1369.6 L960.8,1370.8 L960.9,1372 L961.1,1373.2 L961.2,1374.3 L961.4,1375.5 L961.5,1376.7 L961.7,1377.9 L961.8,1379.1 L962,1380.2 L962.2,1381.4 L962.3,1382.6 L962.5,1383.8 L962.7,1384.9 L962.8,1386.1 L963,1387.3 L963.2,1388.4 L963.3,1389.6 L963.5,1390.7 L963.7,1391.9 L963.9,1393.1 L964,1394.2 L964.2,1395.4 L964.4,1396.5 L964.6,1397.7 L964.8,1398.8" stroke="#FF0000"/>
</g>
<text x="164.4" y="1442" font-size="38" text-anchor="middle" >0</text>
<text x="318.6" y="1442" font-size="38" > </text>
<path d="M763,0 L583,0 L583,1098 C540,1059 483,1019 413,980 C343,941 280,911 224,891 L224,1058 C325,1103 413,1158 488,1222 C563,1286 616,1349 647,1409 L763,1409 Z" transform="translate(318.59,1442.00) scale(0.01855,-0.01855)" fill="#000"/>
<text x="493.9" y="1442" font-size="38" text-anchor="middle" >2</text>
<text x="658.7" y="1442" font-size="38" text-anchor="middle" >3</text>
<text x="823.4" y="1442" font-size="38" text-anchor="middle" >4</text>
<text x="988.2" y="1442" font-size="38" text-anchor="middle" >5</text>
<text x="138.2" y="1370" font-size="38" text-anchor="end" >2.6</text>
<text x="138.2" y="1297.7" font-size="38" text-anchor="end" >2.8</text>
<text x="138.2" y="1225.3" font-size="38" text-anchor="end" >3.0</text>
<text x="138.2" y="1152.9" font-size="38" text-anchor="end" >3.2</text>
<text x="138.2" y="1080.5" font-size="38" text-anchor="end" >3.4</text>
<text x="138.2" y="1008.1" font-size="38" text-anchor="end" >3.6</text>
<text x="138.2" y="935.8" font-size="38" text-anchor="end" >3.8</text>
<text x="138.2" y="863.4" font-size="38" text-anchor="end" >4.0</text>
<text x="138.2" y="791" font-size="38" text-anchor="end" >4.2</text>
<text x="569.7" y="1493.3" font-size="45.5" text-anchor="middle" textLength="540" lengthAdjust="spacing">discharged capacity Q / Ah</text>
<text transform="translate(68.5,1079.4) rotate(-90)" font-size="45" text-anchor="middle">U / V</text>
<text x="-0.5" y="821" font-size="55.5" text-anchor="start" >b)</text>
<rect x="181" y="1228" width="417.6" height="143.2" fill="#fff" stroke="#3a3a3a" stroke-width="1.2"/>
<path d="M187.1,1253 H269.7" stroke="#1F3FFF" stroke-width="3.4" stroke-linecap="round"/>
<path d="M187.1,1299.4 H269.7" stroke="#FFC000" stroke-width="3.4" stroke-linecap="round"/>
<path d="M187.1,1345.7 H269.7" stroke="#FF0000" stroke-width="3.4" stroke-linecap="round"/>
<path d="M417.7,1253.6 H501.5" stroke="#000" stroke-width="3.4" stroke-linecap="round"/>
<path d="M414.7,1299.7 H492.5" stroke="#000" stroke-width="3.4" stroke-linecap="round" stroke-dasharray="8.2 9.5"/>
<text x="280.4" y="1266.3" font-size="38" text-anchor="start" >0 °C</text>
<text x="279.4" y="1312.6" font-size="38" text-anchor="start" >RT</text>
<text x="280.4" y="1359" font-size="38" text-anchor="start" >50 °C</text>
<text x="510.5" y="1266" font-size="38" text-anchor="start" >new</text>
<text x="508.8" y="1312" font-size="38" text-anchor="start" >aged</text>
<path d="M153,1549 H988 V2166 H153 Z" fill="none" stroke="#000" stroke-width="3.5" stroke-linejoin="miter" stroke-linecap="square"/>
<path d="M160.6,2167.8 v8.6 M160.6,1550.8 v8.6 M326.1,2167.8 v8.6 M326.1,1550.8 v8.6 M491.6,2167.8 v8.6 M491.6,1550.8 v8.6 M657,2167.8 v8.6 M657,1550.8 v8.6 M822.5,2167.8 v8.6 M822.5,1550.8 v8.6 M988,2167.8 v8.6 M988,1550.8 v8.6 M243.3,2167.8 v3.8 M243.3,1550.8 v3.8 M408.8,2167.8 v3.8 M408.8,1550.8 v3.8 M574.3,2167.8 v3.8 M574.3,1550.8 v3.8 M739.8,2167.8 v3.8 M739.8,1550.8 v3.8 M905.3,2167.8 v3.8 M905.3,1550.8 v3.8 M151.2,2100.8 h-8.6 M986.2,2100.8 h-8.6 M151.2,2000.5 h-8.6 M986.2,2000.5 h-8.6 M151.2,1900.2 h-8.6 M986.2,1900.2 h-8.6 M151.2,1799.9 h-8.6 M986.2,1799.9 h-8.6 M151.2,1699.6 h-8.6 M986.2,1699.6 h-8.6 M151.2,1599.3 h-8.6 M986.2,1599.3 h-8.6 M151.2,2150.9 h-3.8 M986.2,2150.9 h-3.8 M151.2,2050.7 h-3.8 M986.2,2050.7 h-3.8 M151.2,1950.3 h-3.8 M986.2,1950.3 h-3.8 M151.2,1850 h-3.8 M986.2,1850 h-3.8 M151.2,1749.8 h-3.8 M986.2,1749.8 h-3.8 M151.2,1649.4 h-3.8 M986.2,1649.4 h-3.8 M151.2,1549.1 h-3.8 M986.2,1549.1 h-3.8" fill="none" stroke="#000" stroke-width="3.5" stroke-linecap="butt"/>
<g clip-path="url(#cc)" fill="none" stroke-width="3.5" stroke-linejoin="round">
<path d="M163.3,1540 L163.3,1542 L163.3,1544 L163.3,1546 L163.3,1548 L163.3,1550 L163.3,1552 L163.3,1554 L163.3,1556 L163.3,1558 L163.3,1560 L163.3,1562 L163.3,1564 L163.3,1566 L163.3,1568 L163.3,1570 L163.3,1572 L163.3,1574 L163.3,1576 L163.3,1578 L163.3,1580 L163.3,1582 L163.3,1584 L163.3,1586 L163.3,1588 L163.3,1590 L163.3,1592 L163.3,1594 L163.3,1596 L163.3,1598 L163.3,1600 L163.3,1602 L163.3,1604 L163.3,1606 L163.3,1608 L163.3,1610 L163.3,1612 L163.3,1614 L163.3,1616 L163.3,1618 L163.3,1620 L163.3,1622 L163.3,1624 L163.3,1626 L163.3,1628 L163.3,1630 L163.3,1632 L163.3,1634 L163.3,1636 L163.3,1638 L163.3,1640 L163.3,1642 L163.3,1644 L163.3,1646 L163.3,1648 L163.3,1650 L163.3,1652 L163.3,1654 L163.3,1656 L163.3,1658 L163.3,1660 L163.3,1662 L163.3,1664 L163.3,1666 L163.3,1668 L163.3,1670 L163.3,1672 L163.3,1674 L163.3,1676 L163.3,1678 L163.3,1680 L163.3,1682 L163.3,1684 L163.3,1686 L163.3,1688 L163.3,1690 L163.3,1692 L163.3,1694 L163.3,1696 L163.3,1698 L163.3,1700 L163.3,1702 L163.3,1704 L163.3,1706 L163.3,1708 L163.3,1710 L163.3,1712 L163.3,1714 L163.3,1716 L163.3,1718 L163.3,1720 L163.3,1722 L163.3,1724 L163.3,1726 L163.3,1728 L163.3,1730 L163.3,1732 L163.3,1734 L163.3,1736 L163.3,1738 L163.3,1740 L163.3,1742 L163.3,1744 L163.3,1746 L163.3,1748 L163.3,1750 L163.3,1752 L163.3,1754 L163.3,1756 L163.3,1758 L163.3,1760 L163.3,1762 L163.3,1764 L163.3,1766 L163.3,1768 L163.3,1770 L163.3,1772 L163.3,1774 L163.3,1776 L163.3,1778 L163.3,1780 L163.3,1782 L163.3,1784 L163.3,1786 L163.3,1788 L163.3,1790 L163.3,1792 L163.3,1794 L163.3,1796 L163.3,1798 L163.3,1800 L163.4,1802 L163.4,1804 L163.4,1806 L163.4,1808 L163.4,1810 L163.4,1812 L163.4,1814 L163.4,1816 L163.4,1818 L163.4,1820 L163.4,1822 L163.4,1824 L163.4,1826 L163.4,1828 L163.4,1830 L163.4,1832 L163.4,1834 L163.4,1836 L163.4,1838 L163.4,1840 L163.4,1842 L163.4,1844 L163.4,1846 L163.4,1848 L163.4,1850 L163.4,1852 L163.4,1854 L163.4,1856 L163.4,1858 L163.4,1860 L163.4,1862 L163.4,1864 L163.4,1866 L163.4,1868 L163.4,1870 L163.4,1872 L163.4,1874 L163.4,1876 L163.4,1878 L163.4,1880 L163.4,1882 L163.4,1884 L163.4,1886 L163.4,1888 L163.4,1890 L163.4,1892 L163.4,1894 L163.4,1896 L163.4,1898 L163.4,1900 L163.4,1902 L163.5,1904 L163.5,1906 L163.6,1908 L163.6,1910 L163.7,1912 L163.7,1914 L163.8,1916 L163.8,1918 L163.9,1920 L163.9,1922 L163.9,1924 L164,1926 L164,1928 L164.1,1930 L164.1,1932 L164.2,1934 L164.2,1936 L164.3,1938 L164.4,1940 L164.5,1942 L164.6,1944 L164.7,1946 L164.8,1948 L164.9,1950 L165,1952 L165.1,1954 L165.2,1956 L165.3,1958 L165.4,1960 L165.5,1962 L165.6,1964 L165.7,1966 L165.9,1967.9 L166,1969.9 L166.1,1971.9 L166.2,1973.9 L166.3,1975.9 L166.5,1977.9 L166.6,1979.9 L166.7,1981.9 L166.8,1983.9 L166.9,1985.9 L167.1,1987.9 L167.2,1989.9 L167.3,1991.9 L167.4,1993.9 L167.6,1995.9 L167.7,1997.9 L167.9,1999.9 L168.1,2001.9 L168.3,2003.9 L168.5,2005.9 L168.7,2007.8 L168.9,2009.8 L169.1,2011.8 L169.2,2013.8 L169.4,2015.8 L169.6,2017.8 L169.8,2019.8 L170,2021.8 L170.2,2023.8 L170.4,2025.8 L170.6,2027.8 L170.8,2029.7 L171,2031.7 L171.2,2033.7 L171.5,2035.7 L171.7,2037.7 L171.9,2039.7 L172.1,2041.7 L172.3,2043.7 L172.5,2045.7 L172.7,2047.6 L172.9,2049.6 L173.1,2051.6 L173.4,2053.6 L173.7,2055.6 L174,2057.6 L174.3,2059.5 L174.7,2061.5 L175,2063.5 L175.4,2065.4 L175.8,2067.4 L176.1,2069.4 L176.5,2071.3 L176.8,2073.3 L177.2,2075.3 L177.6,2077.2 L178,2079.2 L178.5,2081.1 L179,2083.1 L179.5,2085 L180,2086.9 L180.6,2088.8 L181.1,2090.8 L181.7,2092.7 L182.2,2094.6 L182.8,2096.5 L183.3,2098.5 L183.8,2100.4 L184.4,2102.3 L184.9,2104.2 L185.5,2106.1 L186.1,2108 L186.8,2109.9 L187.5,2111.8 L188.4,2113.6 L189.3,2115.4 L190.2,2117.1 L191.1,2118.9 L192,2120.7 L192.9,2122.5 L193.8,2124.3 L194.7,2126.1 L195.6,2127.8 L196.5,2129.6 L197.6,2131.2 L198.8,2132.8 L200.2,2134.2 L201.6,2135.6 L203.2,2136.8 L204.8,2138 L206.5,2139 L208.2,2139.9 L210.1,2140.7 L211.9,2141.2 L213.9,2141.5 L215.8,2141.4 L217.7,2141.2 L219.6,2140.7 L221.5,2140 L223.2,2139.1 L224.9,2138.1 L226.6,2137 L228.2,2135.8 L229.7,2134.6 L231.3,2133.3 L232.7,2132 L234,2130.5 L235.2,2128.9 L236.2,2127.2 L237.1,2125.5 L238,2123.7 L238.9,2121.9 L239.8,2120.1 L240.6,2118.3 L241.5,2116.5 L242.4,2114.7 L243.3,2112.9 L244.2,2111.1 L245.1,2109.3 L246,2107.5 L246.9,2105.8 L247.8,2104 L248.8,2102.2 L249.8,2100.5 L250.8,2098.8 L251.9,2097.1 L252.9,2095.4 L254,2093.7 L255.1,2092 L256.1,2090.3 L257.1,2088.6 L258.2,2086.9 L259.2,2085.2 L260.3,2083.5 L261.4,2081.8 L262.6,2080.2 L263.9,2078.7 L265.2,2077.2 L266.6,2075.8 L268,2074.4 L269.4,2073 L270.8,2071.6 L272.3,2070.2 L273.7,2068.8 L275.2,2067.5 L276.8,2066.4 L278.5,2065.5 L280.4,2064.8 L282.2,2064.2 L284.2,2063.6 L286.1,2063.1 L288,2062.6 L289.9,2062.3 L291.9,2062.1 L293.9,2062.1 L295.9,2062.2 L297.9,2062.3 L299.8,2062.5 L301.8,2062.6 L303.8,2062.8 L305.8,2063.2 L307.7,2063.6 L309.5,2064.3 L311.4,2065 L313.2,2065.9 L314.9,2066.8 L316.7,2067.8 L318.5,2068.7 L320.3,2069.6 L322.1,2070.4 L323.9,2071.3 L325.7,2072.2 L327.5,2073 L329.3,2073.8 L331.2,2074.6 L333,2075.4 L334.8,2076.2 L336.7,2077 L338.5,2077.8 L340.3,2078.6 L342.2,2079.4 L344,2080.2 L345.8,2081 L347.6,2081.9 L349.4,2082.7 L351.2,2083.6 L353,2084.6 L354.7,2085.5 L356.5,2086.5 L358.2,2087.5 L359.9,2088.5 L361.7,2089.5 L363.4,2090.5 L365.2,2091.4 L367,2092.3 L368.8,2093 L370.7,2093.6 L372.6,2094.1 L374.6,2094.5 L376.5,2094.9 L378.5,2095.3 L380.5,2095.7 L382.4,2096.1 L384.4,2096.6 L386.3,2097 L388.3,2097.5 L390.2,2097.9 L392.2,2098.3 L394.1,2098.6 L396.1,2098.6 L398,2098.4 L399.9,2098 L401.8,2097.5 L403.7,2096.9 L405.6,2096.3 L407.5,2095.7 L409.4,2095.1 L411.3,2094.5 L413.2,2093.9 L415.1,2093.2 L417,2092.5 L418.9,2091.9 L420.8,2091.2 L422.7,2090.5 L424.6,2089.9 L426.4,2089.2 L428.3,2088.5 L430.2,2087.9 L432.1,2087.2 L434,2086.5 L435.9,2085.9 L437.8,2085.4 L439.7,2084.9 L441.7,2084.5 L443.7,2084.2 L445.7,2083.9 L447.6,2083.7 L449.6,2083.4 L451.6,2083.1 L453.6,2082.8 L455.5,2082.5 L457.5,2082.2 L459.5,2081.9 L461.5,2081.6 L463.4,2081.3 L465.4,2081.1 L467.4,2081.1 L469.4,2081.1 L471.4,2081.1 L473.4,2081.3 L475.4,2081.4 L477.4,2081.5 L479.4,2081.6 L481.4,2081.7 L483.4,2081.8 L485.4,2082 L487.3,2082.3 L489.3,2082.7 L491.2,2083.3 L493,2084 L494.9,2084.8 L496.7,2085.6 L498.5,2086.4 L500.3,2087.2 L502.2,2088 L504,2088.8 L505.8,2089.6 L507.6,2090.5 L509.4,2091.4 L511.2,2092.3 L512.9,2093.3 L514.6,2094.4 L516.3,2095.4 L518,2096.5 L519.7,2097.5 L521.4,2098.6 L523.1,2099.6 L524.8,2100.6 L526.5,2101.7 L528.3,2102.7 L530,2103.8 L531.7,2104.8 L533.4,2105.8 L535.1,2106.8 L536.9,2107.7 L538.7,2108.5 L540.6,2109.3 L542.4,2110.1 L544.3,2110.8 L546.1,2111.5 L548,2112.2 L549.9,2113 L551.7,2113.7 L553.6,2114.5 L555.4,2115.2 L557.3,2116 L559.1,2116.8 L561,2117.5 L562.9,2118.1 L564.8,2118.6 L566.7,2118.9 L568.7,2119.2 L570.7,2119.3 L572.7,2119.4 L574.7,2119.5 L576.7,2119.7 L578.7,2119.9 L580.7,2120 L582.6,2120.1 L584.6,2120.1 L586.5,2119.8 L588.4,2119.3 L590.3,2118.7 L592.1,2117.8 L593.9,2116.9 L595.6,2116 L597.4,2115 L599.2,2114.1 L600.9,2113.2 L602.7,2112.3 L604.5,2111.4 L606.2,2110.4 L607.9,2109.4 L609.6,2108.3 L611.2,2107.1 L612.9,2106 L614.5,2104.8 L616.1,2103.7 L617.8,2102.6 L619.5,2101.5 L621.2,2100.5 L622.9,2099.5 L624.7,2098.5 L626.4,2097.5 L628.1,2096.5 L629.8,2095.4 L631.6,2094.4 L633.3,2093.5 L635.1,2092.8 L637,2092.4 L638.9,2092.2 L640.8,2092.3 L642.8,2092.5 L644.7,2092.8 L646.7,2093.2 L648.7,2093.5 L650.6,2093.9 L652.5,2094.4 L654.4,2095.1 L656.3,2095.8 L658.1,2096.7 L659.9,2097.5 L661.6,2098.4 L663.4,2099.2 L665.3,2099.8 L667.1,2100 L668.9,2099.8 L670.7,2099.2 L672.4,2098.4 L674.1,2097.4 L675.8,2096.4 L677.5,2095.4 L679.2,2094.3 L680.9,2093.3 L682.5,2092.1 L684,2090.8 L685.4,2089.4 L686.7,2087.9 L688,2086.4 L689.3,2084.9 L690.6,2083.3 L691.9,2081.8 L693.2,2080.3 L694.4,2078.7 L695.5,2077.1 L696.5,2075.4 L697.3,2073.6 L698,2071.7 L698.7,2069.8 L699.2,2067.9 L699.8,2066 L700.4,2064.1 L701.1,2062.2 L701.7,2060.3 L702.3,2058.4 L703,2056.5 L703.6,2054.6 L704.2,2052.7 L704.9,2050.8 L705.5,2048.9 L706.1,2047 L706.6,2045.1 L707,2043.1 L707.4,2041.2 L707.8,2039.2 L708.1,2037.2 L708.3,2035.3 L708.6,2033.3 L708.9,2031.3 L709.3,2029.3 L709.6,2027.4 L709.9,2025.4 L710.2,2023.4 L710.5,2021.4 L710.8,2019.5 L711.1,2017.5 L711.4,2015.5 L711.7,2013.5 L712.1,2011.5 L712.4,2009.6 L712.7,2007.6 L713,2005.6 L713.3,2003.6 L713.6,2001.7 L713.9,1999.7 L714.2,1997.7 L714.5,1995.7 L714.8,1993.8 L715.1,1991.8 L715.4,1989.8 L715.7,1987.8 L716,1985.9 L716.3,1983.9 L716.6,1981.9 L716.9,1979.9 L717.2,1977.9 L717.5,1976 L717.8,1974 L718.1,1972 L718.4,1970 L718.7,1968.1 L719,1966.1 L719.3,1964.1 L719.6,1962.1 L719.9,1960.2 L720.2,1958.2 L720.5,1956.2 L720.8,1954.2 L721.1,1952.2 L721.4,1950.3 L721.7,1948.3 L722,1946.3 L722.4,1944.3 L722.8,1942.4 L723.2,1940.4 L723.7,1938.5 L724.3,1936.6 L724.8,1934.6 L725.3,1932.7 L725.8,1930.8 L726.3,1928.8 L726.9,1926.9 L727.4,1925 L727.9,1923.1 L728.4,1921.1 L728.9,1919.2 L729.4,1917.3 L729.9,1915.3 L730.4,1913.4 L731,1911.5 L731.5,1909.5 L732,1907.6 L732.5,1905.7 L733.1,1903.7 L733.6,1901.8 L734.2,1899.9 L734.8,1898 L735.4,1896.1 L736,1894.2 L736.6,1892.3 L737.2,1890.3 L737.7,1888.4 L738.3,1886.5 L738.9,1884.6 L739.5,1882.7 L740.1,1880.8 L740.7,1878.9 L741.3,1877 L741.9,1875.1 L742.5,1873.1 L743,1871.2 L743.5,1869.3 L743.9,1867.3 L744.3,1865.4 L744.7,1863.4 L745.1,1861.4 L745.4,1859.5 L745.8,1857.5 L746.2,1855.6 L746.6,1853.6 L746.9,1851.6 L747.3,1849.7 L747.7,1847.7 L748.1,1845.7 L748.5,1843.8 L748.9,1841.8 L749.2,1839.8 L749.6,1837.9 L750,1835.9 L750.4,1834 L750.8,1832 L751.2,1830 L751.6,1828.1 L752,1826.1 L752.4,1824.2 L752.8,1822.2 L753.2,1820.2 L753.6,1818.3 L754,1816.3 L754.4,1814.4 L754.8,1812.4 L755.2,1810.5 L755.6,1808.5 L756.1,1806.5 L756.5,1804.6 L756.9,1802.6 L757.3,1800.7 L757.7,1798.7 L758.2,1796.8 L758.6,1794.8 L759.1,1792.9 L759.5,1790.9 L760,1789 L760.4,1787 L760.9,1785.1 L761.3,1783.1 L761.8,1781.2 L762.2,1779.2 L762.6,1777.3 L763,1775.3 L763.5,1773.4 L763.9,1771.4 L764.4,1769.5 L765,1767.6 L765.8,1765.8 L766.6,1764 L767.6,1762.2 L768.6,1760.5 L769.6,1758.8 L770.6,1757.1 L771.7,1755.4 L772.7,1753.6 L773.7,1751.9 L774.6,1750.1 L775.3,1748.3 L776,1746.4 L776.5,1744.5 L776.9,1742.5 L777.2,1740.6 L777.6,1738.6 L778,1736.6 L778.3,1734.7 L778.7,1732.7 L779.1,1730.8 L779.5,1728.8 L779.9,1726.8 L780.3,1724.9 L780.7,1722.9 L781.1,1721 L781.5,1719 L781.9,1717 L782.3,1715.1 L782.7,1713.1 L783,1711.2 L783.3,1709.2 L783.6,1707.2 L783.8,1705.2 L784,1703.2 L784.2,1701.2 L784.4,1699.2 L784.6,1697.2 L784.8,1695.3 L785,1693.3 L785.2,1691.3 L785.4,1689.3 L785.6,1687.3 L785.8,1685.3 L786,1683.3 L786.2,1681.3 L786.4,1679.3 L786.6,1677.3 L786.8,1675.4 L787,1673.4 L787.2,1671.4 L787.4,1669.4 L787.6,1667.4 L787.8,1665.4 L788,1663.4 L788.2,1661.4 L788.4,1659.4 L788.6,1657.4 L788.7,1655.5 L788.9,1653.5 L789,1651.5 L789.2,1649.5 L789.3,1647.5 L789.5,1645.5 L789.6,1643.5 L789.8,1641.5 L789.9,1639.5 L790.1,1637.5 L790.2,1635.5 L790.4,1633.5 L790.5,1631.5 L790.7,1629.5 L790.8,1627.5 L791,1625.5 L791.1,1623.5 L791.3,1621.5 L791.4,1619.6 L791.6,1617.6 L791.7,1615.6 L791.9,1613.6 L792,1611.6 L792.2,1609.6 L792.3,1607.6 L792.4,1605.6 L792.6,1603.6 L792.7,1601.6 L792.8,1599.6 L792.9,1597.6 L793,1595.6 L793.1,1593.6 L793.2,1591.6 L793.3,1589.6 L793.4,1587.6 L793.5,1585.6 L793.7,1583.6 L793.8,1581.6 L793.9,1579.6 L794,1577.6 L794.1,1575.6 L794.2,1573.6 L794.3,1571.6 L794.4,1569.6 L794.5,1567.6 L794.6,1565.7 L794.7,1563.7 L794.9,1561.7 L795,1559.7 L795,1557.7 L795.1,1555.7 L795.2,1553.7 L795.2,1551.7 L795.3,1549.7 L795.3,1547.7 L795.4,1545.7 L795.4,1543.9 L795.4,1542.4 L795.5,1541.2 L795.5,1541.2" stroke="#1F3FFF" stroke-dasharray="6.5 10.5" stroke-linecap="round"/>
<path d="M164.2,1540 L164.2,1542 L164.2,1544 L164.2,1546 L164.2,1548 L164.2,1550 L164.2,1552 L164.2,1554 L164.2,1556 L164.2,1558 L164.2,1560 L164.2,1562 L164.2,1564 L164.2,1566 L164.2,1568 L164.2,1570 L164.2,1572 L164.2,1574 L164.2,1576 L164.2,1578 L164.2,1580 L164.2,1582 L164.2,1584 L164.2,1586 L164.2,1588 L164.2,1590 L164.2,1592 L164.2,1594 L164.2,1596 L164.2,1598 L164.2,1600 L164.2,1602 L164.2,1604 L164.2,1606 L164.2,1608 L164.2,1610 L164.2,1612 L164.2,1614 L164.2,1616 L164.2,1618 L164.2,1620 L164.2,1622 L164.2,1624 L164.2,1626 L164.2,1628 L164.2,1630 L164.2,1632 L164.2,1634 L164.2,1636 L164.2,1638 L164.2,1640 L164.2,1642 L164.2,1644 L164.2,1646 L164.2,1648 L164.2,1650 L164.2,1652 L164.2,1654 L164.2,1656 L164.2,1658 L164.2,1660 L164.2,1662 L164.2,1664 L164.2,1666 L164.2,1668 L164.2,1670 L164.2,1672 L164.2,1674 L164.2,1676 L164.2,1678 L164.2,1680 L164.2,1682 L164.2,1684 L164.2,1686 L164.2,1688 L164.2,1690 L164.2,1692 L164.2,1694 L164.2,1696 L164.2,1698 L164.2,1700 L164.2,1702 L164.2,1704 L164.2,1706 L164.2,1708 L164.2,1710 L164.2,1712 L164.2,1714 L164.2,1716 L164.2,1718 L164.2,1720 L164.2,1722 L164.2,1724 L164.2,1726 L164.2,1728 L164.2,1730 L164.2,1732 L164.2,1734 L164.2,1736 L164.2,1738 L164.2,1740 L164.2,1742 L164.2,1744 L164.2,1746 L164.2,1748 L164.2,1750 L164.2,1752 L164.2,1754 L164.2,1756 L164.2,1758 L164.2,1760 L164.2,1762 L164.2,1764 L164.2,1766 L164.2,1768 L164.2,1770 L164.2,1772 L164.2,1774 L164.2,1776 L164.2,1778 L164.2,1780 L164.2,1782 L164.2,1784 L164.2,1786 L164.2,1788 L164.2,1790 L164.2,1792 L164.2,1794 L164.3,1796 L164.3,1798 L164.3,1800 L164.3,1802 L164.3,1804 L164.3,1806 L164.3,1808 L164.3,1810 L164.3,1812 L164.3,1814 L164.3,1816 L164.3,1818 L164.3,1820 L164.3,1822 L164.3,1824 L164.3,1826 L164.3,1828 L164.3,1830 L164.3,1832 L164.3,1834 L164.3,1836 L164.3,1838 L164.3,1840 L164.3,1842 L164.3,1844 L164.3,1846 L164.3,1848 L164.3,1850 L164.3,1852 L164.3,1854 L164.3,1856 L164.3,1858 L164.3,1860 L164.3,1862 L164.3,1864 L164.3,1866 L164.3,1868 L164.3,1870 L164.3,1872 L164.3,1874 L164.3,1876 L164.3,1878 L164.3,1880 L164.3,1882 L164.2,1884 L164.3,1886 L164.3,1888 L164.4,1890 L164.5,1892 L164.6,1894 L164.8,1896 L165,1898 L165.3,1900 L165.6,1901.9 L166,1903.9 L166.3,1905.9 L166.7,1907.8 L167,1909.8 L167.3,1911.8 L167.5,1913.8 L167.8,1915.8 L168,1917.7 L168.3,1919.7 L168.5,1921.7 L168.8,1923.7 L169.1,1925.7 L169.4,1927.6 L169.8,1929.6 L170.1,1931.6 L170.4,1933.6 L170.8,1935.5 L171.1,1937.5 L171.4,1939.5 L171.7,1941.5 L172,1943.4 L172.3,1945.4 L172.5,1947.4 L172.8,1949.4 L173.1,1951.4 L173.3,1953.3 L173.6,1955.3 L173.9,1957.3 L174.2,1959.3 L174.6,1961.2 L174.9,1963.2 L175.3,1965.2 L175.6,1967.2 L175.9,1969.1 L176.3,1971.1 L176.7,1973.1 L177.1,1975 L177.5,1977 L177.9,1978.9 L178.4,1980.9 L178.8,1982.8 L179.3,1984.8 L179.7,1986.7 L180.2,1988.7 L180.7,1990.6 L181.2,1992.5 L181.8,1994.4 L182.3,1996.4 L182.9,1998.3 L183.5,2000.2 L184.1,2002.1 L184.7,2004 L185.4,2005.9 L186,2007.8 L186.8,2009.6 L187.5,2011.5 L188.3,2013.3 L189.1,2015.1 L189.9,2017 L190.8,2018.8 L191.6,2020.6 L192.5,2022.4 L193.4,2024.2 L194.3,2025.9 L195.3,2027.7 L196.2,2029.5 L197.2,2031.2 L198.1,2033 L199.1,2034.7 L200,2036.5 L201,2038.3 L201.9,2040 L202.8,2041.8 L203.8,2043.6 L204.8,2045.3 L205.8,2047 L207,2048.6 L208.2,2050.2 L209.5,2051.7 L210.9,2053.1 L212.4,2054.4 L213.9,2055.7 L215.6,2056.8 L217.3,2057.8 L219,2058.7 L220.9,2059.3 L222.8,2059.7 L224.7,2059.9 L226.6,2059.7 L228.5,2059.4 L230.4,2059 L232.3,2058.5 L234.1,2057.7 L235.7,2056.7 L237.2,2055.5 L238.6,2054.1 L240,2052.7 L241.3,2051.2 L242.6,2049.7 L243.9,2048.2 L245,2046.6 L246,2044.9 L246.9,2043.1 L247.7,2041.3 L248.4,2039.4 L249.2,2037.5 L249.9,2035.7 L250.6,2033.8 L251.4,2032 L252.1,2030.1 L252.9,2028.3 L253.6,2026.4 L254.4,2024.5 L255.1,2022.7 L255.8,2020.8 L256.6,2019 L257.3,2017.1 L258,2015.2 L258.7,2013.3 L259.4,2011.5 L260,2009.6 L260.7,2007.7 L261.4,2005.8 L262.1,2003.9 L262.7,2002.1 L263.4,2000.2 L264.1,1998.3 L264.7,1996.4 L265.4,1994.5 L266,1992.6 L266.7,1990.8 L267.6,1988.9 L268.5,1987.2 L269.5,1985.5 L270.6,1983.8 L271.8,1982.3 L273.1,1980.7 L274.3,1979.1 L275.5,1977.5 L276.7,1975.9 L277.9,1974.3 L279.1,1972.8 L280.4,1971.3 L281.8,1969.9 L283.4,1968.7 L285.1,1967.7 L286.8,1966.9 L288.7,1966.1 L290.5,1965.4 L292.4,1964.6 L294.2,1963.9 L296.1,1963.2 L298,1962.8 L299.9,1962.5 L301.8,1962.6 L303.8,1962.8 L305.7,1963.2 L307.6,1963.6 L309.6,1964 L311.5,1964.6 L313.4,1965.2 L315.2,1966 L316.9,1966.9 L318.7,1967.9 L320.4,1968.9 L322.1,1969.9 L323.8,1970.9 L325.6,1972 L327.3,1973 L328.9,1974.1 L330.5,1975.3 L332,1976.6 L333.5,1977.9 L334.9,1979.3 L336.3,1980.7 L337.8,1981.8 L339.4,1982.7 L341.1,1983.1 L343,1983.1 L344.8,1982.8 L346.7,1982.3 L348.6,1981.7 L350.5,1981.2 L352.5,1980.7 L354.4,1980.3 L356.4,1980 L358.4,1979.7 L360.4,1979.6 L362.4,1979.4 L364.4,1979.3 L366.4,1979.1 L368.3,1979 L370.3,1978.8 L372.3,1978.7 L374.3,1978.7 L376.3,1978.8 L378.3,1979.1 L380.2,1979.5 L382.1,1980 L384,1980.5 L385.9,1981.1 L387.9,1981.7 L389.8,1982.2 L391.7,1982.8 L393.6,1983.3 L395.5,1983.9 L397.5,1984.5 L399.4,1985.1 L401.2,1985.8 L403.1,1986.4 L405,1987.1 L406.9,1987.8 L408.8,1988.4 L410.7,1988.9 L412.6,1989.2 L414.6,1989.4 L416.5,1989.3 L418.5,1989.1 L420.5,1988.7 L422.4,1988.3 L424.4,1987.8 L426.3,1987.3 L428.2,1986.8 L430.1,1986.2 L432.1,1985.7 L434,1985.1 L435.9,1984.5 L437.8,1983.9 L439.7,1983.3 L441.6,1982.7 L443.5,1982.2 L445.5,1981.7 L447.4,1981.2 L449.4,1980.7 L451.3,1980.3 L453.3,1979.9 L455.2,1979.6 L457.2,1979.2 L459.2,1978.8 L461.1,1978.4 L463.1,1978 L465,1977.6 L467,1977.2 L469,1976.7 L470.9,1976.4 L472.9,1976.1 L474.9,1976 L476.8,1976 L478.8,1976.1 L480.8,1976.4 L482.8,1976.6 L484.8,1976.9 L486.8,1977.1 L488.7,1977.3 L490.7,1977.5 L492.7,1977.8 L494.6,1978.2 L496.5,1978.7 L498.3,1979.5 L500.1,1980.4 L501.8,1981.4 L503.4,1982.5 L505.1,1983.7 L506.7,1984.8 L508.4,1985.9 L510,1987 L511.7,1988.2 L513.3,1989.3 L515,1990.5 L516.6,1991.6 L518.2,1992.8 L519.8,1994 L521.4,1995.2 L523,1996.5 L524.6,1997.7 L526.1,1998.9 L527.7,2000.1 L529.3,2001.3 L530.9,2002.5 L532.5,2003.7 L534.1,2004.9 L535.8,2006 L537.5,2006.9 L539.3,2007.8 L541.1,2008.6 L543,2009.4 L544.8,2010.2 L546.7,2011 L548.5,2011.7 L550.4,2012.4 L552.2,2013.1 L554.2,2013.6 L556.1,2014 L558.1,2014.4 L560,2014.7 L562,2014.9 L564,2015.2 L566,2015.6 L567.9,2015.8 L569.9,2016 L571.9,2016 L573.8,2015.8 L575.7,2015.4 L577.6,2014.9 L579.5,2014.2 L581.4,2013.5 L583.2,2012.8 L585.1,2012.1 L587,2011.4 L588.9,2010.7 L590.7,2010 L592.6,2009.3 L594.4,2008.5 L596.3,2007.7 L598.1,2006.9 L599.9,2006.1 L601.8,2005.3 L603.6,2004.6 L605.5,2003.9 L607.4,2003.2 L609.3,2002.5 L611.1,2001.8 L613,2001.1 L614.9,2000.5 L616.7,1999.7 L618.5,1998.9 L620.2,1997.9 L621.7,1996.6 L623.1,1995.3 L624.4,1993.7 L625.6,1992.2 L626.7,1990.5 L627.9,1988.9 L629.1,1987.4 L630.4,1985.8 L631.6,1984.2 L632.8,1982.6 L634,1981 L635.2,1979.4 L636.5,1977.9 L637.8,1976.4 L639.2,1974.9 L640.6,1973.6 L642.2,1972.4 L643.8,1971.3 L645.5,1970.1 L647.1,1969 L648.7,1967.9 L650.3,1966.8 L652,1965.9 L653.6,1965.5 L655.1,1965.7 L656.5,1966.5 L657.8,1967.7 L659,1969.2 L660.2,1970.8 L661.4,1972.4 L662.6,1974 L663.8,1975.6 L664.9,1977.2 L665.8,1979 L666.7,1980.8 L667.6,1982.6 L668.4,1984.4 L669.2,1986.2 L670,1988.1 L670.8,1989.9 L671.5,1991.7 L672.3,1993.6 L673,1995.4 L673.9,1997.2 L674.9,1998.8 L676.2,2000.3 L677.6,2001.5 L679.3,2002.4 L681.1,2003.2 L682.9,2003.6 L684.8,2003.7 L686.5,2003.4 L688.2,2002.6 L689.7,2001.5 L691.2,2000.2 L692.6,1998.9 L694.1,1997.5 L695.5,1996.2 L696.9,1994.8 L698.1,1993.3 L699,1991.6 L699.7,1989.8 L700.3,1987.9 L700.7,1985.9 L701.1,1984 L701.5,1982 L701.9,1980.1 L702.3,1978.1 L702.7,1976.2 L703.2,1974.2 L703.6,1972.3 L704,1970.3 L704.3,1968.3 L704.6,1966.3 L704.9,1964.4 L705.2,1962.4 L705.4,1960.4 L705.7,1958.4 L705.9,1956.4 L706.2,1954.5 L706.5,1952.5 L706.7,1950.5 L707,1948.5 L707.2,1946.5 L707.5,1944.5 L707.8,1942.6 L708,1940.6 L708.3,1938.6 L708.6,1936.6 L708.8,1934.6 L709.1,1932.6 L709.3,1930.7 L709.6,1928.7 L709.8,1926.7 L710.1,1924.7 L710.3,1922.7 L710.5,1920.7 L710.8,1918.7 L711,1916.8 L711.2,1914.8 L711.5,1912.8 L711.7,1910.8 L711.9,1908.8 L712.2,1906.8 L712.4,1904.8 L712.6,1902.9 L712.9,1900.9 L713.1,1898.9 L713.3,1896.9 L713.5,1894.9 L713.8,1892.9 L714,1890.9 L714.2,1888.9 L714.5,1887 L714.8,1885 L715.1,1883 L715.5,1881.1 L715.9,1879.1 L716.3,1877.1 L716.6,1875.2 L717,1873.2 L717.4,1871.2 L717.8,1869.3 L718.1,1867.3 L718.5,1865.3 L718.9,1863.4 L719.2,1861.4 L719.6,1859.4 L720,1857.5 L720.4,1855.5 L720.7,1853.5 L721.1,1851.6 L721.5,1849.6 L721.9,1847.7 L722.2,1845.7 L722.6,1843.7 L723,1841.8 L723.4,1839.8 L723.7,1837.8 L724.1,1835.9 L724.5,1833.9 L724.9,1831.9 L725.2,1830 L725.6,1828 L726,1826 L726.4,1824.1 L726.7,1822.1 L727.1,1820.1 L727.4,1818.2 L727.8,1816.2 L728.1,1814.2 L728.4,1812.3 L728.8,1810.3 L729.1,1808.3 L729.4,1806.3 L729.8,1804.4 L730.1,1802.4 L730.4,1800.4 L730.7,1798.4 L731,1796.5 L731.2,1794.5 L731.5,1792.5 L731.7,1790.5 L732,1788.5 L732.2,1786.5 L732.5,1784.6 L732.7,1782.6 L733,1780.6 L733.3,1778.6 L733.5,1776.6 L733.8,1774.6 L734,1772.7 L734.3,1770.7 L734.5,1768.7 L734.8,1766.7 L735,1764.7 L735.3,1762.7 L735.5,1760.8 L735.7,1758.8 L736,1756.8 L736.2,1754.8 L736.4,1752.8 L736.7,1750.8 L736.9,1748.8 L737.1,1746.8 L737.4,1744.9 L737.6,1742.9 L737.8,1740.9 L738,1738.9 L738.3,1736.9 L738.5,1734.9 L738.7,1732.9 L738.9,1730.9 L739.1,1729 L739.3,1727 L739.5,1725 L739.7,1723 L739.9,1721 L740.1,1719 L740.3,1717 L740.5,1715 L740.7,1713 L740.9,1711 L741.1,1709.1 L741.3,1707.1 L741.5,1705.1 L741.7,1703.1 L741.9,1701.1 L742.1,1699.1 L742.3,1697.1 L742.5,1695.1 L742.7,1693.1 L742.9,1691.1 L743.1,1689.2 L743.3,1687.2 L743.5,1685.2 L743.7,1683.2 L743.9,1681.2 L744.1,1679.2 L744.3,1677.2 L744.5,1675.2 L744.7,1673.2 L744.9,1671.2 L745.1,1669.3 L745.3,1667.3 L745.5,1665.3 L745.7,1663.3 L745.9,1661.3 L746.1,1659.3 L746.4,1657.3 L746.6,1655.3 L746.8,1653.3 L747,1651.4 L747.2,1649.4 L747.4,1647.4 L747.7,1645.4 L747.9,1643.4 L748.1,1641.4 L748.3,1639.4 L748.5,1637.4 L748.7,1635.4 L748.9,1633.5 L749.1,1631.5 L749.4,1629.5 L749.6,1627.5 L749.8,1625.5 L750,1623.5 L750.2,1621.5 L750.4,1619.5 L750.6,1617.6 L750.9,1615.6 L751.1,1613.6 L751.3,1611.6 L751.5,1609.6 L751.7,1607.6 L751.9,1605.6 L752.1,1603.6 L752.3,1601.6 L752.5,1599.7 L752.7,1597.7 L752.9,1595.7 L753.1,1593.7 L753.3,1591.7 L753.4,1589.7 L753.6,1587.7 L753.8,1585.7 L754,1583.7 L754.2,1581.7 L754.4,1579.7 L754.6,1577.7 L754.8,1575.8 L755,1573.8 L755.1,1571.8 L755.3,1569.8 L755.5,1567.8 L755.7,1565.8 L755.9,1563.8 L756.1,1561.8 L756.3,1559.8 L756.5,1557.8 L756.7,1555.8 L756.8,1553.9 L757,1551.9 L757.2,1549.9 L757.4,1547.9 L757.5,1545.9 L757.6,1544.1 L757.7,1542.5 L757.8,1541.3 L757.8,1541.3" stroke="#FFC000" stroke-dasharray="6.5 10.5" stroke-linecap="round"/>
<path d="M164.5,1540 L164.5,1542 L164.5,1544 L164.5,1546 L164.5,1548 L164.5,1550 L164.5,1552 L164.5,1554 L164.5,1556 L164.5,1558 L164.5,1560 L164.5,1562 L164.5,1564 L164.5,1566 L164.5,1568 L164.5,1570 L164.5,1572 L164.5,1574 L164.5,1576 L164.5,1578 L164.5,1580 L164.5,1582 L164.5,1584 L164.5,1586 L164.5,1588 L164.5,1590 L164.5,1592 L164.5,1594 L164.5,1596 L164.5,1598 L164.5,1600 L164.5,1602 L164.5,1604 L164.5,1606 L164.5,1608 L164.5,1610 L164.5,1612 L164.5,1614 L164.5,1616 L164.5,1618 L164.5,1620 L164.5,1622 L164.5,1624 L164.5,1626 L164.5,1628 L164.5,1630 L164.5,1632 L164.5,1634 L164.5,1636 L164.5,1638 L164.5,1640 L164.5,1642 L164.5,1644 L164.5,1646 L164.5,1648 L164.5,1650 L164.5,1652 L164.5,1654 L164.5,1656 L164.5,1658 L164.5,1660 L164.5,1662 L164.5,1664 L164.5,1666 L164.5,1668 L164.5,1670 L164.5,1672 L164.5,1674 L164.5,1676 L164.5,1678 L164.5,1680 L164.5,1682 L164.5,1684 L164.5,1686 L164.5,1688 L164.5,1690 L164.5,1692 L164.5,1694 L164.5,1696 L164.5,1698 L164.5,1700 L164.5,1702 L164.5,1704 L164.5,1706 L164.5,1708 L164.5,1710 L164.5,1712 L164.5,1714 L164.5,1716 L164.5,1718 L164.5,1720 L164.5,1722 L164.5,1724 L164.5,1726 L164.5,1728 L164.5,1730 L164.5,1732 L164.5,1734 L164.5,1736 L164.5,1738 L164.5,1740 L164.5,1742 L164.5,1744 L164.5,1746 L164.5,1748 L164.5,1750 L164.6,1752 L164.6,1754 L164.6,1756 L164.6,1758 L164.6,1760 L164.6,1762 L164.6,1764 L164.6,1766 L164.6,1768 L164.6,1770 L164.6,1772 L164.6,1774 L164.6,1776 L164.6,1778 L164.6,1780 L164.6,1782 L164.6,1784 L164.6,1786 L164.6,1788 L164.6,1790 L164.6,1792 L164.6,1794 L164.6,1796 L164.5,1798 L164.5,1800 L164.6,1802 L164.7,1804 L164.8,1806 L165,1808 L165.3,1810 L165.8,1811.9 L166.7,1813.7 L167.7,1815.4 L168.9,1817 L169.7,1818.8 L170.3,1820.7 L170.7,1822.7 L171.2,1824.6 L171.6,1826.6 L171.9,1828.6 L172.3,1830.5 L172.6,1832.5 L172.9,1834.5 L173.1,1836.5 L173.4,1838.4 L173.7,1840.4 L174.1,1842.4 L174.4,1844.4 L174.8,1846.3 L175.2,1848.3 L175.5,1850.2 L175.9,1852.2 L176.3,1854.2 L176.7,1856.1 L177,1858.1 L177.4,1860.1 L177.8,1862 L178.3,1864 L178.7,1865.9 L179.2,1867.9 L179.6,1869.8 L180.1,1871.8 L180.5,1873.7 L181,1875.7 L181.4,1877.6 L181.9,1879.6 L182.3,1881.5 L182.8,1883.4 L183.3,1885.4 L183.8,1887.3 L184.4,1889.2 L185,1891.1 L185.6,1893.1 L186.2,1895 L186.8,1896.9 L187.3,1898.8 L187.9,1900.7 L188.5,1902.6 L189.1,1904.5 L189.7,1906.4 L190.3,1908.3 L191,1910.2 L191.7,1912.1 L192.4,1913.9 L193.2,1915.8 L193.9,1917.7 L194.7,1919.5 L195.4,1921.4 L196.1,1923.2 L196.8,1925.1 L197.6,1927 L198.3,1928.8 L199.1,1930.7 L200,1932.4 L200.9,1934.2 L201.9,1935.9 L203,1937.6 L204,1939.3 L205.1,1941 L206.2,1942.7 L207.2,1944.4 L208.3,1946.1 L209.4,1947.7 L210.7,1949.3 L212,1950.7 L213.4,1952.1 L214.9,1953.4 L216.4,1954.7 L218,1956 L219.5,1957.2 L221.2,1958.2 L223,1959.2 L224.8,1959.9 L226.6,1960.6 L228.6,1961.1 L230.5,1961.4 L232.4,1961.5 L234.4,1961.4 L236.2,1960.9 L238,1960.2 L239.8,1959.3 L241.4,1958.1 L242.9,1956.8 L244.2,1955.4 L245.4,1953.8 L246.5,1952.2 L247.5,1950.4 L248.3,1948.7 L249.2,1946.8 L250,1945 L250.8,1943.2 L251.6,1941.4 L252.5,1939.6 L253.3,1937.7 L254.2,1935.9 L255,1934.1 L255.8,1932.3 L256.7,1930.5 L257.5,1928.7 L258.4,1926.9 L259.2,1925 L260,1923.2 L260.9,1921.4 L261.7,1919.6 L262.5,1917.8 L263.4,1916 L264.2,1914.1 L265,1912.3 L265.9,1910.5 L266.7,1908.7 L267.6,1906.9 L268.5,1905.1 L269.5,1903.4 L270.6,1901.7 L271.6,1900 L272.7,1898.3 L273.8,1896.6 L274.8,1894.9 L275.9,1893.2 L276.9,1891.5 L278,1889.8 L279,1888.1 L280.1,1886.5 L281.3,1884.9 L282.6,1883.4 L284,1882 L285.5,1880.7 L287.1,1879.5 L288.7,1878.4 L290.3,1877.2 L291.9,1876 L293.6,1874.9 L295.3,1873.9 L297,1873 L298.9,1872.3 L300.8,1871.7 L302.7,1871.3 L304.7,1871 L306.6,1870.9 L308.6,1871.1 L310.5,1871.4 L312.4,1872 L314.3,1872.6 L316.1,1873.3 L318,1874 L319.9,1874.6 L321.8,1875.3 L323.7,1876 L325.5,1876.7 L327.4,1877.5 L329.2,1878.3 L331,1879.1 L332.8,1880 L334.6,1880.8 L336.4,1881.5 L338.2,1882 L340.1,1882.1 L341.9,1881.8 L343.7,1881.2 L345.4,1880.3 L347.2,1879.3 L348.9,1878.3 L350.6,1877.4 L352.4,1876.4 L354.2,1875.4 L355.9,1874.5 L357.7,1873.6 L359.4,1872.6 L361.2,1871.6 L362.9,1870.7 L364.7,1869.7 L366.5,1868.9 L368.3,1868.1 L370.2,1867.5 L372.1,1867 L374.1,1866.8 L376,1866.7 L377.9,1867 L379.8,1867.5 L381.6,1868.2 L383.2,1869.2 L384.7,1870.4 L386.1,1871.9 L387.2,1873.5 L388.3,1875.1 L389.2,1876.9 L390.2,1878.6 L391.2,1880.4 L392.2,1882.1 L393.2,1883.8 L394.2,1885.5 L395.3,1887.2 L396.4,1888.9 L397.5,1890.6 L398.6,1892.2 L399.8,1893.8 L401,1895.4 L402.2,1896.9 L403.5,1898.2 L405.1,1899.2 L406.8,1899.8 L408.7,1900 L410.6,1900.1 L412.6,1900.1 L414.6,1900.1 L416.5,1899.9 L418.5,1899.6 L420.4,1899.1 L422.2,1898.5 L424.1,1897.7 L425.9,1896.9 L427.7,1896.1 L429.6,1895.2 L431.4,1894.4 L433.2,1893.6 L435,1892.8 L436.9,1892.1 L438.8,1891.4 L440.7,1890.8 L442.6,1890.2 L444.5,1889.6 L446.4,1889 L448.3,1888.5 L450.2,1887.9 L452.2,1887.3 L454.1,1886.7 L456,1886.2 L457.9,1885.6 L459.8,1885 L461.7,1884.4 L463.6,1883.9 L465.6,1883.4 L467.5,1883.1 L469.5,1882.8 L471.5,1882.5 L473.5,1882.3 L475.5,1882.2 L477.5,1882 L479.5,1881.8 L481.5,1881.6 L483.4,1881.4 L485.4,1881.1 L487.4,1880.9 L489.4,1880.7 L491.4,1880.6 L493.4,1880.5 L495.4,1880.6 L497.3,1880.9 L499.3,1881.2 L501.2,1881.6 L503.2,1882 L505.2,1882.4 L507.1,1882.8 L509.1,1883.2 L511,1883.6 L513,1884 L515,1884.4 L516.9,1884.7 L518.9,1885.2 L520.8,1885.7 L522.7,1886.3 L524.5,1887 L526.4,1887.8 L528.2,1888.7 L529.9,1889.6 L531.7,1890.5 L533.5,1891.4 L535.3,1892.3 L537.1,1893.2 L538.8,1894.1 L540.6,1895 L542.5,1895.8 L544.3,1896.4 L546.2,1896.8 L548.2,1897 L550.2,1897.1 L552.1,1897.1 L554.1,1897.1 L556.1,1897 L558.1,1896.7 L560,1896.3 L561.9,1895.8 L563.7,1895 L565.6,1894.3 L567.4,1893.4 L569.2,1892.6 L571,1891.8 L572.9,1891.2 L574.8,1890.7 L576.7,1890.5 L578.6,1890.5 L580.6,1890.8 L582.5,1891.1 L584.5,1891.5 L586.5,1891.9 L588.4,1892.2 L590.4,1892.7 L592.3,1893.1 L594.2,1893.7 L596.1,1894.3 L598,1895 L599.8,1895.8 L601.7,1896.4 L603.6,1897 L605.5,1897.4 L607.5,1897.6 L609.5,1897.7 L611.5,1897.8 L613.5,1897.8 L615.5,1897.9 L617.4,1897.9 L619.4,1897.9 L621.3,1897.6 L623.1,1897.1 L624.8,1896.2 L626.4,1895.1 L627.9,1893.8 L629.3,1892.4 L630.7,1891 L632.1,1889.6 L633.6,1888.2 L635,1886.8 L636.5,1885.4 L637.8,1884 L639.1,1882.5 L640.3,1880.9 L641.5,1879.3 L642.5,1877.6 L643.6,1875.9 L644.6,1874.2 L645.7,1872.5 L646.8,1870.8 L647.8,1869.1 L648.8,1867.4 L649.9,1865.7 L651.1,1864.1 L652.4,1862.7 L653.9,1861.3 L655.4,1860.2 L657.1,1859.2 L658.8,1858.6 L660.6,1858.4 L662.3,1858.7 L663.8,1859.5 L665.2,1860.7 L666.5,1862.1 L667.6,1863.8 L668.5,1865.5 L669.3,1867.3 L670,1869.2 L670.6,1871.1 L671.2,1873 L671.8,1874.9 L672.4,1876.8 L673.1,1878.7 L673.7,1880.6 L674.4,1882.5 L675,1884.4 L675.7,1886.3 L676.3,1888.2 L677,1890.1 L677.6,1892 L678.2,1893.9 L678.8,1895.8 L679.5,1897.7 L680.1,1899.6 L680.7,1901.5 L681.3,1903.4 L681.9,1905.2 L682.7,1907 L683.7,1908.6 L685,1910 L686.4,1911.3 L688.1,1912.4 L689.8,1913.4 L691.4,1914.4 L693.1,1915.2 L694.9,1915.8 L696.6,1915.9 L698.2,1915.5 L699.8,1914.7 L701.4,1913.6 L703,1912.5 L704.4,1911.2 L705.7,1909.8 L706.7,1908.2 L707.5,1906.4 L708.1,1904.6 L708.6,1902.6 L709.1,1900.7 L709.5,1898.7 L710,1896.8 L710.4,1894.8 L710.9,1892.9 L711.4,1891 L711.9,1889 L712.4,1887.1 L712.9,1885.1 L713.4,1883.2 L713.8,1881.3 L714.3,1879.3 L714.7,1877.4 L715.2,1875.4 L715.6,1873.5 L716,1871.5 L716.4,1869.5 L716.8,1867.6 L717.2,1865.6 L717.6,1863.7 L718,1861.7 L718.4,1859.7 L718.8,1857.8 L719.2,1855.8 L719.5,1853.9 L719.8,1851.9 L720.1,1849.9 L720.3,1847.9 L720.5,1845.9 L720.7,1843.9 L720.9,1841.9 L721.1,1840 L721.3,1838 L721.5,1836 L721.7,1834 L721.9,1832 L722.1,1830 L722.3,1828 L722.5,1826 L722.8,1824 L723.1,1822.1 L723.4,1820.1 L723.7,1818.1 L724,1816.1 L724.3,1814.2 L724.6,1812.2 L724.9,1810.2 L725.2,1808.2 L725.5,1806.2 L725.8,1804.3 L726.1,1802.3 L726.3,1800.3 L726.5,1798.3 L726.8,1796.3 L727,1794.3 L727.1,1792.4 L727.3,1790.4 L727.5,1788.4 L727.7,1786.4 L727.9,1784.4 L728.1,1782.4 L728.3,1780.4 L728.5,1778.4 L728.7,1776.4 L728.9,1774.4 L729,1772.4 L729.2,1770.5 L729.4,1768.5 L729.6,1766.5 L729.8,1764.5 L730,1762.5 L730.2,1760.5 L730.4,1758.5 L730.6,1756.5 L730.8,1754.5 L731,1752.5 L731.1,1750.5 L731.3,1748.6 L731.5,1746.6 L731.7,1744.6 L731.9,1742.6 L732.1,1740.6 L732.3,1738.6 L732.5,1736.6 L732.7,1734.6 L732.9,1732.6 L733.1,1730.6 L733.3,1728.6 L733.5,1726.7 L733.7,1724.7 L733.9,1722.7 L734.1,1720.7 L734.3,1718.7 L734.5,1716.7 L734.7,1714.7 L734.9,1712.7 L735.1,1710.7 L735.3,1708.7 L735.5,1706.8 L735.7,1704.8 L735.9,1702.8 L736.1,1700.8 L736.3,1698.8 L736.5,1696.8 L736.7,1694.8 L736.9,1692.8 L737,1690.8 L737.2,1688.8 L737.4,1686.9 L737.6,1684.9 L737.8,1682.9 L738,1680.9 L738.2,1678.9 L738.4,1676.9 L738.6,1674.9 L738.8,1672.9 L739,1670.9 L739.3,1668.9 L739.5,1667 L739.7,1665 L740,1663 L740.2,1661 L740.4,1659 L740.7,1657 L740.9,1655 L741.2,1653.1 L741.4,1651.1 L741.6,1649.1 L741.9,1647.1 L742.1,1645.1 L742.3,1643.1 L742.6,1641.1 L742.8,1639.2 L743.1,1637.2 L743.3,1635.2 L743.5,1633.2 L743.8,1631.2 L744,1629.2 L744.2,1627.2 L744.5,1625.3 L744.7,1623.3 L745,1621.3 L745.2,1619.3 L745.4,1617.3 L745.7,1615.3 L745.9,1613.3 L746.1,1611.4 L746.4,1609.4 L746.6,1607.4 L746.9,1605.4 L747.1,1603.4 L747.3,1601.4 L747.5,1599.4 L747.8,1597.5 L748,1595.5 L748.2,1593.5 L748.5,1591.5 L748.7,1589.5 L748.9,1587.5 L749.2,1585.5 L749.4,1583.5 L749.6,1581.6 L749.9,1579.6 L750.1,1577.6 L750.3,1575.6 L750.5,1573.6 L750.8,1571.6 L751,1569.6 L751.2,1567.7 L751.5,1565.7 L751.7,1563.7 L751.9,1561.7 L752.2,1559.7 L752.4,1557.7 L752.6,1555.7 L752.9,1553.7 L753.1,1551.8 L753.3,1549.8 L753.5,1547.8 L753.6,1545.9 L753.7,1544 L753.9,1542.5 L753.9,1541.3 L753.9,1541.3" stroke="#FF0000" stroke-dasharray="6.5 10.5" stroke-linecap="round"/>
<path d="M162,1540 L162,1542 L162,1544 L162,1546 L162,1548 L162,1550 L162,1552 L162,1554 L162,1556 L162,1558 L162,1560 L162,1562 L162,1564 L162,1566 L162,1568 L162,1570 L162,1572 L162,1574 L162,1576 L162,1578 L162,1580 L162,1582 L162,1584 L162,1586 L162,1588 L162,1590 L162,1592 L162,1594 L162,1596 L162,1598 L162,1600 L162,1602 L162,1604 L162,1606 L162,1608 L162,1610 L162,1612 L162,1614 L162,1616 L162,1618 L162,1620 L162,1622 L162,1624 L162,1626 L162,1628 L162,1630 L162,1632 L162,1634 L162,1636 L162,1638 L162,1640 L162,1642 L162,1644 L162,1646 L162,1648 L162,1650 L162,1652 L162,1654 L162,1656 L162,1658 L162,1660 L162,1662 L162,1664 L162,1666 L162,1668 L162,1670 L162,1672 L162,1674 L162,1676 L162,1678 L162,1680 L162,1682 L162,1684 L162,1686 L162,1688 L162,1690 L162,1692 L162,1694 L162,1696 L162,1698 L162,1700 L162,1702 L162,1704 L162,1706 L162,1708 L162,1710 L162,1712 L162,1714 L162,1716 L162,1718 L162,1720 L162,1722 L162,1724 L162,1726 L162,1728 L162,1730 L162,1732 L162,1734 L162,1736 L162,1738 L162,1740 L162,1742 L162,1744 L162.1,1746 L162.1,1748 L162.1,1750 L162.1,1752 L162.1,1754 L162.1,1756 L162.1,1758 L162.1,1760 L162.1,1762 L162.1,1764 L162.1,1766 L162.1,1768 L162.1,1770 L162.1,1772 L162.1,1774 L162.1,1776 L162.1,1778 L162.1,1780 L162.1,1782 L162.1,1784 L162.1,1786 L162.1,1788 L162.1,1790 L162.1,1792 L162.1,1794 L162.1,1796 L162.1,1798 L162.1,1800 L162.1,1802 L162.1,1804 L162.1,1806 L162.1,1808 L162.1,1810 L162.1,1812 L162.1,1814 L162.1,1816 L162.1,1818 L162.1,1820 L162.1,1822 L162.1,1824 L162.1,1826 L162.1,1828 L162.1,1830 L162.1,1832 L162.1,1834 L162.2,1836 L162.2,1838 L162.2,1840 L162.2,1842 L162.2,1844 L162.2,1846 L162.2,1848 L162.2,1850 L162.2,1852 L162.2,1854 L162.2,1856 L162.2,1858 L162.2,1860 L162.2,1862 L162.2,1864 L162.2,1866 L162.2,1868 L162.2,1870 L162.2,1872 L162.2,1874 L162.2,1876 L162.2,1878 L162.2,1880 L162.3,1882 L162.5,1884 L162.8,1886 L163,1888 L163.1,1890 L163.4,1891.9 L163.7,1893.9 L164,1895.9 L164.4,1897.8 L164.8,1899.8 L165.1,1901.8 L165.2,1903.8 L165.3,1905.8 L165.4,1907.8 L165.4,1909.8 L165.5,1911.8 L165.6,1913.8 L165.7,1915.8 L165.7,1917.8 L165.8,1919.8 L165.9,1921.8 L166,1923.8 L166.1,1925.8 L166.1,1927.8 L166.2,1929.8 L166.3,1931.8 L166.4,1933.8 L166.5,1935.8 L166.6,1937.8 L166.7,1939.8 L166.8,1941.7 L166.9,1943.7 L167,1945.7 L167.1,1947.7 L167.2,1949.7 L167.3,1951.7 L167.4,1953.7 L167.5,1955.7 L167.6,1957.7 L167.7,1959.7 L167.8,1961.7 L167.9,1963.7 L167.9,1965.7 L168,1967.7 L168.1,1969.7 L168.2,1971.7 L168.3,1973.7 L168.4,1975.7 L168.5,1977.7 L168.5,1979.7 L168.6,1981.7 L168.7,1983.7 L168.8,1985.7 L168.9,1987.7 L169,1989.7 L169,1991.7 L169.1,1993.7 L169.2,1995.7 L169.3,1997.7 L169.3,1999.7 L169.4,2001.7 L169.5,2003.7 L169.6,2005.7 L169.6,2007.7 L169.7,2009.7 L169.7,2011.7 L169.8,2013.7 L169.9,2015.7 L170.1,2017.7 L170.2,2019.7 L170.4,2021.7 L170.6,2023.7 L170.7,2025.6 L170.9,2027.6 L171,2029.6 L171.2,2031.6 L171.3,2033.6 L171.5,2035.6 L171.7,2037.6 L171.8,2039.6 L172,2041.6 L172.1,2043.6 L172.3,2045.6 L172.4,2047.6 L172.6,2049.6 L172.7,2051.6 L172.9,2053.6 L173.1,2055.5 L173.4,2057.5 L173.7,2059.5 L174,2061.5 L174.3,2063.5 L174.6,2065.4 L174.9,2067.4 L175.2,2069.4 L175.5,2071.4 L175.8,2073.3 L176.1,2075.3 L176.4,2077.3 L176.7,2079.3 L177,2081.3 L177.3,2083.2 L177.6,2085.2 L177.9,2087.2 L178.3,2089.1 L178.8,2091.1 L179.3,2093 L179.8,2094.9 L180.4,2096.9 L180.9,2098.8 L181.5,2100.7 L182,2102.6 L182.5,2104.6 L183,2106.5 L183.6,2108.4 L184.1,2110.4 L184.6,2112.3 L185.1,2114.2 L185.7,2116.1 L186.3,2118 L187,2119.9 L187.8,2121.7 L188.6,2123.5 L189.5,2125.3 L190.5,2127.1 L191.4,2128.9 L192.3,2130.7 L193.2,2132.4 L194.1,2134.2 L194.9,2136 L195.9,2137.8 L196.9,2139.5 L198,2141.1 L199.4,2142.5 L200.8,2143.8 L202.4,2145 L204,2146.2 L205.6,2147.4 L207.1,2148.6 L208.8,2149.8 L210.4,2150.8 L212.2,2151.7 L214,2152.5 L215.9,2153 L217.9,2153.4 L219.8,2153.7 L221.8,2153.8 L223.8,2153.7 L225.8,2153.5 L227.7,2153.2 L229.6,2152.7 L231.5,2152 L233.3,2151.2 L234.9,2150.2 L236.5,2149 L238,2147.6 L239.3,2146.2 L240.7,2144.7 L242.1,2143.3 L243.4,2141.8 L244.8,2140.4 L246.2,2138.9 L247.5,2137.4 L248.7,2135.8 L249.8,2134.2 L250.8,2132.5 L251.8,2130.7 L252.7,2129 L253.6,2127.2 L254.6,2125.4 L255.5,2123.7 L256.5,2121.9 L257.5,2120.2 L258.4,2118.4 L259.4,2116.7 L260.3,2114.9 L261.3,2113.2 L262.3,2111.4 L263.3,2109.7 L264.4,2108 L265.4,2106.3 L266.5,2104.6 L267.6,2102.9 L268.6,2101.2 L269.7,2099.5 L270.7,2097.8 L271.8,2096.1 L272.8,2094.4 L273.9,2092.7 L275,2091.1 L276.1,2089.4 L277.4,2087.9 L278.7,2086.4 L280.1,2084.9 L281.5,2083.5 L282.9,2082.1 L284.3,2080.7 L285.7,2079.3 L287.1,2077.9 L288.6,2076.5 L290.1,2075.3 L291.8,2074.3 L293.6,2073.5 L295.4,2072.7 L297.3,2072.1 L299.2,2071.5 L301.1,2070.8 L303,2070.2 L304.9,2069.7 L306.8,2069.4 L308.7,2069.4 L310.7,2069.6 L312.6,2069.9 L314.5,2070.4 L316.4,2070.9 L318.4,2071.4 L320.3,2071.9 L322.2,2072.5 L324.1,2073.1 L326,2073.8 L327.8,2074.7 L329.6,2075.5 L331.4,2076.5 L333.1,2077.4 L334.9,2078.3 L336.7,2079.2 L338.5,2080.1 L340.3,2081 L342.1,2081.8 L343.9,2082.7 L345.7,2083.5 L347.5,2084.3 L349.4,2085.1 L351.2,2085.9 L353,2086.8 L354.8,2087.6 L356.7,2088.4 L358.5,2089.2 L360.3,2090.1 L362.1,2090.9 L363.9,2091.7 L365.8,2092.5 L367.6,2093.2 L369.5,2093.8 L371.4,2094.4 L373.4,2094.9 L375.3,2095.4 L377.3,2095.9 L379.2,2096.3 L381.1,2096.8 L383.1,2097.3 L385,2097.8 L387,2098.3 L388.9,2098.8 L390.8,2099.3 L392.8,2099.8 L394.7,2100.2 L396.7,2100.6 L398.7,2100.9 L400.6,2101.1 L402.6,2101.3 L404.6,2101.5 L406.6,2101.7 L408.6,2101.9 L410.6,2102.1 L412.6,2102.3 L414.6,2102.5 L416.6,2102.7 L418.5,2102.9 L420.5,2103.1 L422.5,2103.2 L424.5,2103.2 L426.5,2103 L428.5,2102.8 L430.5,2102.5 L432.4,2102.2 L434.4,2101.9 L436.4,2101.5 L438.3,2101.2 L440.3,2100.9 L442.3,2100.6 L444.3,2100.3 L446.3,2100 L448.2,2099.7 L450.2,2099.4 L452.2,2099.1 L454.1,2098.7 L456.1,2098.3 L458.1,2097.9 L460,2097.5 L462,2097.2 L464,2096.8 L465.9,2096.4 L467.9,2096 L469.8,2095.6 L471.8,2095.2 L473.8,2094.8 L475.7,2094.4 L477.7,2094 L479.7,2093.7 L481.6,2093.4 L483.6,2093.2 L485.6,2092.9 L487.6,2092.8 L489.6,2092.6 L491.6,2092.4 L493.6,2092.2 L495.6,2092 L497.5,2091.8 L499.5,2091.5 L501.5,2091.3 L503.5,2091.1 L505.5,2091 L507.5,2091 L509.4,2091.1 L511.4,2091.4 L513.3,2091.8 L515.3,2092.3 L517.2,2092.8 L519.1,2093.4 L521.1,2093.9 L523,2094.3 L525,2094.8 L526.9,2095.3 L528.8,2095.7 L530.8,2096.2 L532.7,2096.7 L534.6,2097.3 L536.5,2098 L538.3,2098.8 L540.1,2099.7 L541.8,2100.6 L543.6,2101.6 L545.3,2102.6 L547.1,2103.6 L548.8,2104.5 L550.6,2105.5 L552.3,2106.5 L554.1,2107.4 L555.8,2108.4 L557.6,2109.4 L559.3,2110.4 L561.1,2111.3 L562.8,2112.3 L564.6,2113.2 L566.4,2114 L568.2,2114.9 L570,2115.7 L571.9,2116.5 L573.7,2117.3 L575.5,2118.2 L577.3,2119 L579.2,2119.8 L581,2120.6 L582.8,2121.5 L584.6,2122.3 L586.4,2123.1 L588.3,2124 L590.1,2124.7 L592,2125.4 L593.9,2126 L595.8,2126.4 L597.8,2126.8 L599.7,2127.2 L601.7,2127.5 L603.7,2127.8 L605.6,2128.2 L607.6,2128.5 L609.6,2128.9 L611.5,2129.3 L613.5,2129.7 L615.4,2130.1 L617.4,2130.4 L619.4,2130.5 L621.3,2130.4 L623.2,2130.1 L625.2,2129.6 L627.1,2129 L628.9,2128.3 L630.8,2127.6 L632.7,2127 L634.6,2126.3 L636.5,2125.7 L638.4,2125.1 L640.3,2124.5 L642.2,2123.9 L644.1,2123.3 L646,2122.7 L647.9,2122 L649.7,2121.3 L651.5,2120.5 L653.3,2119.5 L654.9,2118.4 L656.5,2117.2 L658,2115.9 L659.6,2114.6 L661.1,2113.3 L662.7,2112.1 L664.2,2110.8 L665.8,2109.6 L667.3,2108.3 L668.9,2107.1 L670.4,2105.8 L672,2104.6 L673.6,2103.3 L675.1,2102.1 L676.7,2100.8 L678.2,2099.6 L679.8,2098.3 L681.4,2097 L682.9,2095.8 L684.5,2094.5 L686,2093.3 L687.6,2092 L689.1,2090.7 L690.6,2089.4 L692.2,2088.1 L693.7,2086.9 L695.2,2085.7 L696.8,2084.7 L698.4,2084.1 L700.1,2084 L701.7,2084.5 L703.4,2085.3 L705,2086.3 L706.6,2087.4 L708.2,2088.6 L709.7,2089.9 L711,2091.4 L712.3,2092.9 L713.6,2094.5 L714.8,2096 L716,2097.6 L717.2,2099.2 L718.4,2100.8 L719.6,2102.4 L720.8,2104 L722,2105.6 L723.1,2107.2 L724.3,2108.8 L725.6,2110.1 L727,2111 L728.5,2111.3 L730.1,2111 L731.7,2110.3 L733.3,2109.2 L734.9,2108.1 L736.5,2106.9 L738.2,2105.8 L739.8,2104.6 L741.4,2103.4 L743,2102.2 L744.5,2100.9 L746,2099.6 L747.4,2098.2 L748.8,2096.8 L750.2,2095.3 L751.6,2093.9 L753,2092.5 L754.5,2091.1 L755.9,2089.7 L757.3,2088.3 L758.7,2086.9 L760,2085.4 L761.2,2083.8 L762.2,2082.1 L763,2080.3 L763.8,2078.5 L764.5,2076.6 L765.3,2074.8 L766,2072.9 L766.7,2071.1 L767.5,2069.2 L768.2,2067.4 L769,2065.5 L769.8,2063.7 L770.5,2061.8 L771.2,2059.9 L771.8,2058 L772.3,2056.1 L772.7,2054.2 L773.1,2052.2 L773.4,2050.2 L773.8,2048.3 L774.1,2046.3 L774.4,2044.3 L774.8,2042.3 L775.1,2040.4 L775.5,2038.4 L775.8,2036.4 L776.2,2034.5 L776.5,2032.5 L776.9,2030.5 L777.3,2028.6 L777.6,2026.6 L778,2024.6 L778.3,2022.6 L778.5,2020.7 L778.8,2018.7 L779,2016.7 L779.2,2014.7 L779.4,2012.7 L779.6,2010.7 L779.8,2008.7 L780,2006.7 L780.2,2004.8 L780.4,2002.8 L780.6,2000.8 L780.8,1998.8 L781,1996.8 L781.2,1994.8 L781.4,1992.8 L781.6,1990.8 L781.8,1988.8 L782,1986.8 L782.2,1984.9 L782.4,1982.9 L782.6,1980.9 L782.8,1978.9 L783,1976.9 L783.3,1974.9 L783.5,1972.9 L783.7,1970.9 L783.9,1969 L784.2,1967 L784.4,1965 L784.6,1963 L784.8,1961 L785,1959 L785.2,1957 L785.4,1955 L785.7,1953.1 L786.1,1951.2 L786.7,1949.5 L787.6,1948.2 L788.8,1947.5 L790.2,1947.4 L791.6,1947.9 L792.9,1948.6 L794.1,1949 L795.2,1948.9 L796.1,1948 L796.8,1946.6 L797.3,1944.8 L797.8,1942.9 L798.2,1941 L798.7,1939 L799.2,1937.1 L799.7,1935.2 L800.3,1933.2 L800.8,1931.3 L801.3,1929.4 L801.9,1927.4 L802.4,1925.5 L802.9,1923.6 L803.4,1921.7 L804,1919.7 L804.5,1917.8 L805.1,1915.9 L805.6,1914 L806.2,1912 L806.7,1910.1 L807.3,1908.2 L807.8,1906.3 L808.4,1904.3 L808.9,1902.4 L809.5,1900.5 L810,1898.6 L810.6,1896.6 L811.1,1894.7 L811.7,1892.8 L812.2,1890.9 L812.8,1889 L813.3,1887 L813.8,1885.1 L814.2,1883.1 L814.6,1881.2 L815,1879.2 L815.4,1877.3 L815.9,1875.3 L816.3,1873.4 L816.7,1871.4 L817.1,1869.4 L817.5,1867.5 L817.9,1865.5 L818.3,1863.6 L818.7,1861.6 L819.1,1859.6 L819.5,1857.7 L820,1855.7 L820.4,1853.8 L820.8,1851.8 L821.2,1849.9 L821.6,1847.9 L822,1846 L822.4,1844 L822.9,1842 L823.3,1840.1 L823.6,1838.1 L824,1836.1 L824.3,1834.2 L824.6,1832.2 L824.8,1830.2 L825.1,1828.2 L825.3,1826.2 L825.6,1824.3 L825.8,1822.3 L826.1,1820.3 L826.3,1818.3 L826.6,1816.3 L826.8,1814.3 L827.1,1812.4 L827.4,1810.4 L827.6,1808.4 L827.9,1806.4 L828.1,1804.4 L828.4,1802.4 L828.6,1800.5 L828.9,1798.5 L829.1,1796.5 L829.4,1794.5 L829.6,1792.5 L829.9,1790.5 L830.2,1788.6 L830.5,1786.6 L830.9,1784.6 L831.2,1782.7 L831.6,1780.7 L832,1778.7 L832.4,1776.8 L832.8,1774.8 L833.2,1772.8 L833.6,1770.9 L834,1768.9 L834.4,1767 L834.8,1765 L835.2,1763 L835.6,1761.1 L836,1759.1 L836.4,1757.2 L836.8,1755.2 L837.2,1753.2 L837.5,1751.3 L837.9,1749.3 L838.2,1747.3 L838.6,1745.4 L838.9,1743.4 L839.2,1741.4 L839.5,1739.4 L839.7,1737.5 L840,1735.5 L840.3,1733.5 L840.6,1731.5 L840.9,1729.5 L841.2,1727.6 L841.5,1725.6 L841.8,1723.6 L842.1,1721.6 L842.4,1719.7 L842.7,1717.7 L843,1715.7 L843.3,1713.7 L843.6,1711.7 L843.9,1709.8 L844.2,1707.8 L844.5,1705.8 L844.8,1703.8 L845.1,1701.9 L845.4,1699.9 L845.7,1697.9 L846,1695.9 L846.3,1693.9 L846.5,1692 L846.8,1690 L847.1,1688 L847.4,1686 L847.7,1684 L848,1682.1 L848.3,1680.1 L848.6,1678.1 L848.9,1676.1 L849.2,1674.2 L849.5,1672.2 L849.8,1670.2 L850.1,1668.2 L850.4,1666.2 L850.7,1664.3 L851,1662.3 L851.3,1660.3 L851.6,1658.3 L851.9,1656.4 L852.2,1654.4 L852.5,1652.4 L852.8,1650.4 L853.1,1648.4 L853.4,1646.5 L853.6,1644.5 L853.9,1642.5 L854.2,1640.5 L854.5,1638.5 L854.7,1636.6 L855,1634.6 L855.2,1632.6 L855.5,1630.6 L855.8,1628.6 L856,1626.6 L856.3,1624.7 L856.6,1622.7 L856.8,1620.7 L857.1,1618.7 L857.3,1616.7 L857.6,1614.8 L857.9,1612.8 L858.2,1610.8 L858.4,1608.8 L858.6,1606.8 L858.8,1604.8 L859,1602.8 L859.2,1600.8 L859.3,1598.8 L859.4,1596.9 L859.5,1594.9 L859.6,1592.9 L859.7,1590.9 L859.8,1588.9 L859.9,1586.9 L860,1584.9 L860.1,1582.9 L860.2,1580.9 L860.3,1578.9 L860.5,1576.9 L860.6,1574.9 L860.7,1572.9 L860.8,1570.9 L860.9,1568.9 L861,1566.9 L861.1,1564.9 L861.2,1562.9 L861.3,1560.9 L861.5,1558.9 L861.6,1556.9 L861.7,1554.9 L861.8,1552.9 L861.9,1550.9 L862,1548.9 L862.1,1547 L862.1,1545 L862.2,1543.3 L862.2,1541.9 L862.3,1541.4" stroke="#1F3FFF"/>
<path d="M164.5,1540 L164.5,1542 L164.5,1544 L164.5,1546 L164.5,1548 L164.5,1550 L164.5,1552 L164.5,1554 L164.5,1556 L164.5,1558 L164.5,1560 L164.5,1562 L164.5,1564 L164.5,1566 L164.5,1568 L164.5,1570 L164.5,1572 L164.5,1574 L164.5,1576 L164.5,1578 L164.5,1580 L164.5,1582 L164.5,1584 L164.5,1586 L164.5,1588 L164.5,1590 L164.5,1592 L164.5,1594 L164.5,1596 L164.5,1598 L164.5,1600 L164.5,1602 L164.5,1604 L164.5,1606 L164.5,1608 L164.5,1610 L164.5,1612 L164.5,1614 L164.5,1616 L164.5,1618 L164.5,1620 L164.5,1622 L164.5,1624 L164.5,1626 L164.5,1628 L164.5,1630 L164.5,1632 L164.5,1634 L164.5,1636 L164.5,1638 L164.5,1640 L164.5,1642 L164.5,1644 L164.5,1646 L164.5,1648 L164.5,1650 L164.5,1652 L164.5,1654 L164.5,1656 L164.5,1658 L164.5,1660 L164.5,1662 L164.5,1664 L164.5,1666 L164.5,1668 L164.5,1670 L164.5,1672 L164.5,1674 L164.5,1676 L164.5,1678 L164.5,1680 L164.5,1682 L164.5,1684 L164.5,1686 L164.5,1688 L164.5,1690 L164.5,1692 L164.5,1694 L164.5,1696 L164.5,1698 L164.5,1700 L164.5,1702 L164.5,1704 L164.5,1706 L164.5,1708 L164.5,1710 L164.5,1712 L164.5,1714 L164.5,1716 L164.5,1718 L164.5,1720 L164.5,1722 L164.5,1724 L164.5,1726 L164.5,1728 L164.5,1730 L164.5,1732 L164.5,1734 L164.5,1736 L164.5,1738 L164.5,1740 L164.5,1742 L164.5,1744 L164.5,1746 L164.5,1748 L164.5,1750 L164.5,1752 L164.5,1754 L164.5,1756 L164.5,1758 L164.5,1760 L164.5,1762 L164.5,1764 L164.5,1766 L164.5,1768 L164.5,1770 L164.5,1772 L164.5,1774 L164.5,1776 L164.5,1778 L164.5,1780 L164.5,1782 L164.5,1784 L164.5,1786 L164.5,1788 L164.5,1790 L164.5,1792 L164.6,1794 L164.6,1796 L164.6,1798 L164.6,1800 L164.6,1802 L164.6,1804 L164.6,1806 L164.6,1808 L164.6,1810 L164.6,1812 L164.6,1814 L164.6,1816 L164.6,1818 L164.6,1820 L164.6,1822 L164.6,1824 L164.6,1826 L164.6,1828 L164.6,1830 L164.6,1832 L164.6,1834 L164.6,1836 L164.6,1838 L164.6,1840 L164.6,1842 L164.6,1844 L164.6,1846 L164.6,1848 L164.6,1850 L164.6,1852 L164.6,1854 L164.6,1856 L164.6,1858 L164.6,1860 L164.6,1862 L164.6,1864 L164.6,1866 L164.6,1868 L164.6,1870 L164.6,1872 L164.6,1874 L164.6,1876 L164.6,1878 L164.5,1880 L164.5,1882 L164.5,1884 L164.6,1886 L164.8,1888 L165.3,1889.9 L166.6,1891.3 L167.9,1892.8 L168.4,1894.7 L168.7,1896.7 L169,1898.7 L169.3,1900.6 L169.5,1902.6 L169.6,1904.6 L169.8,1906.6 L169.9,1908.6 L170,1910.6 L170.3,1912.6 L170.5,1914.6 L170.9,1916.5 L171.2,1918.5 L171.5,1920.5 L171.9,1922.5 L172.2,1924.4 L172.6,1926.4 L172.9,1928.4 L173.2,1930.3 L173.5,1932.3 L173.8,1934.3 L174,1936.3 L174.3,1938.3 L174.5,1940.3 L174.8,1942.2 L175.1,1944.2 L175.3,1946.2 L175.6,1948.2 L175.8,1950.2 L176.1,1952.2 L176.4,1954.1 L176.6,1956.1 L176.9,1958.1 L177.2,1960.1 L177.4,1962.1 L177.7,1964 L178,1966 L178.3,1968 L178.6,1970 L179,1971.9 L179.4,1973.9 L179.8,1975.9 L180.1,1977.8 L180.5,1979.8 L180.9,1981.7 L181.3,1983.7 L181.8,1985.7 L182.2,1987.6 L182.7,1989.5 L183.2,1991.5 L183.7,1993.4 L184.2,1995.4 L184.7,1997.3 L185.2,1999.2 L185.7,2001.1 L186.3,2003.1 L186.9,2005 L187.5,2006.9 L188.2,2008.8 L188.9,2010.6 L189.6,2012.5 L190.3,2014.4 L191,2016.2 L191.8,2018.1 L192.6,2019.9 L193.5,2021.7 L194.5,2023.4 L195.5,2025.1 L196.5,2026.9 L197.5,2028.6 L198.5,2030.3 L199.6,2032 L200.6,2033.8 L201.6,2035.5 L202.6,2037.2 L203.6,2039 L204.6,2040.7 L205.7,2042.3 L206.9,2043.9 L208.2,2045.4 L209.6,2046.9 L211,2048.3 L212.4,2049.7 L213.8,2051.1 L215.1,2052.6 L216.5,2054 L218,2055.3 L219.5,2056.5 L221.2,2057.5 L223,2058.3 L224.9,2058.9 L226.8,2059.4 L228.7,2059.8 L230.7,2060.3 L232.6,2060.7 L234.5,2061.1 L236.5,2061.2 L238.4,2061 L240.3,2060.6 L242.2,2060.1 L244,2059.4 L245.8,2058.6 L247.4,2057.6 L248.9,2056.4 L250.3,2055 L251.5,2053.5 L252.7,2051.8 L253.8,2050.2 L254.9,2048.6 L256.1,2046.9 L257.3,2045.3 L258.4,2043.7 L259.6,2042 L260.7,2040.4 L261.8,2038.7 L262.9,2037.1 L263.9,2035.3 L264.9,2033.6 L265.9,2031.9 L266.9,2030.1 L267.8,2028.4 L268.8,2026.6 L269.8,2024.9 L270.7,2023.1 L271.7,2021.4 L272.7,2019.6 L273.6,2017.9 L274.6,2016.1 L275.6,2014.4 L276.7,2012.7 L277.8,2011 L278.9,2009.4 L280,2007.7 L281.2,2006.1 L282.4,2004.5 L283.5,2002.8 L284.7,2001.2 L285.8,1999.6 L286.9,1997.9 L288.1,1996.3 L289.3,1994.8 L290.7,1993.4 L292.2,1992.1 L293.8,1991 L295.5,1989.9 L297.2,1988.9 L299,1987.9 L300.7,1986.9 L302.4,1985.9 L304.1,1984.9 L305.9,1984 L307.8,1983.4 L309.7,1982.9 L311.6,1982.6 L313.6,1982.4 L315.6,1982.2 L317.6,1982.1 L319.6,1981.9 L321.5,1981.8 L323.5,1981.9 L325.5,1982 L327.4,1982.4 L329.4,1982.8 L331.3,1983.3 L333.3,1983.8 L335.2,1984.3 L337.1,1984.8 L339,1985.4 L340.9,1986.1 L342.7,1986.9 L344.5,1987.7 L346.3,1988.6 L348.1,1989.5 L349.9,1990.4 L351.6,1991.3 L353.4,1992.2 L355.2,1993.2 L357,1994.1 L358.8,1995 L360.6,1995.8 L362.5,1996.5 L364.4,1997 L366.3,1997.5 L368.2,1997.9 L370.2,1998.3 L372.2,1998.6 L374.1,1999 L376.1,1999.5 L378,1999.9 L380,2000.2 L381.9,2000.5 L383.9,2000.5 L385.8,2000.3 L387.7,1999.9 L389.6,1999.2 L391.4,1998.5 L393.2,1997.6 L395,1996.8 L396.9,1996 L398.7,1995.2 L400.6,1994.5 L402.4,1993.8 L404.3,1993.1 L406.2,1992.4 L408.1,1991.7 L409.9,1991 L411.8,1990.3 L413.7,1989.6 L415.5,1988.9 L417.4,1988.3 L419.3,1987.9 L421.2,1987.6 L423.2,1987.7 L425.1,1988 L427,1988.5 L428.9,1989.1 L430.8,1989.7 L432.7,1990.3 L434.5,1991 L436.4,1991.7 L438.2,1992.5 L440,1993.4 L441.8,1994.3 L443.6,1995.2 L445.3,1996.2 L447.1,1997.1 L448.9,1997.9 L450.7,1998.6 L452.6,1999.1 L454.5,1999.3 L456.5,1999.4 L458.5,1999.3 L460.5,1999.1 L462.5,1999 L464.5,1998.9 L466.5,1998.7 L468.5,1998.6 L470.5,1998.5 L472.5,1998.4 L474.5,1998.3 L476.4,1998.2 L478.4,1998.1 L480.4,1997.9 L482.4,1997.8 L484.4,1997.6 L486.4,1997.4 L488.4,1997.2 L490.4,1997 L492.4,1996.8 L494.4,1996.6 L496.4,1996.5 L498.4,1996.3 L500.3,1996.1 L502.3,1995.9 L504.3,1995.7 L506.3,1995.5 L508.3,1995.4 L510.3,1995.3 L512.3,1995.3 L514.3,1995.3 L516.3,1995.3 L518.3,1995.3 L520.3,1995.2 L522.3,1995.2 L524.3,1995.1 L526.3,1995.2 L528.3,1995.3 L530.2,1995.5 L532.2,1995.9 L534.1,1996.4 L536,1997.1 L537.8,1997.8 L539.7,1998.5 L541.6,1999.3 L543.4,2000 L545.3,2000.7 L547.2,2001.4 L549,2002.1 L550.9,2002.8 L552.7,2003.6 L554.6,2004.4 L556.4,2005.3 L558.2,2006.2 L560,2007.1 L561.7,2008 L563.5,2008.9 L565.3,2009.8 L567.1,2010.7 L568.9,2011.6 L570.7,2012.5 L572.4,2013.4 L574.2,2014.3 L576,2015.2 L577.8,2016 L579.7,2016.8 L581.5,2017.5 L583.4,2018.2 L585.3,2018.8 L587.2,2019.5 L589.1,2020.2 L591,2020.8 L592.8,2021.5 L594.7,2022.2 L596.6,2022.8 L598.5,2023.5 L600.4,2024.1 L602.3,2024.7 L604.2,2025.3 L606.1,2025.9 L608.1,2026.4 L610,2027 L611.9,2027.6 L613.8,2028.2 L615.7,2028.8 L617.6,2029.3 L619.6,2029.7 L621.5,2030.1 L623.5,2030.4 L625.5,2030.6 L627.5,2030.8 L629.5,2031 L631.5,2031.3 L633.4,2031.5 L635.4,2031.6 L637.4,2031.6 L639.3,2031.3 L641.2,2030.8 L643,2030.1 L644.8,2029.2 L646.5,2028.3 L648.3,2027.4 L650.1,2026.4 L651.8,2025.5 L653.6,2024.6 L655.4,2023.7 L657.2,2022.9 L659,2022 L660.8,2021.1 L662.6,2020.2 L664.4,2019.2 L666.1,2018.3 L667.9,2017.4 L669.6,2016.4 L671.4,2015.4 L673.1,2014.4 L674.9,2013.5 L676.6,2012.5 L678.4,2011.5 L680.1,2010.6 L681.9,2009.6 L683.6,2008.7 L685.4,2007.7 L687,2006.6 L688.6,2005.4 L690.1,2004.1 L691.4,2002.6 L692.7,2001.1 L694,1999.6 L695.3,1998.1 L696.6,1996.5 L697.9,1995 L699.1,1993.5 L700.4,1991.9 L701.8,1990.4 L703.1,1988.9 L704.4,1987.5 L705.8,1986 L707.2,1984.6 L708.6,1983.2 L710,1981.7 L711.4,1980.3 L712.8,1978.9 L714.3,1977.5 L715.7,1976.1 L717.2,1974.8 L718.7,1973.5 L720.3,1972.2 L721.8,1971 L723.3,1969.8 L724.8,1968.9 L726.2,1968.4 L727.6,1968.6 L728.8,1969.4 L729.8,1970.8 L730.7,1972.4 L731.6,1974.2 L732.4,1976 L733.3,1977.8 L734.2,1979.6 L735,1981.4 L735.9,1983.2 L736.8,1985 L737.6,1986.8 L738.4,1988.6 L739.2,1990.5 L739.9,1992.3 L740.5,1994.2 L741.2,1996.1 L741.9,1998 L742.6,1999.9 L743.2,2001.8 L743.9,2003.6 L744.6,2005.5 L745.3,2007.4 L745.9,2009.3 L746.6,2011.2 L747.3,2013 L748.1,2014.9 L748.9,2016.7 L749.8,2018.5 L750.8,2020.2 L751.8,2021.9 L752.7,2023.7 L753.8,2025.3 L754.9,2026.7 L756.2,2027.7 L757.7,2028.2 L759.4,2028.2 L761.2,2027.8 L763.1,2027.2 L765,2026.5 L766.8,2025.8 L768.7,2025.2 L770.6,2024.6 L772.5,2024 L774.4,2023.4 L776.3,2022.8 L778.1,2022 L779.8,2021 L781.3,2019.8 L782.7,2018.4 L784,2016.9 L785,2015.3 L785.9,2013.5 L786.5,2011.6 L786.9,2009.7 L787.2,2007.8 L787.4,2005.8 L787.6,2003.8 L787.7,2001.8 L787.9,1999.8 L788.2,1997.8 L788.4,1995.8 L788.6,1993.9 L788.9,1991.9 L789.1,1989.9 L789.3,1987.9 L789.6,1985.9 L789.8,1983.9 L790,1981.9 L790.3,1979.9 L790.5,1978 L790.7,1976 L791,1974 L791.2,1972 L791.4,1970 L791.7,1968 L792,1966 L792.2,1964.1 L792.5,1962.1 L792.8,1960.1 L793,1958.1 L793.3,1956.1 L793.6,1954.2 L793.8,1952.2 L794.1,1950.2 L794.4,1948.2 L794.6,1946.2 L794.9,1944.2 L795.2,1942.3 L795.6,1940.3 L796,1938.4 L796.4,1936.4 L796.9,1934.5 L797.4,1932.5 L797.9,1930.6 L798.4,1928.7 L798.9,1926.7 L799.4,1924.8 L799.9,1922.8 L800.3,1920.9 L800.8,1919 L801.3,1917 L801.8,1915.1 L802.3,1913.1 L802.7,1911.2 L803.2,1909.2 L803.7,1907.3 L804.1,1905.4 L804.6,1903.4 L805.2,1901.5 L805.9,1899.7 L806.8,1897.9 L807.8,1896.2 L808.9,1894.6 L810.1,1893.1 L811.3,1891.7 L812.7,1890.6 L814.1,1890 L815.7,1889.9 L817.3,1890 L818.8,1889.9 L820.1,1889.3 L821.1,1888.1 L821.8,1886.6 L822.4,1884.8 L823,1882.9 L823.5,1880.9 L824.1,1879 L824.6,1877.1 L825.2,1875.2 L825.8,1873.3 L826.4,1871.4 L826.9,1869.4 L827.5,1867.5 L828,1865.6 L828.5,1863.6 L829,1861.7 L829.5,1859.8 L830,1857.8 L830.5,1855.9 L831,1854 L831.5,1852 L832,1850.1 L832.5,1848.1 L833,1846.2 L833.5,1844.3 L834,1842.3 L834.5,1840.4 L835,1838.5 L835.5,1836.5 L836,1834.6 L836.5,1832.7 L837,1830.7 L837.5,1828.8 L838,1826.9 L838.5,1824.9 L839,1823 L839.5,1821 L840,1819.1 L840.5,1817.2 L840.9,1815.2 L841.4,1813.3 L841.9,1811.3 L842.4,1809.4 L842.9,1807.5 L843.4,1805.5 L843.8,1803.6 L844.3,1801.6 L844.8,1799.7 L845.3,1797.7 L845.8,1795.8 L846.3,1793.9 L846.8,1791.9 L847.3,1790 L847.9,1788.1 L848.4,1786.2 L848.9,1784.2 L849.4,1782.3 L850,1780.4 L850.5,1778.4 L851,1776.5 L851.5,1774.6 L852.1,1772.6 L852.6,1770.7 L853.1,1768.8 L853.7,1766.9 L854.3,1765 L854.9,1763.1 L855.5,1761.2 L856.2,1759.3 L856.8,1757.4 L857.4,1755.5 L858,1753.6 L858.6,1751.7 L859.2,1749.8 L859.8,1747.9 L860.5,1746 L861.3,1744.2 L862.3,1742.5 L863.4,1740.9 L864.7,1739.4 L866.1,1738.1 L867.6,1737.1 L869.3,1736.6 L871,1736.7 L872.6,1737.3 L874.2,1738.2 L875.8,1739.4 L877.3,1740.7 L878.7,1742 L880.2,1743.4 L881.7,1744.7 L883.2,1745.9 L884.8,1746.9 L886.5,1747.5 L888.2,1747.6 L889.9,1747.2 L891.3,1746.2 L892.4,1744.8 L893.1,1743.2 L893.6,1741.3 L893.9,1739.4 L894.1,1737.4 L894.3,1735.4 L894.6,1733.4 L894.9,1731.4 L895.1,1729.5 L895.4,1727.5 L895.7,1725.5 L896,1723.5 L896.3,1721.5 L896.6,1719.6 L896.8,1717.6 L897.1,1715.6 L897.4,1713.6 L897.7,1711.6 L897.9,1709.7 L898.2,1707.7 L898.4,1705.7 L898.7,1703.7 L898.9,1701.7 L899.1,1699.7 L899.3,1697.7 L899.6,1695.8 L899.8,1693.8 L900,1691.8 L900.3,1689.8 L900.5,1687.8 L900.7,1685.8 L900.9,1683.8 L901.2,1681.9 L901.4,1679.9 L901.6,1677.9 L901.9,1675.9 L902.1,1673.9 L902.3,1671.9 L902.6,1669.9 L902.8,1668 L903.1,1666 L903.3,1664 L903.6,1662 L903.8,1660 L904.1,1658 L904.3,1656 L904.6,1654.1 L904.8,1652.1 L905.1,1650.1 L905.3,1648.1 L905.6,1646.1 L905.8,1644.1 L906,1642.1 L906.2,1640.2 L906.4,1638.2 L906.6,1636.2 L906.8,1634.2 L907,1632.2 L907.2,1630.2 L907.4,1628.2 L907.6,1626.2 L907.8,1624.2 L908,1622.2 L908.2,1620.3 L908.4,1618.3 L908.6,1616.3 L908.8,1614.3 L909,1612.3 L909.2,1610.3 L909.4,1608.3 L909.6,1606.3 L909.7,1604.3 L909.8,1602.3 L909.9,1600.3 L910,1598.3 L910.1,1596.3 L910.2,1594.3 L910.3,1592.3 L910.4,1590.3 L910.5,1588.3 L910.6,1586.4 L910.7,1584.4 L910.8,1582.4 L910.8,1580.4 L910.9,1578.4 L911,1576.4 L911.1,1574.4 L911.2,1572.4 L911.3,1570.4 L911.4,1568.4 L911.5,1566.4 L911.6,1564.4 L911.7,1562.4 L911.8,1560.4 L911.9,1558.4 L912,1556.4 L912.1,1554.4 L912.1,1552.4 L912.2,1550.4 L912.3,1548.4 L912.4,1546.4 L912.5,1544.6 L912.5,1542.9 L912.5,1541.6 L912.6,1541.1" stroke="#FFC000"/>
<path d="M164.5,1540 L164.5,1542 L164.5,1544 L164.5,1546 L164.5,1548 L164.5,1550 L164.5,1552 L164.5,1554 L164.5,1556 L164.5,1558 L164.5,1560 L164.5,1562 L164.5,1564 L164.5,1566 L164.5,1568 L164.5,1570 L164.5,1572 L164.5,1574 L164.5,1576 L164.5,1578 L164.5,1580 L164.5,1582 L164.5,1584 L164.5,1586 L164.5,1588 L164.5,1590 L164.5,1592 L164.5,1594 L164.5,1596 L164.5,1598 L164.5,1600 L164.5,1602 L164.5,1604 L164.5,1606 L164.5,1608 L164.5,1610 L164.5,1612 L164.5,1614 L164.5,1616 L164.5,1618 L164.5,1620 L164.5,1622 L164.5,1624 L164.5,1626 L164.5,1628 L164.5,1630 L164.5,1632 L164.5,1634 L164.5,1636 L164.5,1638 L164.5,1640 L164.5,1642 L164.5,1644 L164.5,1646 L164.5,1648 L164.5,1650 L164.5,1652 L164.5,1654 L164.5,1656 L164.5,1658 L164.5,1660 L164.5,1662 L164.5,1664 L164.5,1666 L164.5,1668 L164.5,1670 L164.5,1672 L164.5,1674 L164.5,1676 L164.5,1678 L164.5,1680 L164.5,1682 L164.5,1684 L164.5,1686 L164.5,1688 L164.5,1690 L164.5,1692 L164.5,1694 L164.5,1696 L164.5,1698 L164.5,1700 L164.5,1702 L164.5,1704 L164.5,1706 L164.5,1708 L164.5,1710 L164.5,1712 L164.5,1714 L164.5,1716 L164.5,1718 L164.5,1720 L164.5,1722 L164.5,1724 L164.5,1726 L164.5,1728 L164.5,1730 L164.5,1732 L164.5,1734 L164.5,1736 L164.5,1738 L164.5,1740 L164.5,1742 L164.5,1744 L164.6,1746 L164.6,1748 L164.6,1750 L164.6,1752 L164.6,1754 L164.6,1756 L164.6,1758 L164.6,1760 L164.6,1762 L164.6,1764 L164.6,1766 L164.6,1768 L164.6,1770 L164.6,1772 L164.6,1774 L164.6,1776 L164.6,1778 L164.6,1780 L164.6,1782 L164.5,1784 L164.6,1786 L164.6,1788 L164.7,1790 L164.8,1792 L165,1794 L165.4,1795.9 L166.6,1797.5 L168.5,1797.5 L169.5,1799.2 L170,1801.1 L170.5,1803.1 L170.8,1805 L171.2,1807 L171.5,1809 L171.7,1810.9 L172,1812.9 L172.2,1814.9 L172.4,1816.9 L172.7,1818.9 L172.9,1820.9 L173.1,1822.9 L173.3,1824.9 L173.5,1826.8 L173.7,1828.8 L173.9,1830.8 L174.1,1832.8 L174.4,1834.8 L174.7,1836.8 L175,1838.7 L175.3,1840.7 L175.7,1842.7 L176,1844.6 L176.4,1846.6 L176.8,1848.6 L177.1,1850.6 L177.5,1852.5 L177.9,1854.5 L178.2,1856.5 L178.6,1858.4 L178.9,1860.4 L179.3,1862.3 L179.7,1864.3 L180.1,1866.3 L180.6,1868.2 L181,1870.2 L181.5,1872.1 L181.9,1874.1 L182.4,1876 L182.8,1878 L183.3,1879.9 L183.7,1881.9 L184.2,1883.8 L184.7,1885.7 L185.2,1887.7 L185.7,1889.6 L186.2,1891.5 L186.8,1893.5 L187.4,1895.4 L187.9,1897.3 L188.5,1899.2 L189.1,1901.1 L189.7,1903 L190.2,1904.9 L190.8,1906.9 L191.4,1908.8 L192,1910.7 L192.7,1912.6 L193.4,1914.4 L194.1,1916.3 L194.8,1918.2 L195.6,1920 L196.3,1921.9 L197.1,1923.7 L197.8,1925.6 L198.5,1927.4 L199.3,1929.3 L200,1931.2 L200.8,1933 L201.6,1934.8 L202.5,1936.6 L203.5,1938.3 L204.5,1940 L205.6,1941.7 L206.7,1943.4 L207.8,1945.1 L208.9,1946.7 L210,1948.4 L211.1,1950 L212.4,1951.6 L213.7,1953 L215.1,1954.4 L216.6,1955.7 L218.2,1957 L219.7,1958.2 L221.4,1959.3 L223.1,1960.2 L224.9,1960.9 L226.8,1961.5 L228.7,1962 L230.7,1962.5 L232.6,1962.9 L234.6,1963.1 L236.6,1963.1 L238.5,1963 L240.5,1962.7 L242.4,1962.3 L244.3,1961.7 L246.2,1961.1 L248,1960.2 L249.7,1959.3 L251.4,1958.2 L253,1957 L254.5,1955.7 L255.9,1954.3 L257.1,1952.8 L258.3,1951.2 L259.3,1949.5 L260.3,1947.7 L261.3,1946 L262.2,1944.2 L263.2,1942.5 L264.2,1940.7 L265.2,1939 L266.2,1937.3 L267.1,1935.5 L268.1,1933.7 L269,1932 L269.9,1930.2 L270.8,1928.4 L271.7,1926.6 L272.6,1924.8 L273.5,1923 L274.4,1921.3 L275.3,1919.5 L276.2,1917.7 L277.1,1915.9 L277.9,1914.1 L278.8,1912.3 L279.7,1910.5 L280.6,1908.7 L281.6,1907 L282.7,1905.3 L283.8,1903.7 L285.1,1902.1 L286.3,1900.6 L287.6,1899.1 L288.9,1897.5 L290.2,1896 L291.4,1894.4 L292.7,1892.9 L294,1891.4 L295.4,1890.1 L297,1888.9 L298.7,1888 L300.5,1887.2 L302.4,1886.6 L304.3,1886 L306.2,1885.4 L308.1,1884.8 L310,1884.2 L311.9,1883.8 L313.9,1883.4 L315.9,1883.2 L317.9,1883.1 L319.8,1883.1 L321.8,1883.1 L323.8,1883.1 L325.8,1883.1 L327.8,1883.2 L329.8,1883.4 L331.8,1883.7 L333.7,1884.1 L335.7,1884.6 L337.6,1885.2 L339.4,1885.8 L341.3,1886.6 L343.1,1887.4 L344.9,1888.3 L346.7,1889.2 L348.5,1890.1 L350.2,1891 L352,1891.9 L353.8,1892.8 L355.6,1893.8 L357.4,1894.7 L359.1,1895.6 L360.9,1896.5 L362.7,1897.4 L364.5,1898.3 L366.3,1899.1 L368.1,1899.9 L370,1900.7 L371.9,1901.4 L373.7,1902 L375.6,1902.7 L377.5,1903.3 L379.4,1904 L381.3,1904.6 L383.2,1905.3 L385.1,1906 L386.9,1906.7 L388.8,1907.4 L390.7,1908.1 L392.5,1908.7 L394.4,1909 L396.3,1909.1 L398.2,1908.8 L400.1,1908.3 L401.9,1907.6 L403.7,1906.8 L405.6,1906 L407.4,1905.2 L409.2,1904.4 L411,1903.5 L412.6,1902.5 L414.2,1901.3 L415.6,1899.9 L417,1898.5 L418.3,1897 L419.6,1895.5 L420.9,1894 L422.3,1892.5 L423.6,1891 L425,1889.5 L426.4,1888.1 L427.9,1886.8 L429.4,1885.6 L431,1884.4 L432.7,1883.2 L434.3,1882 L435.9,1880.9 L437.5,1879.8 L439.2,1879 L440.9,1878.5 L442.7,1878.5 L444.6,1878.9 L446.4,1879.5 L448.2,1880.2 L450,1881 L451.9,1881.8 L453.6,1882.7 L455.3,1883.7 L456.9,1884.9 L458.4,1886.1 L459.9,1887.5 L461.4,1888.8 L462.8,1890.2 L464.2,1891.6 L465.6,1893.1 L467.1,1894.4 L468.6,1895.7 L470.1,1896.9 L471.8,1897.8 L473.6,1898.5 L475.5,1898.9 L477.5,1899.1 L479.5,1899.2 L481.5,1899.3 L483.4,1899.4 L485.4,1899.5 L487.4,1899.6 L489.4,1899.7 L491.4,1899.8 L493.4,1899.9 L495.4,1899.8 L497.4,1899.7 L499.4,1899.5 L501.4,1899.3 L503.4,1899.1 L505.4,1898.8 L507.3,1898.6 L509.3,1898.4 L511.3,1898.2 L513.3,1897.9 L515.3,1897.7 L517.3,1897.5 L519.3,1897.3 L521.2,1897.2 L523.2,1897.3 L525.2,1897.4 L527.2,1897.7 L529.2,1898 L531.1,1898.3 L533.1,1898.6 L535.1,1898.9 L537.1,1899.2 L539,1899.5 L541,1899.8 L543,1900.1 L545,1900.4 L546.9,1900.7 L548.9,1901.1 L550.8,1901.7 L552.7,1902.3 L554.5,1903.1 L556.3,1903.9 L558.2,1904.7 L560,1905.6 L561.8,1906.4 L563.6,1907.3 L565.4,1908.1 L567.2,1908.9 L569.1,1909.8 L570.9,1910.6 L572.7,1911.4 L574.5,1912.2 L576.4,1913 L578.2,1913.8 L580.1,1914.5 L582,1915.2 L583.8,1915.8 L585.7,1916.5 L587.6,1917.1 L589.5,1917.7 L591.4,1918.3 L593.3,1919 L595.2,1919.6 L597.1,1920.2 L599,1920.9 L600.9,1921.4 L602.9,1922 L604.8,1922.6 L606.7,1923.2 L608.6,1923.7 L610.5,1924.3 L612.4,1924.9 L614.3,1925.4 L616.2,1925.7 L618.1,1925.7 L620,1925.3 L621.8,1924.7 L623.6,1923.9 L625.3,1923 L627.1,1922 L628.9,1921.1 L630.6,1920.1 L632.3,1919.1 L634,1918.1 L635.7,1917 L637.3,1915.8 L639,1914.7 L640.6,1913.5 L642.2,1912.3 L643.8,1911.4 L645.6,1910.7 L647.3,1910.3 L649.2,1910.5 L651,1911 L652.8,1911.7 L654.5,1912.6 L656.3,1913.4 L658.1,1914.2 L660,1914.9 L661.9,1915.3 L663.8,1915.4 L665.7,1915.2 L667.6,1914.8 L669.5,1914.3 L671.5,1913.7 L673.4,1913.2 L675.3,1912.7 L677.3,1912.4 L679.2,1912.1 L681.2,1912 L683.2,1912 L685.2,1912 L687.2,1912 L689.2,1912.1 L691.2,1912.1 L693.2,1912.1 L695.1,1911.9 L697.1,1911.5 L699,1910.9 L700.8,1910.2 L702.6,1909.3 L704.2,1908.3 L705.7,1907.1 L707,1905.7 L708.1,1904 L709,1902.3 L709.7,1900.5 L710.4,1898.6 L711.1,1896.7 L711.9,1894.9 L712.6,1893 L713.5,1891.2 L714.4,1889.5 L715.6,1887.9 L716.8,1886.4 L718.2,1884.9 L719.6,1883.5 L721,1882.1 L722.4,1880.7 L723.9,1879.4 L725.5,1878.2 L727.1,1877 L728.8,1875.9 L730.5,1874.9 L732.2,1873.9 L733.9,1872.8 L735.5,1871.8 L737.2,1870.9 L738.9,1870.4 L740.5,1870.3 L742,1870.9 L743.4,1872 L744.5,1873.5 L745.4,1875.2 L746.3,1877 L747,1878.8 L747.6,1880.7 L748.2,1882.6 L748.7,1884.5 L749.3,1886.5 L749.8,1888.4 L750.4,1890.3 L751,1892.2 L751.6,1894.1 L752.2,1896 L752.8,1897.9 L753.4,1899.8 L754,1901.8 L754.5,1903.7 L755.1,1905.6 L755.7,1907.5 L756.3,1909.4 L756.9,1911.3 L757.4,1913.2 L758,1915.2 L758.6,1917.1 L759.2,1919 L759.7,1920.9 L760.3,1922.8 L760.8,1924.7 L761.3,1926.7 L761.8,1928.6 L762.3,1930.5 L763,1932.1 L763.9,1933.4 L765.2,1934.2 L766.7,1934.4 L768.5,1934.2 L770.3,1933.6 L772.1,1932.9 L773.9,1932.1 L775.8,1931.4 L777.7,1930.7 L779.5,1930 L781.4,1929.3 L783.2,1928.4 L785,1927.6 L786.8,1926.7 L788.5,1925.7 L790.2,1924.8 L791.8,1923.7 L793.1,1922.4 L794.1,1920.8 L794.8,1919.1 L795.4,1917.2 L795.8,1915.3 L796.1,1913.3 L796.5,1911.3 L796.9,1909.4 L797.3,1907.4 L797.7,1905.5 L798,1903.5 L798.3,1901.5 L798.5,1899.5 L798.7,1897.5 L798.9,1895.5 L799.1,1893.5 L799.3,1891.6 L799.5,1889.6 L799.7,1887.6 L799.9,1885.6 L800.1,1883.6 L800.3,1881.6 L800.5,1879.6 L800.7,1877.6 L800.9,1875.6 L801,1873.6 L801.2,1871.7 L801.4,1869.7 L801.6,1867.7 L801.8,1865.7 L802,1863.7 L802.2,1861.7 L802.4,1859.7 L802.6,1857.7 L802.8,1855.7 L803,1853.7 L803.3,1851.8 L803.5,1849.8 L803.8,1847.8 L804.1,1845.8 L804.4,1843.8 L804.6,1841.9 L804.9,1839.9 L805.2,1837.9 L805.5,1835.9 L805.8,1833.9 L806,1832 L806.3,1830 L806.6,1828 L807,1826 L807.3,1824.1 L807.7,1822.1 L808.1,1820.1 L808.5,1818.2 L808.9,1816.2 L809.3,1814.2 L809.6,1812.3 L810,1810.3 L810.4,1808.4 L810.8,1806.4 L811.2,1804.4 L811.6,1802.5 L812.2,1800.6 L812.8,1798.7 L813.6,1796.9 L814.4,1795.1 L815.4,1793.5 L816.5,1792.2 L817.8,1791.4 L819.3,1791.3 L820.7,1791.9 L822.1,1792.9 L823.4,1794.3 L824.6,1795.9 L825.7,1797.4 L826.8,1798.7 L827.8,1799.5 L828.8,1799.6 L829.6,1798.9 L830.2,1797.5 L830.7,1795.8 L831,1793.9 L831.4,1792 L831.8,1790 L832.3,1788.1 L832.7,1786.1 L833.2,1784.2 L833.6,1782.2 L834.1,1780.3 L834.6,1778.3 L835.1,1776.4 L835.6,1774.5 L836.3,1772.6 L837,1770.7 L837.7,1768.9 L838.5,1767 L839.2,1765.2 L840,1763.3 L840.7,1761.5 L841.4,1759.6 L842.2,1757.7 L842.9,1755.9 L843.7,1754 L844.4,1752.2 L845.1,1750.3 L845.9,1748.4 L846.6,1746.6 L847.3,1744.7 L847.9,1742.8 L848.6,1740.9 L849.3,1739 L850,1737.2 L850.7,1735.3 L851.4,1733.4 L852,1731.5 L852.7,1729.7 L853.4,1727.8 L854.1,1725.9 L854.8,1724 L855.5,1722.1 L856.1,1720.2 L856.8,1718.4 L857.4,1716.5 L858,1714.6 L858.7,1712.7 L859.3,1710.8 L859.9,1708.9 L860.6,1707 L861.2,1705.1 L861.8,1703.2 L862.4,1701.3 L863.1,1699.4 L863.7,1697.5 L864.5,1695.6 L865.2,1693.8 L866,1691.9 L866.8,1690.1 L867.5,1688.3 L868.3,1686.4 L869.1,1684.6 L869.9,1682.7 L870.8,1681 L871.8,1679.3 L873,1677.9 L874.5,1676.6 L876,1675.4 L877.7,1674.4 L879.4,1673.6 L881.1,1673 L882.8,1672.9 L884.5,1673.2 L886.2,1674 L887.9,1674.9 L889.5,1676 L891.1,1677.2 L892.7,1678.4 L894.1,1679.7 L895.5,1681.1 L896.9,1682.5 L898.4,1683.6 L899.9,1684.3 L901.4,1684.4 L902.8,1683.8 L904.1,1682.7 L905.1,1681.2 L906,1679.4 L906.7,1677.6 L907.3,1675.7 L907.8,1673.8 L908.3,1671.8 L908.8,1669.9 L909.3,1668 L909.9,1666 L910.4,1664.1 L911,1662.2 L911.5,1660.3 L911.9,1658.3 L912.3,1656.4 L912.7,1654.4 L912.9,1652.4 L913.2,1650.4 L913.4,1648.5 L913.7,1646.5 L913.9,1644.5 L914.2,1642.5 L914.4,1640.5 L914.7,1638.5 L914.9,1636.5 L915.2,1634.6 L915.4,1632.6 L915.7,1630.6 L915.9,1628.6 L916.2,1626.6 L916.4,1624.6 L916.7,1622.7 L916.9,1620.7 L917.2,1618.7 L917.4,1616.7 L917.7,1614.7 L917.9,1612.7 L918.2,1610.7 L918.4,1608.8 L918.7,1606.8 L918.9,1604.8 L919.1,1602.8 L919.3,1600.8 L919.5,1598.8 L919.7,1596.8 L919.8,1594.8 L920,1592.8 L920.2,1590.9 L920.4,1588.9 L920.6,1586.9 L920.8,1584.9 L921,1582.9 L921.1,1580.9 L921.3,1578.9 L921.5,1576.9 L921.7,1574.9 L921.9,1572.9 L922.1,1570.9 L922.2,1568.9 L922.4,1567 L922.6,1565 L922.8,1563 L923,1561 L923.2,1559 L923.4,1557 L923.6,1555 L923.7,1553 L923.9,1551 L924.1,1549 L924.2,1547.1 L924.3,1545.2 L924.4,1543.4 L924.5,1542 L924.6,1541 L924.6,1541" stroke="#FF0000"/>
</g>
<text x="160.6" y="2214" font-size="38" text-anchor="middle" >0</text>
<text x="315.5" y="2214" font-size="38" > </text>
<path d="M763,0 L583,0 L583,1098 C540,1059 483,1019 413,980 C343,941 280,911 224,891 L224,1058 C325,1103 413,1158 488,1222 C563,1286 616,1349 647,1409 L763,1409 Z" transform="translate(315.51,2214.00) scale(0.01855,-0.01855)" fill="#000"/>
<text x="491.6" y="2214" font-size="38" text-anchor="middle" >2</text>
<text x="657" y="2214" font-size="38" text-anchor="middle" >3</text>
<text x="822.5" y="2214" font-size="38" text-anchor="middle" >4</text>
<text x="988" y="2214" font-size="38" text-anchor="middle" >5</text>
<text x="134.7" y="2112.1" font-size="38" text-anchor="end" >0.2</text>
<text x="134.7" y="2011.8" font-size="38" text-anchor="end" >0.4</text>
<text x="134.7" y="1911.5" font-size="38" text-anchor="end" >0.6</text>
<text x="134.7" y="1811.2" font-size="38" text-anchor="end" >0.8</text>
<text x="81.9" y="1710.9" font-size="38" > .0</text>
<path d="M763,0 L583,0 L583,1098 C540,1059 483,1019 413,980 C343,941 280,911 224,891 L224,1058 C325,1103 413,1158 488,1222 C563,1286 616,1349 647,1409 L763,1409 Z" transform="translate(81.87,1710.90) scale(0.01855,-0.01855)" fill="#000"/>
<text x="81.9" y="1610.6" font-size="38" > .2</text>
<path d="M763,0 L583,0 L583,1098 C540,1059 483,1019 413,980 C343,941 280,911 224,891 L224,1058 C325,1103 413,1158 488,1222 C563,1286 616,1349 647,1409 L763,1409 Z" transform="translate(81.87,1610.60) scale(0.01855,-0.01855)" fill="#000"/>
<text x="570.5" y="2265.8" font-size="46" text-anchor="middle" textLength="521" lengthAdjust="spacing">discharge capacity Q / Ah</text>
<g transform="translate(70.7,2005.5) rotate(-90)"><text font-size="45">dU/dQ / V Ah<tspan font-size="30" dy="-18.9">-</tspan></text><path d="M763,0 L583,0 L583,1098 C540,1059 483,1019 413,980 C343,941 280,911 224,891 L224,1058 C325,1103 413,1158 488,1222 C563,1286 616,1349 647,1409 L763,1409 Z" transform="translate(272.63,-18.90) scale(0.01465,-0.01465)" fill="#000"/></g>
<text x="-0.5" y="1582" font-size="55.5" text-anchor="start" >c)</text>
<text x="284" y="1859.6" font-size="36" textLength="88" lengthAdjust="spacingAndGlyphs">NMC</text>
<text x="424.7" y="1865" font-size="36">Gr<tspan font-size="25" dy="9.5">2</tspan></text>
<text x="729.6" y="1862.5" font-size="36">Gr</text>
<path d="M763,0 L583,0 L583,1098 C540,1059 483,1019 413,980 C343,941 280,911 224,891 L224,1058 C325,1103 413,1158 488,1222 C563,1286 616,1349 647,1409 L763,1409 Z" transform="translate(771.59,1872.50) scale(0.01221,-0.01221)" fill="#000"/>
<text x="853" y="1661.2" font-size="36">Si<tspan font-size="25" dy="9.5">2</tspan></text>
<text x="780" y="1777.6" font-size="36">Si</text>
<path d="M763,0 L583,0 L583,1098 C540,1059 483,1019 413,980 C343,941 280,911 224,891 L224,1058 C325,1103 413,1158 488,1222 C563,1286 616,1349 647,1409 L763,1409 Z" transform="translate(814.01,1787.10) scale(0.01221,-0.01221)" fill="#000"/>
</svg>
</body></html>
